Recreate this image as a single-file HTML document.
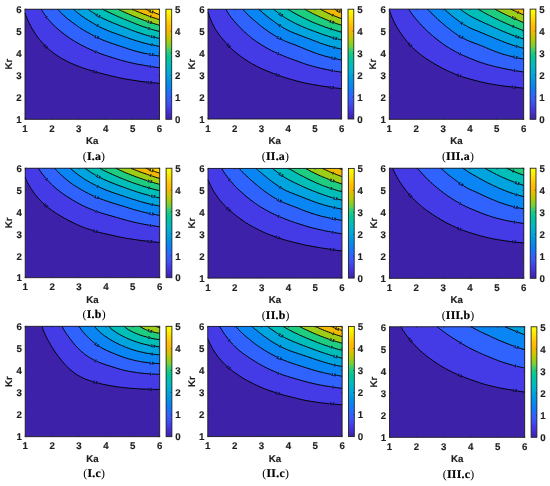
<!DOCTYPE html>
<html lang="en"><head><meta charset="utf-8"><title>Contour plots</title>
<style>html,body{margin:0;padding:0;background:#fff}body{width:550px;height:486px;overflow:hidden}svg{display:block}text{text-rendering:geometricPrecision}</style></head>
<body>
<svg width="550" height="486" viewBox="0 0 550 486">
<defs><linearGradient id="pg" x1="0" y1="1" x2="0" y2="0">
<stop offset="0.0000" stop-color="#3d21a8"/>
<stop offset="0.0159" stop-color="#3e24b4"/>
<stop offset="0.0317" stop-color="#4028c0"/>
<stop offset="0.0476" stop-color="#412ccb"/>
<stop offset="0.0635" stop-color="#4331d5"/>
<stop offset="0.0794" stop-color="#4435de"/>
<stop offset="0.0952" stop-color="#4439e5"/>
<stop offset="0.1111" stop-color="#3f3feb"/>
<stop offset="0.1270" stop-color="#3e4af0"/>
<stop offset="0.1429" stop-color="#3d4ef4"/>
<stop offset="0.1587" stop-color="#3a54f8"/>
<stop offset="0.1746" stop-color="#3759fb"/>
<stop offset="0.1905" stop-color="#345efd"/>
<stop offset="0.2063" stop-color="#2e64fe"/>
<stop offset="0.2222" stop-color="#2769ff"/>
<stop offset="0.2381" stop-color="#1e6ffe"/>
<stop offset="0.2540" stop-color="#1576fc"/>
<stop offset="0.2698" stop-color="#107afa"/>
<stop offset="0.2857" stop-color="#0c80f7"/>
<stop offset="0.3016" stop-color="#0985f3"/>
<stop offset="0.3175" stop-color="#058bef"/>
<stop offset="0.3333" stop-color="#0091eb"/>
<stop offset="0.3492" stop-color="#0095e8"/>
<stop offset="0.3651" stop-color="#009ae5"/>
<stop offset="0.3810" stop-color="#00a0e3"/>
<stop offset="0.3968" stop-color="#00a4df"/>
<stop offset="0.4127" stop-color="#00a9db"/>
<stop offset="0.4286" stop-color="#00add6"/>
<stop offset="0.4444" stop-color="#00b2d0"/>
<stop offset="0.4603" stop-color="#00b6ca"/>
<stop offset="0.4762" stop-color="#00b9c3"/>
<stop offset="0.4921" stop-color="#00bdbd"/>
<stop offset="0.5079" stop-color="#00bfb5"/>
<stop offset="0.5238" stop-color="#00c1ac"/>
<stop offset="0.5397" stop-color="#00c4a4"/>
<stop offset="0.5556" stop-color="#01c79b"/>
<stop offset="0.5714" stop-color="#09c992"/>
<stop offset="0.5873" stop-color="#13cb88"/>
<stop offset="0.6032" stop-color="#21cd7d"/>
<stop offset="0.6190" stop-color="#32ce72"/>
<stop offset="0.6349" stop-color="#43d066"/>
<stop offset="0.6508" stop-color="#69d043"/>
<stop offset="0.6667" stop-color="#7bd035"/>
<stop offset="0.6825" stop-color="#8bcf27"/>
<stop offset="0.6984" stop-color="#9bcd19"/>
<stop offset="0.7143" stop-color="#accc0c"/>
<stop offset="0.7302" stop-color="#bdc902"/>
<stop offset="0.7460" stop-color="#cac700"/>
<stop offset="0.7619" stop-color="#d7c200"/>
<stop offset="0.7778" stop-color="#e2bf00"/>
<stop offset="0.7937" stop-color="#edbc00"/>
<stop offset="0.8095" stop-color="#f7b900"/>
<stop offset="0.8254" stop-color="#ffb801"/>
<stop offset="0.8413" stop-color="#ffbc00"/>
<stop offset="0.8571" stop-color="#ffc200"/>
<stop offset="0.8730" stop-color="#ffc900"/>
<stop offset="0.8889" stop-color="#ffd000"/>
<stop offset="0.9048" stop-color="#ffd800"/>
<stop offset="0.9206" stop-color="#fedf00"/>
<stop offset="0.9365" stop-color="#fce800"/>
<stop offset="0.9524" stop-color="#fcef00"/>
<stop offset="0.9683" stop-color="#fdf500"/>
<stop offset="0.9841" stop-color="#fefc00"/>
<stop offset="1.0000" stop-color="#ffff00"/>
</linearGradient></defs>
<rect width="550" height="486" fill="#fff"/>
<g>
<rect x="25" y="9.2" width="134.5" height="110.1" fill="#3d21a8"/>
<path d="M151.4 82.6L151.7 82.6L153.7 82.8L155.6 83L157.6 83.2L159.5 83.4L159.5 82.6L159.5 81L159.5 79.4L159.5 77.8L159.5 76.2L159.5 74.6L159.5 73L159.5 71.4L159.5 69.8L159.5 68.2L159.5 66.6L159.5 65L159.5 63.5L159.5 61.9L159.5 60.3L159.5 58.7L159.5 57.1L159.5 55.5L159.5 53.9L159.5 52.3L159.5 50.7L159.5 49.1L159.5 47.5L159.5 45.9L159.5 44.3L159.5 42.7L159.5 41.1L159.5 39.5L159.5 37.9L159.5 36.3L159.5 34.7L159.5 33.1L159.5 31.5L159.5 29.9L159.5 28.3L159.5 26.8L159.5 25.2L159.5 23.6L159.5 22L159.5 20.4L159.5 18.8L159.5 17.2L159.5 15.6L159.5 14L159.5 12.4L159.5 10.8L159.5 9.2L157.6 9.2L155.6 9.2L153.7 9.2L151.7 9.2L149.8 9.2L147.8 9.2L145.9 9.2L143.9 9.2L142 9.2L140 9.2L138.1 9.2L136.1 9.2L134.2 9.2L132.2 9.2L130.3 9.2L128.3 9.2L126.4 9.2L124.4 9.2L122.5 9.2L120.5 9.2L118.6 9.2L116.6 9.2L114.7 9.2L112.7 9.2L110.8 9.2L108.8 9.2L106.9 9.2L104.9 9.2L103 9.2L101 9.2L99.1 9.2L97.1 9.2L95.2 9.2L93.2 9.2L91.3 9.2L89.3 9.2L87.4 9.2L85.4 9.2L83.5 9.2L81.5 9.2L79.6 9.2L77.6 9.2L75.7 9.2L73.7 9.2L71.8 9.2L69.8 9.2L67.9 9.2L65.9 9.2L64 9.2L62 9.2L60.1 9.2L58.1 9.2L56.2 9.2L54.2 9.2L52.3 9.2L50.3 9.2L48.4 9.2L46.4 9.2L44.5 9.2L42.5 9.2L40.6 9.2L38.6 9.2L36.7 9.2L34.7 9.2L32.8 9.2L30.8 9.2L28.9 9.2L26.9 9.2L25 9.2L25 10.8L25 12.4L25 13.1L25.3 14L25.9 15.6L26.6 17.2L26.9 18.1L27.2 18.8L27.9 20.4L28.7 22L28.9 22.4L29.5 23.6L30.3 25.2L30.8 26.3L31.1 26.8L32 28.3L32.8 29.7L32.9 29.9L33.9 31.5L34.7 32.9L34.9 33.1L36 34.7L36.7 35.7L37.1 36.3L38.3 37.9L38.6 38.4L39.6 39.5L40.6 40.8L40.9 41.1L42.3 42.7L42.5 43L43.7 44.3L44.5 45.1L45.3 45.9L46.4 47L47 47.5L48.4 48.8L48.7 49.1L50.3 50.5L50.6 50.7L52.3 52L52.6 52.3L54.2 53.5L54.7 53.9L56.2 54.9L57 55.5L58.1 56.2L59.5 57.1L60.1 57.4L62 58.6L62.2 58.7L64 59.7L65.1 60.3L65.9 60.7L67.9 61.7L68.2 61.9L69.8 62.6L71.6 63.5L71.8 63.5L73.7 64.4L75.3 65L75.7 65.2L77.6 66L79.3 66.6L79.6 66.7L81.5 67.5L83.5 68.1L83.8 68.2L85.4 68.8L87.4 69.4L88.7 69.8L89.3 70L91.3 70.6L93.2 71.2L93.9 71.4L95.2 71.8L97.1 72.3L99.1 72.9L99.7 73L101 73.4L103 73.9L104.9 74.4L106.1 74.6L106.9 74.8L108.8 75.3L110.8 75.8L112.7 76.2L112.7 76.2L114.7 76.7L116.6 77.1L118.6 77.6L119.7 77.8L120.5 78L122.5 78.4L124.4 78.8L126.4 79.1L128 79.4L128.3 79.5L130.3 79.8L132.2 80.1L134.2 80.4L136.1 80.7L138.1 81L138.1 81L140 81.3L142 81.5L143.9 81.8L145.9 82L147.8 82.2L149.8 82.4Z" fill="#443be7"/>
<path d="M152 66.6L153.7 66.9L155.6 67.2L157.6 67.5L159.5 67.7L159.5 66.6L159.5 65L159.5 63.5L159.5 61.9L159.5 60.3L159.5 58.7L159.5 57.1L159.5 55.5L159.5 53.9L159.5 52.3L159.5 50.7L159.5 49.1L159.5 47.5L159.5 45.9L159.5 44.3L159.5 42.7L159.5 41.1L159.5 39.5L159.5 37.9L159.5 36.3L159.5 34.7L159.5 33.1L159.5 31.5L159.5 29.9L159.5 28.3L159.5 26.8L159.5 25.2L159.5 23.6L159.5 22L159.5 20.4L159.5 18.8L159.5 17.2L159.5 15.6L159.5 14L159.5 12.4L159.5 10.8L159.5 9.2L157.6 9.2L155.6 9.2L153.7 9.2L151.7 9.2L149.8 9.2L147.8 9.2L145.9 9.2L143.9 9.2L142 9.2L140 9.2L138.1 9.2L136.1 9.2L134.2 9.2L132.2 9.2L130.3 9.2L128.3 9.2L126.4 9.2L124.4 9.2L122.5 9.2L120.5 9.2L118.6 9.2L116.6 9.2L114.7 9.2L112.7 9.2L110.8 9.2L108.8 9.2L106.9 9.2L104.9 9.2L103 9.2L101 9.2L99.1 9.2L97.1 9.2L95.2 9.2L93.2 9.2L91.3 9.2L89.3 9.2L87.4 9.2L85.4 9.2L83.5 9.2L81.5 9.2L79.6 9.2L77.6 9.2L75.7 9.2L73.7 9.2L71.8 9.2L69.8 9.2L67.9 9.2L65.9 9.2L64 9.2L62 9.2L60.1 9.2L58.1 9.2L56.2 9.2L54.2 9.2L52.3 9.2L50.3 9.2L48.4 9.2L46.4 9.2L44.5 9.2L42.5 9.2L41.2 9.2L42.2 10.8L42.5 11.4L43.2 12.4L44.3 14L44.5 14.3L45.4 15.6L46.4 16.9L46.6 17.2L47.9 18.8L48.4 19.4L49.2 20.4L50.3 21.7L50.6 22L52.1 23.6L52.3 23.8L53.6 25.2L54.2 25.8L55.3 26.8L56.2 27.6L57 28.3L58.1 29.3L58.9 29.9L60.1 30.9L60.8 31.5L62 32.5L62.8 33.1L64 34L64.9 34.7L65.9 35.5L67.1 36.3L67.9 36.9L69.4 37.9L69.8 38.2L71.8 39.5L71.8 39.5L73.7 40.7L74.3 41.1L75.7 41.9L77 42.7L77.6 43L79.6 44.1L79.9 44.3L81.5 45.2L83 45.9L83.5 46.2L85.4 47.1L86.2 47.5L87.4 48.1L89.3 49L89.6 49.1L91.3 49.9L93.2 50.7L93.2 50.7L95.2 51.5L97 52.3L97.1 52.3L99.1 53.1L101 53.8L101.2 53.9L103 54.5L104.9 55.2L105.8 55.5L106.9 55.8L108.8 56.5L110.7 57.1L110.8 57.1L112.7 57.7L114.7 58.3L115.9 58.7L116.6 58.9L118.6 59.5L120.5 60.1L121.2 60.3L122.5 60.6L124.4 61.1L126.4 61.6L127.3 61.9L128.3 62.1L130.3 62.6L132.2 63L134.2 63.5L134.2 63.5L136.1 63.9L138.1 64.3L140 64.6L142 65L142.3 65L143.9 65.3L145.9 65.7L147.8 66L149.8 66.3L151.7 66.6Z" fill="#3062fd"/>
<path d="M156 55.5L157.6 55.8L159.5 56.1L159.5 55.5L159.5 53.9L159.5 52.3L159.5 50.7L159.5 49.1L159.5 47.5L159.5 45.9L159.5 44.3L159.5 42.7L159.5 41.1L159.5 39.5L159.5 37.9L159.5 36.3L159.5 34.7L159.5 33.1L159.5 31.5L159.5 29.9L159.5 28.3L159.5 26.8L159.5 25.2L159.5 23.6L159.5 22L159.5 20.4L159.5 18.8L159.5 17.2L159.5 15.6L159.5 14L159.5 12.4L159.5 10.8L159.5 9.2L157.6 9.2L155.6 9.2L153.7 9.2L151.7 9.2L149.8 9.2L147.8 9.2L145.9 9.2L143.9 9.2L142 9.2L140 9.2L138.1 9.2L136.1 9.2L134.2 9.2L132.2 9.2L130.3 9.2L128.3 9.2L126.4 9.2L124.4 9.2L122.5 9.2L120.5 9.2L118.6 9.2L116.6 9.2L114.7 9.2L112.7 9.2L110.8 9.2L108.8 9.2L106.9 9.2L104.9 9.2L103 9.2L101 9.2L99.1 9.2L97.1 9.2L95.2 9.2L93.2 9.2L91.3 9.2L89.3 9.2L87.4 9.2L85.4 9.2L83.5 9.2L81.5 9.2L79.6 9.2L77.6 9.2L75.7 9.2L73.7 9.2L71.8 9.2L69.8 9.2L67.9 9.2L65.9 9.2L64 9.2L62 9.2L60.1 9.2L58.1 9.2L57.7 9.2L58.1 9.7L59.2 10.8L60.1 11.8L60.7 12.4L62 13.8L62.3 14L63.9 15.6L64 15.6L65.7 17.2L65.9 17.4L67.6 18.8L67.9 19L69.7 20.4L69.8 20.5L71.8 21.9L71.9 22L73.7 23.4L74 23.6L75.7 24.8L76.2 25.2L77.6 26.2L78.4 26.8L79.6 27.6L80.8 28.3L81.5 28.8L83.3 29.9L83.5 30.1L85.4 31.2L86 31.5L87.4 32.3L89 33.1L89.3 33.3L91.3 34.4L91.9 34.7L93.2 35.4L95 36.3L95.2 36.4L97.1 37.4L98.1 37.9L99.1 38.4L101 39.3L101.6 39.5L103 40.1L104.9 40.9L105.6 41.1L106.9 41.6L108.8 42.3L110 42.7L110.8 43L112.7 43.7L114.6 44.3L114.7 44.3L116.6 45L118.6 45.7L119.3 45.9L120.5 46.3L122.5 46.9L124.2 47.5L124.4 47.6L126.4 48.2L128.3 48.9L128.9 49.1L130.3 49.5L132.2 50.1L134 50.7L134.2 50.7L136.1 51.3L138.1 51.8L140 52.3L140 52.3L142 52.7L143.9 53.2L145.9 53.6L147.5 53.9L147.8 53.9L149.8 54.3L151.7 54.7L153.7 55L155.6 55.4Z" fill="#0986f3"/>
<path d="M156.9 45.9L157.6 46L159.5 46.4L159.5 45.9L159.5 44.3L159.5 42.7L159.5 41.1L159.5 39.5L159.5 37.9L159.5 36.3L159.5 34.7L159.5 33.1L159.5 31.5L159.5 29.9L159.5 28.3L159.5 26.8L159.5 25.2L159.5 23.6L159.5 22L159.5 20.4L159.5 18.8L159.5 17.2L159.5 15.6L159.5 14L159.5 12.4L159.5 10.8L159.5 9.2L157.6 9.2L155.6 9.2L153.7 9.2L151.7 9.2L149.8 9.2L147.8 9.2L145.9 9.2L143.9 9.2L142 9.2L140 9.2L138.1 9.2L136.1 9.2L134.2 9.2L132.2 9.2L130.3 9.2L128.3 9.2L126.4 9.2L124.4 9.2L122.5 9.2L120.5 9.2L118.6 9.2L116.6 9.2L114.7 9.2L112.7 9.2L110.8 9.2L108.8 9.2L106.9 9.2L104.9 9.2L103 9.2L101 9.2L99.1 9.2L97.1 9.2L95.2 9.2L93.2 9.2L91.3 9.2L89.3 9.2L87.4 9.2L85.4 9.2L83.5 9.2L81.5 9.2L79.6 9.2L77.6 9.2L75.7 9.2L73.7 9.2L73.4 9.2L73.7 9.5L75.2 10.8L75.7 11.2L77.2 12.4L77.6 12.8L79.2 14L79.6 14.3L81.3 15.6L81.5 15.8L83.5 17.2L83.5 17.2L85.4 18.5L85.8 18.8L87.4 19.7L88.4 20.4L89.3 20.9L91.1 22L91.3 22.1L93.2 23.2L93.8 23.6L95.2 24.4L96.6 25.2L97.1 25.5L99.1 26.5L99.5 26.8L101 27.5L102.7 28.3L103 28.5L104.9 29.3L106.3 29.9L106.9 30.2L108.8 31L110.2 31.5L110.8 31.8L112.7 32.5L114.4 33.1L114.7 33.2L116.6 33.9L118.6 34.6L118.8 34.7L120.5 35.3L122.5 36L123.3 36.3L124.4 36.7L126.4 37.4L127.9 37.9L128.3 38.1L130.3 38.8L132.2 39.4L132.5 39.5L134.2 40.1L136.1 40.7L137.4 41.1L138.1 41.3L140 41.9L142 42.5L142.9 42.7L143.9 43L145.9 43.5L147.8 44L149.3 44.3L149.8 44.4L151.7 44.8L153.7 45.2L155.6 45.6Z" fill="#00a5df"/>
<path d="M157.1 37.9L157.6 38L159.5 38.5L159.5 37.9L159.5 36.3L159.5 34.7L159.5 33.1L159.5 31.5L159.5 29.9L159.5 28.3L159.5 26.8L159.5 25.2L159.5 23.6L159.5 22L159.5 20.4L159.5 18.8L159.5 17.2L159.5 15.6L159.5 14L159.5 12.4L159.5 10.8L159.5 9.2L157.6 9.2L155.6 9.2L153.7 9.2L151.7 9.2L149.8 9.2L147.8 9.2L145.9 9.2L143.9 9.2L142 9.2L140 9.2L138.1 9.2L136.1 9.2L134.2 9.2L132.2 9.2L130.3 9.2L128.3 9.2L126.4 9.2L124.4 9.2L122.5 9.2L120.5 9.2L118.6 9.2L116.6 9.2L114.7 9.2L112.7 9.2L110.8 9.2L108.8 9.2L106.9 9.2L104.9 9.2L103 9.2L101 9.2L99.1 9.2L97.1 9.2L95.2 9.2L93.2 9.2L91.3 9.2L89.3 9.2L88 9.2L89.3 10.2L90.2 10.8L91.3 11.5L92.6 12.4L93.2 12.8L95.2 14L95.2 14L97.1 15.2L97.9 15.6L99.1 16.3L100.7 17.2L101 17.4L103 18.4L103.8 18.8L104.9 19.3L106.9 20.2L107.2 20.4L108.8 21.1L110.8 21.9L110.9 22L112.7 22.7L114.7 23.5L114.7 23.6L116.6 24.3L118.6 25.1L118.7 25.2L120.5 25.9L122.5 26.6L122.8 26.8L124.4 27.4L126.4 28.1L126.9 28.3L128.3 28.9L130.3 29.6L131.1 29.9L132.2 30.4L134.2 31.1L135.4 31.5L136.1 31.8L138.1 32.5L140 33.1L140 33.1L142 33.8L143.9 34.4L144.9 34.7L145.9 35L147.8 35.6L149.8 36.1L150.6 36.3L151.7 36.6L153.7 37.1L155.6 37.6Z" fill="#00beb8"/>
<path d="M153.7 29.9L155.6 30.5L157.6 31L159.5 31.5L159.5 29.9L159.5 28.3L159.5 26.8L159.5 25.2L159.5 23.6L159.5 22L159.5 20.4L159.5 18.8L159.5 17.2L159.5 15.6L159.5 14L159.5 12.4L159.5 10.8L159.5 9.2L157.6 9.2L155.6 9.2L153.7 9.2L151.7 9.2L149.8 9.2L147.8 9.2L145.9 9.2L143.9 9.2L142 9.2L140 9.2L138.1 9.2L136.1 9.2L134.2 9.2L132.2 9.2L130.3 9.2L128.3 9.2L126.4 9.2L124.4 9.2L122.5 9.2L120.5 9.2L118.6 9.2L116.6 9.2L114.7 9.2L112.7 9.2L110.8 9.2L108.8 9.2L106.9 9.2L104.9 9.2L103 9.2L102.6 9.2L103 9.4L104.9 10.4L105.6 10.8L106.9 11.4L108.8 12.3L109 12.4L110.8 13.2L112.4 14L112.7 14.1L114.7 15L115.9 15.6L116.6 15.9L118.6 16.8L119.5 17.2L120.5 17.6L122.5 18.4L123.4 18.8L124.4 19.2L126.4 20L127.3 20.4L128.3 20.8L130.3 21.6L131.2 22L132.2 22.4L134.2 23.2L135.1 23.6L136.1 24L138.1 24.7L139.2 25.2L140 25.5L142 26.2L143.6 26.8L143.9 26.8L145.9 27.5L147.8 28.1L148.5 28.3L149.8 28.8L151.7 29.4L153.7 29.9Z" fill="#1ecd7f"/>
<path d="M159 25.2L159.5 25.3L159.5 25.2L159.5 23.6L159.5 22L159.5 20.4L159.5 18.8L159.5 17.2L159.5 15.6L159.5 14L159.5 12.4L159.5 10.8L159.5 9.2L157.6 9.2L155.6 9.2L153.7 9.2L151.7 9.2L149.8 9.2L147.8 9.2L145.9 9.2L143.9 9.2L142 9.2L140 9.2L138.1 9.2L136.1 9.2L134.2 9.2L132.2 9.2L130.3 9.2L128.3 9.2L126.4 9.2L124.4 9.2L122.5 9.2L120.5 9.2L118.6 9.2L117.9 9.2L118.6 9.5L120.5 10.4L121.3 10.8L122.5 11.3L124.4 12.2L124.9 12.4L126.4 13L128.3 13.9L128.5 14L130.3 14.7L132.2 15.6L132.2 15.6L134.2 16.4L136 17.2L136.1 17.2L138.1 18L140 18.7L140.1 18.8L142 19.5L143.9 20.2L144.3 20.4L145.9 20.9L147.8 21.6L148.9 22L149.8 22.3L151.7 22.9L153.7 23.5L153.8 23.6L155.6 24.1L157.6 24.7Z" fill="#9ecd17"/>
<path d="M156.7 18.8L157.6 19L159.5 19.7L159.5 18.8L159.5 17.2L159.5 15.6L159.5 14L159.5 12.4L159.5 10.8L159.5 9.2L157.6 9.2L155.6 9.2L153.7 9.2L151.7 9.2L149.8 9.2L147.8 9.2L145.9 9.2L143.9 9.2L142 9.2L140 9.2L138.1 9.2L136.1 9.2L134.2 9.2L132.2 9.2L132.1 9.2L132.2 9.2L134.2 10.1L135.7 10.8L136.1 11L138.1 11.8L139.4 12.4L140 12.6L142 13.4L143.4 14L143.9 14.2L145.9 14.9L147.6 15.6L147.8 15.7L149.8 16.4L151.7 17.1L152 17.2L153.7 17.8L155.6 18.4Z" fill="#f1ba00"/>
<path d="M157.8 14L159.5 14.6L159.5 14L159.5 12.4L159.5 10.8L159.5 9.2L157.6 9.2L155.6 9.2L153.7 9.2L151.7 9.2L149.8 9.2L147.8 9.2L145.9 9.2L145.5 9.2L145.9 9.3L147.8 10.1L149.4 10.8L149.8 10.9L151.7 11.7L153.5 12.4L153.7 12.4L155.6 13.2L157.6 13.9Z" fill="#ffd600"/>
<path d="M25 13.1L25.3 14L25.9 15.6L26.6 17.2L26.9 18.1L27.2 18.8L27.9 20.4L28.7 22L28.9 22.4L29.5 23.6L30.3 25.2L30.8 26.3L31.1 26.8L32 28.3L32.8 29.7L32.9 29.9L33.9 31.5L34.7 32.9L34.9 33.1L36 34.7L36.7 35.7L37.1 36.3L38.3 37.9L38.6 38.4L39.6 39.5L40.6 40.8L40.9 41.1L42.3 42.7L42.5 43L43.7 44.3L43.9 44.4M47.6 48.1L48.4 48.8L48.7 49.1L50.3 50.5L50.6 50.7L52.3 52L52.6 52.3L54.2 53.5L54.7 53.9L56.2 54.9L57 55.5L58.1 56.2L59.5 57.1L60.1 57.4L62 58.6L62.2 58.7L64 59.7L65.1 60.3L65.9 60.7L67.9 61.7L68.2 61.9L69.8 62.6L71.6 63.5L71.8 63.5L73.7 64.4L75.3 65L75.7 65.2L77.6 66L79.3 66.6L79.6 66.7L81.5 67.5L83.5 68.1L83.8 68.2L85.4 68.8L87.4 69.4L88.7 69.8L89.3 70L91.3 70.6L92.4 71M97.4 72.4L99.1 72.9L99.7 73L101 73.4L103 73.9L104.9 74.4L106.1 74.6L106.9 74.8L108.8 75.3L110.8 75.8L112.7 76.2L112.7 76.2L114.7 76.7L116.6 77.1L118.6 77.6L119.7 77.8L120.5 78L122.5 78.4L124.4 78.8L126.4 79.1L128 79.4L128.3 79.5L130.3 79.8L132.2 80.1L134.2 80.4L136.1 80.7L138.1 81L138.1 81L140 81.3L142 81.5L143.9 81.8L145.9 82L147 82.1M152.1 82.7L153.7 82.8L155.6 83L157.6 83.2L159.5 83.4M41.2 9.2L42.2 10.8L42.5 11.4L43.2 12.4L44.3 14L44.5 14.3L45.4 15.6L45.9 16.1M47.2 17.9L47.9 18.8L48.4 19.4L49.2 20.4L50.3 21.7L50.6 22L52.1 23.6L52.3 23.8L53.6 25.2L54.2 25.8L55.3 26.8L56.2 27.6L57 28.3L58.1 29.3L58.9 29.9L60.1 30.9L60.8 31.5L62 32.5L62.8 33.1L64 34L64.9 34.7L65.9 35.5L67.1 36.3L67.9 36.9L69.4 37.9L69.8 38.2L71.8 39.5L71.8 39.5L73.7 40.7L74.3 41.1L75.7 41.9L77 42.7L77.6 43L79.6 44.1L79.9 44.3L81.5 45.2L83 45.9L83.5 46.2L85.4 47.1L86.2 47.5L87.4 48.1L89.3 49L89.6 49.1L91.3 49.9L93.2 50.7L93.2 50.7L94.7 51.4M96.8 52.2L97 52.3L97.1 52.3L99.1 53.1L101 53.8L101.2 53.9L103 54.5L104.9 55.2L105.8 55.5L106.9 55.8L108.8 56.5L110.7 57.1L110.8 57.1L112.7 57.7L114.7 58.3L115.9 58.7L116.6 58.9L118.6 59.5L120.5 60.1L121.2 60.3L122.5 60.6L124.4 61.1L126.4 61.6L127.3 61.9L128.3 62.1L130.3 62.6L132.2 63L134.2 63.5L134.2 63.5L136.1 63.9L138.1 64.3L140 64.6L142 65L142.3 65L143.9 65.3L145.9 65.7L147.8 66L149.3 66.2M151.4 66.6L151.7 66.6L152 66.6L153.7 66.9L155.6 67.2L157.6 67.5L159.5 67.7M57.7 9.2L58.1 9.7L59.2 10.8L60.1 11.8L60.7 12.4L62 13.8L62.3 14L63.9 15.6L64 15.6L65.7 17.2L65.9 17.4L67.6 18.8L67.9 19L69.7 20.4L69.8 20.5L71.8 21.9L71.9 22L73.7 23.4L74 23.6L75.7 24.8L76.2 25.2L77.6 26.2L78.4 26.8L79.6 27.6L80.8 28.3L81.5 28.8L83.3 29.9L83.5 30.1L85.4 31.2L86 31.5L87.4 32.3L89 33.1L89.3 33.3L91.3 34.4L91.9 34.7L93.2 35.4L94.2 35.9M98.9 38.3L99.1 38.4L101 39.3L101.6 39.5L103 40.1L104.9 40.9L105.6 41.1L106.9 41.6L108.8 42.3L110 42.7L110.8 43L112.7 43.7L114.6 44.3L114.7 44.3L116.6 45L118.6 45.7L119.3 45.9L120.5 46.3L122.5 46.9L124.2 47.5L124.4 47.6L126.4 48.2L128.3 48.9L128.9 49.1L130.3 49.5L132.2 50.1L134 50.7L134.2 50.7L136.1 51.3L138.1 51.8L140 52.3L140 52.3L142 52.7L143.9 53.2L145.9 53.6L147.5 53.9L147.8 53.9L148.6 54.1M153.7 55.1L155.6 55.4L156 55.5L157.6 55.8L159.5 56.1M73.4 9.2L73.7 9.5L75.2 10.8L75.7 11.2L77.2 12.4L77.6 12.8L79.2 14L79.6 14.3L81.3 15.6L81.5 15.8L83.5 17.2L83.5 17.2L85.4 18.5L85.8 18.8L87.4 19.7L88.4 20.4L89.3 20.9L91.1 22L91.3 22.1L93.2 23.2L93.8 23.6L95.2 24.4L96.4 25M98.3 26.1L99.1 26.5L99.5 26.8L101 27.5L102.7 28.3L103 28.5L104.9 29.3L106.3 29.9L106.9 30.2L108.8 31L110.2 31.5L110.8 31.8L112.7 32.5L114.4 33.1L114.7 33.2L116.6 33.9L118.6 34.6L118.8 34.7L120.5 35.3L122.5 36L123.3 36.3L124.4 36.7L126.4 37.4L127.9 37.9L128.3 38.1L130.3 38.8L132.2 39.4L132.5 39.5L134.2 40.1L136.1 40.7L137.4 41.1L138.1 41.3L140 41.9L142 42.5L142.9 42.7L143.9 43L145.9 43.5L147.8 44L149.3 44.3L149.8 44.4L150.9 44.6M153 45.1L153.7 45.2L155.6 45.6L156.9 45.9L157.6 46L159.5 46.4M88 9.2L89.3 10.2L90.2 10.8L91.3 11.5L92.6 12.4L93.2 12.8L95.2 14L95.2 14L95.9 14.4M100.4 17L100.7 17.2L101 17.4L103 18.4L103.8 18.8L104.9 19.3L106.9 20.2L107.2 20.4L108.8 21.1L110.8 21.9L110.9 22L112.7 22.7L114.7 23.5L114.7 23.6L116.6 24.3L118.6 25.1L118.7 25.2L120.5 25.9L122.5 26.6L122.8 26.8L124.4 27.4L126.4 28.1L126.9 28.3L128.3 28.9L130.3 29.6L131.1 29.9L132.2 30.4L134.2 31.1L135.4 31.5L136.1 31.8L138.1 32.5L140 33.1L140 33.1L142 33.8L143.9 34.4L144.9 34.7L145.9 35L147.8 35.6L149.8 36.1L150.2 36.2M155.3 37.5L155.6 37.6L157.1 37.9L157.6 38L159.5 38.5M102.6 9.2L103 9.4L104.9 10.4L105.6 10.8L106.9 11.4L108.8 12.3L109 12.4L110.8 13.2L112.4 14L112.7 14.1L114.7 15L115.9 15.6L116.6 15.9L118.6 16.8L119.5 17.2L120.5 17.6L122.5 18.4L123.4 18.8L124.4 19.2L126.4 20L127.3 20.4L128.3 20.8L130.3 21.6L131.2 22L132.2 22.4L134.2 23.2L135.1 23.6L136.1 24L138.1 24.7L139.2 25.2L140 25.5L142 26.2L143.6 26.8L143.9 26.8L145.9 27.5L147.7 28.1M149.8 28.8L151.7 29.4L153.7 29.9L153.7 29.9L155.6 30.5L157.6 31L159.5 31.5M117.9 9.2L118.6 9.5L120.5 10.4L121.3 10.8L122.5 11.3L124.4 12.2L124.9 12.4L126.4 13L128.3 13.9L128.5 14L130.3 14.7L132.2 15.6L132.2 15.6L134.2 16.4L136 17.2L136.1 17.2L138.1 18L140 18.7L140.1 18.8L142 19.5L143.9 20.2L144.3 20.4L145.9 20.9L147.1 21.4M152 23L153.7 23.5L153.8 23.6L155.6 24.1L157.6 24.7L159 25.2L159.5 25.3M132.1 9.2L132.2 9.2L134.2 10.1L135.7 10.8L136.1 11L138.1 11.8L139.4 12.4L140 12.6L142 13.4L143.4 14L143.9 14.2L145.9 14.9L147.6 15.6L147.8 15.7L149.3 16.2M151.4 17L151.7 17.1L152 17.2L153.7 17.8L155.6 18.4L156.7 18.8L157.6 19L159.5 19.7M145.5 9.2L145.9 9.3L147.8 10.1L148.7 10.5M153.6 12.4L153.7 12.4L155.6 13.2L157.6 13.9L157.8 14L159.5 14.6" fill="none" stroke="#000" stroke-width="1" stroke-linejoin="round"/>
<g font-family="'Liberation Sans', Arial, sans-serif" font-size="3.4" font-weight="bold" fill="#0a0a28" stroke="#0a0a28" stroke-width="0.25" text-anchor="middle">
<text transform="translate(45.7 46.3) rotate(44.3)" y="1.1">0.5</text>
<text transform="translate(94.9 71.7) rotate(16.1)" y="1.1">0.5</text>
<text transform="translate(149.6 82.4) rotate(6.1)" y="1.1">0.5</text>
<text transform="translate(46.5 17) rotate(52.8)" y="1.1">1</text>
<text transform="translate(95.7 51.8) rotate(22.2)" y="1.1">1</text>
<text transform="translate(150.4 66.4) rotate(8.8)" y="1.1">1</text>
<text transform="translate(96.5 37.1) rotate(26.6)" y="1.1">1.5</text>
<text transform="translate(151.2 54.6) rotate(10.6)" y="1.1">1.5</text>
<text transform="translate(97.3 25.6) rotate(28.8)" y="1.1">2</text>
<text transform="translate(152 44.9) rotate(12.1)" y="1.1">2</text>
<text transform="translate(98.1 15.8) rotate(29.9)" y="1.1">2.5</text>
<text transform="translate(152.8 36.9) rotate(14)" y="1.1">2.5</text>
<text transform="translate(148.8 28.4) rotate(17.6)" y="1.1">3</text>
<text transform="translate(149.6 22.2) rotate(18.4)" y="1.1">3.5</text>
<text transform="translate(150.4 16.6) rotate(19.7)" y="1.1">4</text>
<text transform="translate(151.2 11.5) rotate(21.4)" y="1.1">4.5</text>
</g>
<rect x="25" y="9.2" width="134.5" height="110.1" fill="none" stroke="#1c1c1c" stroke-width="0.9"/>
<path d="M25 119.3v-1.4M25 9.2v1.4M25 119.3h1.4M159.5 119.3h-1.4M51.9 119.3v-1.4M51.9 9.2v1.4M25 97.3h1.4M159.5 97.3h-1.4M78.8 119.3v-1.4M78.8 9.2v1.4M25 75.3h1.4M159.5 75.3h-1.4M105.7 119.3v-1.4M105.7 9.2v1.4M25 53.2h1.4M159.5 53.2h-1.4M132.6 119.3v-1.4M132.6 9.2v1.4M25 31.2h1.4M159.5 31.2h-1.4M159.5 119.3v-1.4M159.5 9.2v1.4M25 9.2h1.4M159.5 9.2h-1.4" stroke="#262626" stroke-width="0.6" fill="none"/>
<g font-family="'Liberation Sans', Arial, sans-serif" font-weight="bold" font-size="9.7" fill="#1f1f1f" stroke="#1f1f1f" stroke-width="0.15">
<text x="25" y="131.9" text-anchor="middle">1</text>
<text x="21.6" y="123" text-anchor="end">1</text>
<text x="51.9" y="131.9" text-anchor="middle">2</text>
<text x="21.6" y="101" text-anchor="end">2</text>
<text x="78.8" y="131.9" text-anchor="middle">3</text>
<text x="21.6" y="79" text-anchor="end">3</text>
<text x="105.7" y="131.9" text-anchor="middle">4</text>
<text x="21.6" y="56.9" text-anchor="end">4</text>
<text x="132.6" y="131.9" text-anchor="middle">5</text>
<text x="21.6" y="34.9" text-anchor="end">5</text>
<text x="159.5" y="131.9" text-anchor="middle">6</text>
<text x="21.6" y="12.9" text-anchor="end">6</text>
<text x="92.2" y="144.4" text-anchor="middle">Ka</text>
<text transform="translate(12.1 64.2) rotate(-90)" text-anchor="middle">Kr</text>
<rect x="165.9" y="9.2" width="5.8" height="110.1" fill="url(#pg)" stroke="#1c1c1c" stroke-width="0.85" />
<text x="175.1" y="123">0</text>
<text x="175.1" y="101">1</text>
<text x="175.1" y="79">2</text>
<text x="175.1" y="56.9">3</text>
<text x="175.1" y="34.9">4</text>
<text x="175.1" y="12.9">5</text>
</g>
<path d="M171.7 97.3h-1.2M171.7 75.3h-1.2M171.7 53.2h-1.2M171.7 31.2h-1.2" stroke="#262626" stroke-width="0.6" fill="none"/>
<text x="94" y="159.9" text-anchor="middle" font-family="'Liberation Serif', 'Times New Roman', serif" font-size="11.8" letter-spacing="0.25" fill="#000">(<tspan font-weight="bold" stroke="#000" stroke-width="0.2">I.a</tspan>)</text>
</g>
<g>
<rect x="208" y="9.2" width="133.6" height="109.8" fill="#3d21a8"/>
<path d="M329.9 87.2L330 87.2L331.9 87.5L333.9 87.7L335.8 88L337.7 88.2L339.7 88.4L341.6 88.7L341.6 87.2L341.6 85.6L341.6 84L341.6 82.4L341.6 80.8L341.6 79.2L341.6 77.6L341.6 76L341.6 74.4L341.6 72.9L341.6 71.3L341.6 69.7L341.6 68.1L341.6 66.5L341.6 64.9L341.6 63.3L341.6 61.7L341.6 60.1L341.6 58.5L341.6 56.9L341.6 55.3L341.6 53.8L341.6 52.2L341.6 50.6L341.6 49L341.6 47.4L341.6 45.8L341.6 44.2L341.6 42.6L341.6 41L341.6 39.4L341.6 37.8L341.6 36.3L341.6 34.7L341.6 33.1L341.6 31.5L341.6 29.9L341.6 28.3L341.6 26.7L341.6 25.1L341.6 23.5L341.6 21.9L341.6 20.3L341.6 18.7L341.6 17.2L341.6 15.6L341.6 14L341.6 12.4L341.6 10.8L341.6 9.2L339.7 9.2L337.7 9.2L335.8 9.2L333.9 9.2L331.9 9.2L330 9.2L328 9.2L326.1 9.2L324.2 9.2L322.2 9.2L320.3 9.2L318.4 9.2L316.4 9.2L314.5 9.2L312.6 9.2L310.6 9.2L308.7 9.2L306.7 9.2L304.8 9.2L302.9 9.2L300.9 9.2L299 9.2L297.1 9.2L295.1 9.2L293.2 9.2L291.3 9.2L289.3 9.2L287.4 9.2L285.4 9.2L283.5 9.2L281.6 9.2L279.6 9.2L277.7 9.2L275.8 9.2L273.8 9.2L271.9 9.2L270 9.2L268 9.2L266.1 9.2L264.2 9.2L262.2 9.2L260.3 9.2L258.3 9.2L256.4 9.2L254.5 9.2L252.5 9.2L250.6 9.2L248.7 9.2L246.7 9.2L244.8 9.2L242.9 9.2L240.9 9.2L239 9.2L237 9.2L235.1 9.2L233.2 9.2L231.2 9.2L229.3 9.2L227.4 9.2L225.4 9.2L223.5 9.2L221.6 9.2L219.6 9.2L217.7 9.2L215.7 9.2L213.8 9.2L211.9 9.2L209.9 9.2L208 9.2L208 10.8L208 11.9L208.1 12.4L208.7 14L209.2 15.6L209.8 17.2L209.9 17.5L210.4 18.7L211 20.3L211.7 21.9L211.9 22.3L212.4 23.5L213.2 25.1L213.8 26.4L214 26.7L214.9 28.3L215.7 29.7L215.9 29.9L216.9 31.5L217.7 32.6L218 33.1L219.2 34.7L219.6 35.3L220.4 36.3L221.6 37.7L221.7 37.8L223 39.4L223.5 40L224.4 41L225.4 42.2L225.8 42.6L227.2 44.2L227.4 44.4L228.7 45.8L229.3 46.4L230.3 47.4L231.2 48.3L231.9 49L233.2 50.2L233.6 50.6L235.1 51.9L235.5 52.2L237 53.5L237.4 53.8L239 55L239.4 55.3L240.9 56.5L241.5 56.9L242.9 57.9L243.8 58.5L244.8 59.2L246.2 60.1L246.7 60.5L248.7 61.7L248.7 61.7L250.6 62.9L251.4 63.3L252.5 64L254.2 64.9L254.5 65L256.4 66.1L257.2 66.5L258.3 67L260.3 68L260.5 68.1L262.2 68.9L264 69.7L264.2 69.7L266.1 70.6L267.8 71.3L268 71.4L270 72.1L271.8 72.9L271.9 72.9L273.8 73.6L275.8 74.4L276 74.4L277.7 75.1L279.6 75.8L280.4 76L281.6 76.5L283.5 77.1L285.1 77.6L285.4 77.7L287.4 78.3L289.3 78.9L290.5 79.2L291.3 79.4L293.2 80L295.1 80.5L296.1 80.8L297.1 81.1L299 81.6L300.9 82.1L302.4 82.4L302.9 82.5L304.8 83L306.7 83.4L308.7 83.7L310 84L310.6 84.1L312.6 84.5L314.5 84.8L316.4 85.1L318.4 85.4L319.2 85.6L320.3 85.8L322.2 86.1L324.2 86.4L326.1 86.6L328 86.9Z" fill="#443be7"/>
<path d="M335.7 71.3L335.8 71.3L337.7 71.6L339.7 71.9L341.6 72.3L341.6 71.3L341.6 69.7L341.6 68.1L341.6 66.5L341.6 64.9L341.6 63.3L341.6 61.7L341.6 60.1L341.6 58.5L341.6 56.9L341.6 55.3L341.6 53.8L341.6 52.2L341.6 50.6L341.6 49L341.6 47.4L341.6 45.8L341.6 44.2L341.6 42.6L341.6 41L341.6 39.4L341.6 37.8L341.6 36.3L341.6 34.7L341.6 33.1L341.6 31.5L341.6 29.9L341.6 28.3L341.6 26.7L341.6 25.1L341.6 23.5L341.6 21.9L341.6 20.3L341.6 18.7L341.6 17.2L341.6 15.6L341.6 14L341.6 12.4L341.6 10.8L341.6 9.2L339.7 9.2L337.7 9.2L335.8 9.2L333.9 9.2L331.9 9.2L330 9.2L328 9.2L326.1 9.2L324.2 9.2L322.2 9.2L320.3 9.2L318.4 9.2L316.4 9.2L314.5 9.2L312.6 9.2L310.6 9.2L308.7 9.2L306.7 9.2L304.8 9.2L302.9 9.2L300.9 9.2L299 9.2L297.1 9.2L295.1 9.2L293.2 9.2L291.3 9.2L289.3 9.2L287.4 9.2L285.4 9.2L283.5 9.2L281.6 9.2L279.6 9.2L277.7 9.2L275.8 9.2L273.8 9.2L271.9 9.2L270 9.2L268 9.2L266.1 9.2L264.2 9.2L262.2 9.2L260.3 9.2L258.3 9.2L256.4 9.2L254.5 9.2L252.5 9.2L250.6 9.2L248.7 9.2L246.7 9.2L244.8 9.2L242.9 9.2L240.9 9.2L239 9.2L237 9.2L235.1 9.2L233.2 9.2L231.2 9.2L229.3 9.2L227.4 9.2L225.7 9.2L226.7 10.8L227.4 11.9L227.7 12.4L228.7 14L229.3 14.8L229.8 15.6L231 17.2L231.2 17.4L232.2 18.7L233.2 19.9L233.5 20.3L234.9 21.9L235.1 22.2L236.3 23.5L237 24.3L237.8 25.1L239 26.4L239.3 26.7L240.8 28.3L240.9 28.4L242.4 29.9L242.9 30.3L244.1 31.5L244.8 32.1L245.8 33.1L246.7 33.9L247.6 34.7L248.7 35.6L249.4 36.3L250.6 37.3L251.3 37.8L252.5 38.8L253.4 39.4L254.5 40.2L255.7 41L256.4 41.5L258 42.6L258.3 42.8L260.3 44.1L260.5 44.2L262.2 45.3L263.1 45.8L264.2 46.5L265.7 47.4L266.1 47.6L268 48.7L268.5 49L270 49.7L271.6 50.6L271.9 50.7L273.8 51.7L274.9 52.2L275.8 52.5L277.7 53.4L278.5 53.8L279.6 54.3L281.6 55.1L282.2 55.3L283.5 55.9L285.4 56.7L286.1 56.9L287.4 57.5L289.3 58.2L290.2 58.5L291.3 58.9L293.2 59.6L294.5 60.1L295.1 60.3L297.1 61L298.9 61.7L299 61.7L300.9 62.5L302.9 63.2L303.3 63.3L304.8 63.8L306.7 64.5L308.2 64.9L308.7 65L310.6 65.6L312.6 66.2L313.8 66.5L314.5 66.7L316.4 67.2L318.4 67.7L320.2 68.1L320.3 68.1L322.2 68.6L324.2 69L326.1 69.4L327.4 69.7L328 69.8L330 70.2L331.9 70.6L333.9 70.9Z" fill="#3062fd"/>
<path d="M334.9 58.5L335.8 58.7L337.7 59.2L339.7 59.6L341.6 60L341.6 58.5L341.6 56.9L341.6 55.3L341.6 53.8L341.6 52.2L341.6 50.6L341.6 49L341.6 47.4L341.6 45.8L341.6 44.2L341.6 42.6L341.6 41L341.6 39.4L341.6 37.8L341.6 36.3L341.6 34.7L341.6 33.1L341.6 31.5L341.6 29.9L341.6 28.3L341.6 26.7L341.6 25.1L341.6 23.5L341.6 21.9L341.6 20.3L341.6 18.7L341.6 17.2L341.6 15.6L341.6 14L341.6 12.4L341.6 10.8L341.6 9.2L339.7 9.2L337.7 9.2L335.8 9.2L333.9 9.2L331.9 9.2L330 9.2L328 9.2L326.1 9.2L324.2 9.2L322.2 9.2L320.3 9.2L318.4 9.2L316.4 9.2L314.5 9.2L312.6 9.2L310.6 9.2L308.7 9.2L306.7 9.2L304.8 9.2L302.9 9.2L300.9 9.2L299 9.2L297.1 9.2L295.1 9.2L293.2 9.2L291.3 9.2L289.3 9.2L287.4 9.2L285.4 9.2L283.5 9.2L281.6 9.2L279.6 9.2L277.7 9.2L275.8 9.2L273.8 9.2L271.9 9.2L270 9.2L268 9.2L266.1 9.2L264.2 9.2L262.2 9.2L260.3 9.2L258.3 9.2L256.4 9.2L254.5 9.2L252.5 9.2L250.6 9.2L248.7 9.2L246.7 9.2L244.8 9.2L242.9 9.2L242.8 9.2L242.9 9.3L244.1 10.8L244.8 11.5L245.6 12.4L246.7 13.6L247.1 14L248.7 15.5L248.8 15.6L250.5 17.2L250.6 17.3L252.3 18.7L252.5 19L254.2 20.3L254.5 20.6L256.1 21.9L256.4 22.2L257.9 23.5L258.3 23.9L259.8 25.1L260.3 25.5L261.8 26.7L262.2 27L263.9 28.3L264.2 28.5L266 29.9L266.1 29.9L268 31.3L268.3 31.5L270 32.6L270.8 33.1L271.9 33.8L273.3 34.7L273.8 35L275.8 36.2L275.9 36.3L277.7 37.3L278.6 37.8L279.6 38.4L281.6 39.4L281.6 39.4L283.5 40.4L284.9 41L285.4 41.3L287.4 42L288.9 42.6L289.3 42.8L291.3 43.5L293.2 44.2L293.3 44.2L295.1 44.9L297.1 45.7L297.2 45.8L299 46.5L300.9 47.3L301.1 47.4L302.9 48.1L304.8 48.9L305 49L306.7 49.7L308.7 50.5L308.9 50.6L310.6 51.2L312.6 52L313 52.2L314.5 52.7L316.4 53.4L317.4 53.8L318.4 54.1L320.3 54.7L322.2 55.3L322.4 55.3L324.2 55.9L326.1 56.4L328 56.9L328.3 56.9L330 57.4L331.9 57.8L333.9 58.3Z" fill="#0986f3"/>
<path d="M340.7 49L341.6 49.2L341.6 49L341.6 47.4L341.6 45.8L341.6 44.2L341.6 42.6L341.6 41L341.6 39.4L341.6 37.8L341.6 36.3L341.6 34.7L341.6 33.1L341.6 31.5L341.6 29.9L341.6 28.3L341.6 26.7L341.6 25.1L341.6 23.5L341.6 21.9L341.6 20.3L341.6 18.7L341.6 17.2L341.6 15.6L341.6 14L341.6 12.4L341.6 10.8L341.6 9.2L339.7 9.2L337.7 9.2L335.8 9.2L333.9 9.2L331.9 9.2L330 9.2L328 9.2L326.1 9.2L324.2 9.2L322.2 9.2L320.3 9.2L318.4 9.2L316.4 9.2L314.5 9.2L312.6 9.2L310.6 9.2L308.7 9.2L306.7 9.2L304.8 9.2L302.9 9.2L300.9 9.2L299 9.2L297.1 9.2L295.1 9.2L293.2 9.2L291.3 9.2L289.3 9.2L287.4 9.2L285.4 9.2L283.5 9.2L281.6 9.2L279.6 9.2L277.7 9.2L275.8 9.2L273.8 9.2L271.9 9.2L270 9.2L268 9.2L266.1 9.2L264.2 9.2L262.2 9.2L260.3 9.2L258.7 9.2L260.3 10.6L260.5 10.8L262.2 12.3L262.3 12.4L264.1 14L264.2 14L266.1 15.6L266.1 15.6L268 17.1L268.1 17.2L270 18.6L270.2 18.7L271.9 20L272.3 20.3L273.8 21.4L274.5 21.9L275.8 22.8L276.8 23.5L277.7 24.2L279.1 25.1L279.6 25.5L281.5 26.7L281.6 26.7L283.5 27.9L284.2 28.3L285.4 29L287.1 29.9L287.4 30L289.3 31L290.4 31.5L291.3 31.8L293.2 32.7L294.2 33.1L295.1 33.4L297.1 34.2L298.2 34.7L299 35L300.9 35.7L302.4 36.3L302.9 36.4L304.8 37.2L306.6 37.8L306.7 37.9L308.7 38.6L310.6 39.3L310.8 39.4L312.6 40.1L314.5 40.9L314.9 41L316.4 41.6L318.4 42.3L319.1 42.6L320.3 43.1L322.2 43.7L323.6 44.2L324.2 44.4L326.1 45L328 45.6L328.6 45.8L330 46.2L331.9 46.8L333.9 47.3L334.3 47.4L335.8 47.8L337.7 48.3L339.7 48.7Z" fill="#00a5df"/>
<path d="M339.5 39.4L339.7 39.5L341.6 40L341.6 39.4L341.6 37.8L341.6 36.3L341.6 34.7L341.6 33.1L341.6 31.5L341.6 29.9L341.6 28.3L341.6 26.7L341.6 25.1L341.6 23.5L341.6 21.9L341.6 20.3L341.6 18.7L341.6 17.2L341.6 15.6L341.6 14L341.6 12.4L341.6 10.8L341.6 9.2L339.7 9.2L337.7 9.2L335.8 9.2L333.9 9.2L331.9 9.2L330 9.2L328 9.2L326.1 9.2L324.2 9.2L322.2 9.2L320.3 9.2L318.4 9.2L316.4 9.2L314.5 9.2L312.6 9.2L310.6 9.2L308.7 9.2L306.7 9.2L304.8 9.2L302.9 9.2L300.9 9.2L299 9.2L297.1 9.2L295.1 9.2L293.2 9.2L291.3 9.2L289.3 9.2L287.4 9.2L285.4 9.2L283.5 9.2L281.6 9.2L279.6 9.2L277.7 9.2L275.8 9.2L273.8 9.2L273.6 9.2L273.8 9.4L275.6 10.8L275.8 11L277.6 12.4L277.7 12.5L279.6 13.9L279.7 14L281.6 15.3L281.9 15.6L283.5 16.7L284.3 17.2L285.4 17.9L286.8 18.7L287.4 19.1L289.3 20.2L289.5 20.3L291.3 21.3L292.5 21.9L293.2 22.3L295.1 23.3L295.6 23.5L297.1 24.2L299 25.1L299 25.1L300.9 26L302.5 26.7L302.9 26.8L304.8 27.7L306.4 28.3L306.7 28.5L308.7 29.2L310.4 29.9L310.6 30L312.6 30.7L314.5 31.4L314.6 31.5L316.4 32.1L318.4 32.8L319 33.1L320.3 33.5L322.2 34.2L323.5 34.7L324.2 34.9L326.1 35.5L328 36.2L328.3 36.3L330 36.8L331.9 37.3L333.6 37.8L333.9 37.9L335.8 38.5L337.7 39Z" fill="#00beb8"/>
<path d="M339 31.5L339.7 31.7L341.6 32.2L341.6 31.5L341.6 29.9L341.6 28.3L341.6 26.7L341.6 25.1L341.6 23.5L341.6 21.9L341.6 20.3L341.6 18.7L341.6 17.2L341.6 15.6L341.6 14L341.6 12.4L341.6 10.8L341.6 9.2L339.7 9.2L337.7 9.2L335.8 9.2L333.9 9.2L331.9 9.2L330 9.2L328 9.2L326.1 9.2L324.2 9.2L322.2 9.2L320.3 9.2L318.4 9.2L316.4 9.2L314.5 9.2L312.6 9.2L310.6 9.2L308.7 9.2L306.7 9.2L304.8 9.2L302.9 9.2L300.9 9.2L299 9.2L297.1 9.2L295.1 9.2L293.2 9.2L291.3 9.2L289.3 9.2L288.1 9.2L289.3 10L290.5 10.8L291.3 11.3L293.1 12.4L293.2 12.4L295.1 13.5L296 14L297.1 14.6L299 15.6L299 15.6L300.9 16.6L302.1 17.2L302.9 17.6L304.8 18.5L305.2 18.7L306.7 19.5L308.5 20.3L308.7 20.4L310.6 21.3L312 21.9L312.6 22.2L314.5 23L315.9 23.5L316.4 23.7L318.4 24.5L320.1 25.1L320.3 25.2L322.2 25.9L324.2 26.6L324.3 26.7L326.1 27.4L328 28L328.8 28.3L330 28.7L331.9 29.3L333.7 29.9L333.9 29.9L335.8 30.5L337.7 31.1Z" fill="#1ecd7f"/>
<path d="M341.2 25.1L341.6 25.2L341.6 25.1L341.6 23.5L341.6 21.9L341.6 20.3L341.6 18.7L341.6 17.2L341.6 15.6L341.6 14L341.6 12.4L341.6 10.8L341.6 9.2L339.7 9.2L337.7 9.2L335.8 9.2L333.9 9.2L331.9 9.2L330 9.2L328 9.2L326.1 9.2L324.2 9.2L322.2 9.2L320.3 9.2L318.4 9.2L316.4 9.2L314.5 9.2L312.6 9.2L310.6 9.2L308.7 9.2L306.7 9.2L304.8 9.2L304.6 9.2L304.8 9.3L306.7 10.4L307.6 10.8L308.7 11.4L310.6 12.4L310.6 12.4L312.6 13.4L313.7 14L314.5 14.4L316.4 15.3L317 15.6L318.4 16.2L320.3 17.1L320.5 17.2L322.2 17.9L324.1 18.7L324.2 18.8L326.1 19.6L327.9 20.3L328 20.4L330 21.2L331.9 21.9L332 21.9L333.9 22.6L335.8 23.3L336.3 23.5L337.7 24L339.7 24.6Z" fill="#9ecd17"/>
<path d="M337.5 17.2L337.7 17.2L339.7 18L341.6 18.7L341.6 17.2L341.6 15.6L341.6 14L341.6 12.4L341.6 10.8L341.6 9.2L339.7 9.2L337.7 9.2L335.8 9.2L333.9 9.2L331.9 9.2L330 9.2L328 9.2L326.1 9.2L324.2 9.2L322.2 9.2L320.3 9.2L322.2 10.2L323.4 10.8L324.2 11.2L326.1 12.1L326.6 12.4L328 13.1L330 14L330 14L331.9 14.8L333.6 15.6L333.9 15.7L335.8 16.5Z" fill="#f1ba00"/>
<path d="M337.9 10.8L339.7 11.6L341.6 12.3L341.6 10.8L341.6 9.2L339.7 9.2L337.7 9.2L335.8 9.2L334.5 9.2L335.8 9.8L337.7 10.7Z" fill="#ffd600"/>
<path d="M208 11.9L208.1 12.4L208.7 14L209.2 15.6L209.8 17.2L209.9 17.5L210.4 18.7L211 20.3L211.7 21.9L211.9 22.3L212.4 23.5L213.2 25.1L213.8 26.4L214 26.7L214.9 28.3L215.7 29.7L215.9 29.9L216.9 31.5L217.7 32.6L218 33.1L219.2 34.7L219.6 35.3L220.4 36.3L221.6 37.7L221.7 37.8L223 39.4L223.5 40L224.4 41L225.4 42.2L225.8 42.6L226.8 43.7M230.4 47.5L231.2 48.3L231.9 49L233.2 50.2L233.6 50.6L235.1 51.9L235.5 52.2L237 53.5L237.4 53.8L239 55L239.4 55.3L240.9 56.5L241.5 56.9L242.9 57.9L243.8 58.5L244.8 59.2L246.2 60.1L246.7 60.5L248.7 61.7L248.7 61.7L250.6 62.9L251.4 63.3L252.5 64L254.2 64.9L254.5 65L256.4 66.1L257.2 66.5L258.3 67L260.3 68L260.5 68.1L262.2 68.9L264 69.7L264.2 69.7L266.1 70.6L267.8 71.3L268 71.4L270 72.1L271.8 72.9L271.9 72.9L273.8 73.6L275 74.1M279.9 75.9L280.4 76L281.6 76.5L283.5 77.1L285.1 77.6L285.4 77.7L287.4 78.3L289.3 78.9L290.5 79.2L291.3 79.4L293.2 80L295.1 80.5L296.1 80.8L297.1 81.1L299 81.6L300.9 82.1L302.4 82.4L302.9 82.5L304.8 83L306.7 83.4L308.7 83.7L310 84L310.6 84.1L312.6 84.5L314.5 84.8L316.4 85.1L318.4 85.4L319.2 85.6L320.3 85.8L322.2 86.1L324.2 86.4L326.1 86.6L328 86.9L329.1 87.1M334.3 87.8L335.8 88L337.7 88.2L339.7 88.4L341.6 88.7M225.7 9.2L226.7 10.8L227.4 11.9L227.7 12.4L228.7 14L229.3 14.8L229.8 15.6L231 17.2L231.2 17.4L232.2 18.7L233.2 19.9L233.5 20.3L234.9 21.9L235.1 22.2L236.3 23.5L237 24.3L237.8 25.1L239 26.4L239.3 26.7L240.8 28.3L240.9 28.4L242.4 29.9L242.9 30.3L244.1 31.5L244.8 32.1L245.8 33.1L246.7 33.9L247.6 34.7L248.7 35.6L249.4 36.3L250.6 37.3L251.3 37.8L252.5 38.8L253.4 39.4L254.5 40.2L255.7 41L256.4 41.5L258 42.6L258.3 42.8L260.3 44.1L260.5 44.2L262.2 45.3L263.1 45.8L264.2 46.5L265.7 47.4L266.1 47.6L268 48.7L268.5 49L270 49.7L271.6 50.6L271.9 50.7L273.8 51.7L274.9 52.2L275.8 52.5L277.3 53.2M279.3 54.1L279.6 54.3L281.6 55.1L282.2 55.3L283.5 55.9L285.4 56.7L286.1 56.9L287.4 57.5L289.3 58.2L290.2 58.5L291.3 58.9L293.2 59.6L294.5 60.1L295.1 60.3L297.1 61L298.9 61.7L299 61.7L300.9 62.5L302.9 63.2L303.3 63.3L304.8 63.8L306.7 64.5L308.2 64.9L308.7 65L310.6 65.6L312.6 66.2L313.8 66.5L314.5 66.7L316.4 67.2L318.4 67.7L320.2 68.1L320.3 68.1L322.2 68.6L324.2 69L326.1 69.4L327.4 69.7L328 69.8L330 70.2L331.4 70.5M333.6 70.9L333.9 70.9L335.7 71.3L335.8 71.3L337.7 71.6L339.7 71.9L341.6 72.3M242.8 9.2L242.9 9.3L244.1 10.8L244.8 11.5L245.6 12.4L246.7 13.6L247.1 14L248.7 15.5L248.8 15.6L250.5 17.2L250.6 17.3L252.3 18.7L252.5 19L254.2 20.3L254.5 20.6L256.1 21.9L256.4 22.2L257.9 23.5L258.3 23.9L259.8 25.1L260.3 25.5L261.8 26.7L262.2 27L263.9 28.3L264.2 28.5L266 29.9L266.1 29.9L268 31.3L268.3 31.5L270 32.6L270.8 33.1L271.9 33.8L273.3 34.7L273.8 35L275.8 36.2L275.9 36.3L276.8 36.8M281.3 39.3L281.6 39.4L281.6 39.4L283.5 40.4L284.9 41L285.4 41.3L287.4 42L288.9 42.6L289.3 42.8L291.3 43.5L293.2 44.2L293.3 44.2L295.1 44.9L297.1 45.7L297.2 45.8L299 46.5L300.9 47.3L301.1 47.4L302.9 48.1L304.8 48.9L305 49L306.7 49.7L308.7 50.5L308.9 50.6L310.6 51.2L312.6 52L313 52.2L314.5 52.7L316.4 53.4L317.4 53.8L318.4 54.1L320.3 54.7L322.2 55.3L322.4 55.3L324.2 55.9L326.1 56.4L328 56.9L328.3 56.9L330 57.4L330.8 57.6M335.8 58.7L337.7 59.2L339.7 59.6L341.6 60M258.7 9.2L260.3 10.6L260.5 10.8L262.2 12.3L262.3 12.4L264.1 14L264.2 14L266.1 15.6L266.1 15.6L268 17.1L268.1 17.2L270 18.6L270.2 18.7L271.9 20L272.3 20.3L273.8 21.4L274.5 21.9L275.8 22.8L276.8 23.5L277.7 24.2L279 25M280.8 26.2L281.5 26.7L281.6 26.7L283.5 27.9L284.2 28.3L285.4 29L287.1 29.9L287.4 30L289.3 31L290.4 31.5L291.3 31.8L293.2 32.7L294.2 33.1L295.1 33.4L297.1 34.2L298.2 34.7L299 35L300.9 35.7L302.4 36.3L302.9 36.4L304.8 37.2L306.6 37.8L306.7 37.9L308.7 38.6L310.6 39.3L310.8 39.4L312.6 40.1L314.5 40.9L314.9 41L316.4 41.6L318.4 42.3L319.1 42.6L320.3 43.1L322.2 43.7L323.6 44.2L324.2 44.4L326.1 45L328 45.6L328.6 45.8L330 46.2L331.9 46.8L333.1 47.1M335.2 47.6L335.8 47.8L337.7 48.3L339.7 48.7L340.7 49L341.6 49.2M273.6 9.2L273.8 9.4L275.6 10.8L275.8 11L277.6 12.4L277.7 12.5L278.6 13.1M282.8 16.1L283.5 16.7L284.3 17.2L285.4 17.9L286.8 18.7L287.4 19.1L289.3 20.2L289.5 20.3L291.3 21.3L292.5 21.9L293.2 22.3L295.1 23.3L295.6 23.5L297.1 24.2L299 25.1L299 25.1L300.9 26L302.5 26.7L302.9 26.8L304.8 27.7L306.4 28.3L306.7 28.5L308.7 29.2L310.4 29.9L310.6 30L312.6 30.7L314.5 31.4L314.6 31.5L316.4 32.1L318.4 32.8L319 33.1L320.3 33.5L322.2 34.2L323.5 34.7L324.2 34.9L326.1 35.5L328 36.2L328.3 36.3L330 36.8L331.9 37.3L332.4 37.5M337.4 38.9L337.7 39L339.5 39.4L339.7 39.5L341.6 40M288.1 9.2L289.3 10L290.5 10.8L291.3 11.3L293.1 12.4L293.2 12.4L295.1 13.5L296 14L297.1 14.6L299 15.6L299 15.6L300.9 16.6L302.1 17.2L302.9 17.6L304.8 18.5L305.2 18.7L306.7 19.5L308.5 20.3L308.7 20.4L310.6 21.3L312 21.9L312.6 22.2L314.5 23L315.9 23.5L316.4 23.7L318.4 24.5L320.1 25.1L320.3 25.2L322.2 25.9L324.2 26.6L324.3 26.7L326.1 27.4L328 28L328.8 28.3L329.9 28.7M332 29.4L333.7 29.9L333.9 29.9L335.8 30.5L337.7 31.1L339 31.5L339.7 31.7L341.6 32.2M304.6 9.2L304.8 9.3L306.7 10.4L307.6 10.8L308.7 11.4L310.6 12.4L310.6 12.4L312.6 13.4L313.7 14L314.5 14.4L316.4 15.3L317 15.6L318.4 16.2L320.3 17.1L320.5 17.2L322.2 17.9L324.1 18.7L324.2 18.8L326.1 19.6L327.9 20.3L328 20.4L329.3 20.9M334.1 22.7L335.8 23.3L336.3 23.5L337.7 24L339.7 24.6L341.2 25.1L341.6 25.2M320.3 9.2L322.2 10.2L323.4 10.8L324.2 11.2L326.1 12.1L326.6 12.4L328 13.1L330 14L330 14L331.5 14.7M333.5 15.5L333.6 15.6L333.9 15.7L335.8 16.5L337.5 17.2L337.7 17.2L339.7 18L341.6 18.7M334.5 9.2L335.8 9.8L336.2 10M340.9 12.1L341.6 12.3" fill="none" stroke="#000" stroke-width="1" stroke-linejoin="round"/>
<g font-family="'Liberation Sans', Arial, sans-serif" font-size="3.4" font-weight="bold" fill="#0a0a28" stroke="#0a0a28" stroke-width="0.25" text-anchor="middle">
<text transform="translate(228.6 45.7) rotate(46.2)" y="1.1">0.5</text>
<text transform="translate(277.5 75) rotate(20.2)" y="1.1">0.5</text>
<text transform="translate(331.7 87.4) rotate(7.8)" y="1.1">0.5</text>
<text transform="translate(278.3 53.7) rotate(23.6)" y="1.1">1</text>
<text transform="translate(332.5 70.7) rotate(10.6)" y="1.1">1</text>
<text transform="translate(279.1 38.1) rotate(28.9)" y="1.1">1.5</text>
<text transform="translate(333.3 58.2) rotate(13.1)" y="1.1">1.5</text>
<text transform="translate(279.9 25.6) rotate(33.3)" y="1.1">2</text>
<text transform="translate(334.1 47.3) rotate(14.7)" y="1.1">2</text>
<text transform="translate(280.7 14.7) rotate(35.8)" y="1.1">2.5</text>
<text transform="translate(334.9 38.2) rotate(15.7)" y="1.1">2.5</text>
<text transform="translate(330.9 29) rotate(18.1)" y="1.1">3</text>
<text transform="translate(331.7 21.8) rotate(20.9)" y="1.1">3.5</text>
<text transform="translate(332.5 15.1) rotate(23.5)" y="1.1">4</text>
<text transform="translate(338.6 11.1) rotate(23.7)" y="1.1">4.5</text>
</g>
<rect x="208" y="9.2" width="133.6" height="109.8" fill="none" stroke="#1c1c1c" stroke-width="0.9"/>
<path d="M208 119v-1.4M208 9.2v1.4M208 119h1.4M341.6 119h-1.4M234.7 119v-1.4M234.7 9.2v1.4M208 97h1.4M341.6 97h-1.4M261.4 119v-1.4M261.4 9.2v1.4M208 75.1h1.4M341.6 75.1h-1.4M288.2 119v-1.4M288.2 9.2v1.4M208 53.1h1.4M341.6 53.1h-1.4M314.9 119v-1.4M314.9 9.2v1.4M208 31.2h1.4M341.6 31.2h-1.4M341.6 119v-1.4M341.6 9.2v1.4M208 9.2h1.4M341.6 9.2h-1.4" stroke="#262626" stroke-width="0.6" fill="none"/>
<g font-family="'Liberation Sans', Arial, sans-serif" font-weight="bold" font-size="9.7" fill="#1f1f1f" stroke="#1f1f1f" stroke-width="0.15">
<text x="208" y="131.6" text-anchor="middle">1</text>
<text x="204.6" y="122.7" text-anchor="end">1</text>
<text x="234.7" y="131.6" text-anchor="middle">2</text>
<text x="204.6" y="100.7" text-anchor="end">2</text>
<text x="261.4" y="131.6" text-anchor="middle">3</text>
<text x="204.6" y="78.8" text-anchor="end">3</text>
<text x="288.2" y="131.6" text-anchor="middle">4</text>
<text x="204.6" y="56.8" text-anchor="end">4</text>
<text x="314.9" y="131.6" text-anchor="middle">5</text>
<text x="204.6" y="34.9" text-anchor="end">5</text>
<text x="341.6" y="131.6" text-anchor="middle">6</text>
<text x="204.6" y="12.9" text-anchor="end">6</text>
<text x="274.8" y="144.1" text-anchor="middle">Ka</text>
<text transform="translate(195.1 64.1) rotate(-90)" text-anchor="middle">Kr</text>
<rect x="348" y="9.2" width="5.8" height="109.8" fill="url(#pg)" stroke="#1c1c1c" stroke-width="0.85" />
<text x="357.2" y="122.7">0</text>
<text x="357.2" y="100.7">1</text>
<text x="357.2" y="78.8">2</text>
<text x="357.2" y="56.8">3</text>
<text x="357.2" y="34.9">4</text>
<text x="357.2" y="12.9">5</text>
</g>
<path d="M353.8 97h-1.2M353.8 75.1h-1.2M353.8 53.1h-1.2M353.8 31.2h-1.2" stroke="#262626" stroke-width="0.6" fill="none"/>
<text x="275.5" y="159.6" text-anchor="middle" font-family="'Liberation Serif', 'Times New Roman', serif" font-size="11.8" letter-spacing="0.25" fill="#000">(<tspan font-weight="bold" stroke="#000" stroke-width="0.2">II.a</tspan>)</text>
</g>
<g>
<rect x="389.3" y="9.1" width="134.4" height="110.2" fill="#3d21a8"/>
<path d="M515.5 87.4L515.9 87.4L517.9 87.6L519.8 87.8L521.8 88L523.7 88.2L523.7 87.4L523.7 85.8L523.7 84.2L523.7 82.6L523.7 81L523.7 79.4L523.7 77.8L523.7 76.2L523.7 74.6L523.7 73L523.7 71.4L523.7 69.8L523.7 68.2L523.7 66.6L523.7 65L523.7 63.4L523.7 61.8L523.7 60.2L523.7 58.6L523.7 57L523.7 55.4L523.7 53.8L523.7 52.2L523.7 50.6L523.7 49L523.7 47.4L523.7 45.8L523.7 44.2L523.7 42.6L523.7 41L523.7 39.4L523.7 37.8L523.7 36.3L523.7 34.7L523.7 33.1L523.7 31.5L523.7 29.9L523.7 28.3L523.7 26.7L523.7 25.1L523.7 23.5L523.7 21.9L523.7 20.3L523.7 18.7L523.7 17.1L523.7 15.5L523.7 13.9L523.7 12.3L523.7 10.7L523.7 9.1L521.8 9.1L519.8 9.1L517.9 9.1L515.9 9.1L514 9.1L512 9.1L510.1 9.1L508.1 9.1L506.2 9.1L504.2 9.1L502.3 9.1L500.3 9.1L498.4 9.1L496.4 9.1L494.5 9.1L492.5 9.1L490.6 9.1L488.6 9.1L486.7 9.1L484.7 9.1L482.8 9.1L480.8 9.1L478.9 9.1L477 9.1L475 9.1L473.1 9.1L471.1 9.1L469.2 9.1L467.2 9.1L465.3 9.1L463.3 9.1L461.4 9.1L459.4 9.1L457.5 9.1L455.5 9.1L453.6 9.1L451.6 9.1L449.7 9.1L447.7 9.1L445.8 9.1L443.8 9.1L441.9 9.1L439.9 9.1L438 9.1L436 9.1L434.1 9.1L432.2 9.1L430.2 9.1L428.3 9.1L426.3 9.1L424.4 9.1L422.4 9.1L420.5 9.1L418.5 9.1L416.6 9.1L414.6 9.1L412.7 9.1L410.7 9.1L408.8 9.1L406.8 9.1L404.9 9.1L402.9 9.1L401 9.1L399 9.1L397.1 9.1L395.1 9.1L393.2 9.1L391.2 9.1L389.3 9.1L389.3 10.1L389.5 10.7L390.1 12.3L390.7 13.9L391.2 15.4L391.3 15.5L391.9 17.1L392.6 18.7L393.2 20L393.3 20.3L394.1 21.9L394.9 23.5L395.1 24L395.7 25.1L396.6 26.7L397.1 27.5L397.6 28.3L398.6 29.9L399 30.6L399.6 31.5L400.7 33.1L401 33.5L401.8 34.7L402.9 36.3L402.9 36.3L404.1 37.8L404.9 38.9L405.3 39.4L406.6 41L406.8 41.3L408 42.6L408.8 43.6L409.4 44.2L410.7 45.7L410.9 45.8L412.4 47.4L412.7 47.7L414.1 49L414.6 49.5L415.9 50.6L416.6 51.2L417.7 52.2L418.5 52.9L419.7 53.8L420.5 54.4L421.7 55.4L422.4 55.9L423.9 57L424.4 57.3L426.2 58.6L426.3 58.7L428.3 60L428.6 60.2L430.2 61.2L431.2 61.8L432.2 62.4L433.8 63.4L434.1 63.6L436 64.7L436.6 65L438 65.8L439.4 66.6L439.9 66.9L441.9 67.9L442.4 68.2L443.8 68.9L445.6 69.8L445.8 69.9L447.7 70.8L448.9 71.4L449.7 71.7L451.6 72.6L452.6 73L453.6 73.4L455.5 74.2L456.5 74.6L457.5 75L459.4 75.7L460.8 76.2L461.4 76.4L463.3 77.1L465.3 77.7L465.6 77.8L467.2 78.3L469.2 78.8L471.1 79.3L471.2 79.4L473.1 79.9L475 80.4L477 80.9L477.2 81L478.9 81.4L480.8 81.9L482.8 82.3L483.8 82.6L484.7 82.8L486.7 83.2L488.6 83.6L490.6 83.9L491.9 84.2L492.5 84.3L494.5 84.6L496.4 84.9L498.4 85.2L500.3 85.5L502 85.8L502.3 85.8L504.2 86.1L506.2 86.3L508.1 86.5L510.1 86.8L512 87L514 87.2Z" fill="#443be7"/>
<path d="M519.8 71.4L521.8 71.7L523.7 72L523.7 71.4L523.7 69.8L523.7 68.2L523.7 66.6L523.7 65L523.7 63.4L523.7 61.8L523.7 60.2L523.7 58.6L523.7 57L523.7 55.4L523.7 53.8L523.7 52.2L523.7 50.6L523.7 49L523.7 47.4L523.7 45.8L523.7 44.2L523.7 42.6L523.7 41L523.7 39.4L523.7 37.8L523.7 36.3L523.7 34.7L523.7 33.1L523.7 31.5L523.7 29.9L523.7 28.3L523.7 26.7L523.7 25.1L523.7 23.5L523.7 21.9L523.7 20.3L523.7 18.7L523.7 17.1L523.7 15.5L523.7 13.9L523.7 12.3L523.7 10.7L523.7 9.1L521.8 9.1L519.8 9.1L517.9 9.1L515.9 9.1L514 9.1L512 9.1L510.1 9.1L508.1 9.1L506.2 9.1L504.2 9.1L502.3 9.1L500.3 9.1L498.4 9.1L496.4 9.1L494.5 9.1L492.5 9.1L490.6 9.1L488.6 9.1L486.7 9.1L484.7 9.1L482.8 9.1L480.8 9.1L478.9 9.1L477 9.1L475 9.1L473.1 9.1L471.1 9.1L469.2 9.1L467.2 9.1L465.3 9.1L463.3 9.1L461.4 9.1L459.4 9.1L457.5 9.1L455.5 9.1L453.6 9.1L451.6 9.1L449.7 9.1L447.7 9.1L445.8 9.1L443.8 9.1L441.9 9.1L439.9 9.1L438 9.1L436 9.1L434.1 9.1L432.2 9.1L430.2 9.1L428.3 9.1L426.3 9.1L424.4 9.1L422.4 9.1L420.5 9.1L418.5 9.1L416.6 9.1L414.6 9.1L412.7 9.1L410.7 9.1L408.8 9.1L408.6 9.1L408.8 9.4L409.7 10.7L410.7 12.2L410.8 12.3L411.9 13.9L412.7 14.9L413.1 15.5L414.4 17.1L414.6 17.4L415.7 18.7L416.6 19.8L417 20.3L418.4 21.9L418.5 22L419.9 23.5L420.5 24.1L421.3 25.1L422.4 26.2L422.9 26.7L424.4 28.2L424.4 28.3L426.1 29.9L426.3 30.1L427.7 31.5L428.3 31.9L429.5 33.1L430.2 33.7L431.3 34.7L432.2 35.3L433.2 36.3L434.1 37L435.1 37.8L436 38.6L437.1 39.4L438 40.2L439.1 41L439.9 41.7L441.2 42.6L441.9 43.2L443.4 44.2L443.8 44.6L445.7 45.8L445.8 45.9L447.7 47.1L448.3 47.4L449.7 48.3L450.9 49L451.6 49.4L453.6 50.5L453.7 50.6L455.5 51.6L456.7 52.2L457.5 52.6L459.4 53.6L459.8 53.8L461.4 54.6L463.2 55.4L463.3 55.5L465.3 56.3L466.9 57L467.2 57.1L469.2 58L470.8 58.6L471.1 58.8L473.1 59.5L474.7 60.2L475 60.3L477 61.1L478.9 61.8L478.9 61.8L480.8 62.5L482.8 63.1L483.7 63.4L484.7 63.7L486.7 64.3L488.6 64.9L489.2 65L490.6 65.4L492.5 65.9L494.5 66.4L495.2 66.6L496.4 66.9L498.4 67.3L500.3 67.8L502.3 68.2L502.3 68.2L504.2 68.6L506.2 69L508.1 69.4L510.1 69.7L510.5 69.8L512 70.1L514 70.4L515.9 70.7L517.9 71.1L519.8 71.4Z" fill="#3062fd"/>
<path d="M521.4 58.6L521.8 58.7L523.7 59.1L523.7 58.6L523.7 57L523.7 55.4L523.7 53.8L523.7 52.2L523.7 50.6L523.7 49L523.7 47.4L523.7 45.8L523.7 44.2L523.7 42.6L523.7 41L523.7 39.4L523.7 37.8L523.7 36.3L523.7 34.7L523.7 33.1L523.7 31.5L523.7 29.9L523.7 28.3L523.7 26.7L523.7 25.1L523.7 23.5L523.7 21.9L523.7 20.3L523.7 18.7L523.7 17.1L523.7 15.5L523.7 13.9L523.7 12.3L523.7 10.7L523.7 9.1L521.8 9.1L519.8 9.1L517.9 9.1L515.9 9.1L514 9.1L512 9.1L510.1 9.1L508.1 9.1L506.2 9.1L504.2 9.1L502.3 9.1L500.3 9.1L498.4 9.1L496.4 9.1L494.5 9.1L492.5 9.1L490.6 9.1L488.6 9.1L486.7 9.1L484.7 9.1L482.8 9.1L480.8 9.1L478.9 9.1L477 9.1L475 9.1L473.1 9.1L471.1 9.1L469.2 9.1L467.2 9.1L465.3 9.1L463.3 9.1L461.4 9.1L459.4 9.1L457.5 9.1L455.5 9.1L453.6 9.1L451.6 9.1L449.7 9.1L447.7 9.1L445.8 9.1L443.8 9.1L441.9 9.1L439.9 9.1L438 9.1L436 9.1L434.1 9.1L432.2 9.1L430.2 9.1L428.3 9.1L427.4 9.1L428.3 10L429 10.7L430.2 11.9L430.6 12.3L432.2 13.8L432.2 13.9L433.9 15.5L434.1 15.7L435.6 17.1L436 17.5L437.3 18.7L438 19.4L439 20.3L439.9 21.1L440.8 21.9L441.9 22.8L442.6 23.5L443.8 24.5L444.5 25.1L445.8 26.1L446.5 26.7L447.7 27.7L448.5 28.3L449.7 29.2L450.5 29.9L451.6 30.8L452.6 31.5L453.6 32.2L454.8 33.1L455.5 33.6L457.1 34.7L457.5 34.9L459.4 36.1L459.6 36.3L461.4 37.3L462.4 37.8L463.3 38.3L465.3 39.3L465.5 39.4L467.2 40.3L469 41L469.2 41.1L471.1 41.9L473.1 42.6L473.1 42.6L475 43.3L477 44.1L477.4 44.2L478.9 44.8L480.8 45.6L481.5 45.8L482.8 46.3L484.7 47.1L485.5 47.4L486.7 47.9L488.6 48.8L489.3 49L490.6 49.6L492.5 50.4L493.1 50.6L494.5 51.2L496.4 51.9L497.2 52.2L498.4 52.6L500.3 53.3L501.8 53.8L502.3 54L504.2 54.5L506.2 55.1L507.4 55.4L508.1 55.6L510.1 56.1L512 56.5L514 57L514.1 57L515.9 57.4L517.9 57.9L519.8 58.3Z" fill="#0986f3"/>
<path d="M520.5 47.4L521.8 47.8L523.7 48.3L523.7 47.4L523.7 45.8L523.7 44.2L523.7 42.6L523.7 41L523.7 39.4L523.7 37.8L523.7 36.3L523.7 34.7L523.7 33.1L523.7 31.5L523.7 29.9L523.7 28.3L523.7 26.7L523.7 25.1L523.7 23.5L523.7 21.9L523.7 20.3L523.7 18.7L523.7 17.1L523.7 15.5L523.7 13.9L523.7 12.3L523.7 10.7L523.7 9.1L521.8 9.1L519.8 9.1L517.9 9.1L515.9 9.1L514 9.1L512 9.1L510.1 9.1L508.1 9.1L506.2 9.1L504.2 9.1L502.3 9.1L500.3 9.1L498.4 9.1L496.4 9.1L494.5 9.1L492.5 9.1L490.6 9.1L488.6 9.1L486.7 9.1L484.7 9.1L482.8 9.1L480.8 9.1L478.9 9.1L477 9.1L475 9.1L473.1 9.1L471.1 9.1L469.2 9.1L467.2 9.1L465.3 9.1L463.3 9.1L461.4 9.1L459.4 9.1L457.5 9.1L455.5 9.1L453.6 9.1L451.6 9.1L449.7 9.1L447.7 9.1L445.8 9.1L444.2 9.1L445.8 10.5L446 10.7L447.7 12.2L447.8 12.3L449.7 13.9L449.7 13.9L451.6 15.5L451.6 15.5L453.5 17.1L453.6 17.1L455.5 18.7L455.6 18.7L457.5 20.1L457.7 20.3L459.4 21.5L459.9 21.9L461.4 22.9L462.3 23.5L463.3 24.2L464.8 25.1L465.3 25.3L467.2 26.4L467.6 26.7L469.2 27.5L470.8 28.3L471.1 28.4L473.1 29.3L474.5 29.9L475 30L477 30.8L478.4 31.5L478.9 31.6L480.8 32.4L482.3 33.1L482.8 33.2L484.7 34L486.2 34.7L486.7 34.9L488.6 35.7L490 36.3L490.6 36.5L492.5 37.3L493.8 37.8L494.5 38.1L496.4 39L497.6 39.4L498.4 39.7L500.3 40.5L501.6 41L502.3 41.3L504.2 42.1L505.7 42.6L506.2 42.8L508.1 43.6L510 44.2L510.1 44.2L512 44.9L514 45.5L515 45.8L515.9 46.1L517.9 46.7L519.8 47.2Z" fill="#00a5df"/>
<path d="M520 37.8L521.8 38.4L523.7 39L523.7 37.8L523.7 36.3L523.7 34.7L523.7 33.1L523.7 31.5L523.7 29.9L523.7 28.3L523.7 26.7L523.7 25.1L523.7 23.5L523.7 21.9L523.7 20.3L523.7 18.7L523.7 17.1L523.7 15.5L523.7 13.9L523.7 12.3L523.7 10.7L523.7 9.1L521.8 9.1L519.8 9.1L517.9 9.1L515.9 9.1L514 9.1L512 9.1L510.1 9.1L508.1 9.1L506.2 9.1L504.2 9.1L502.3 9.1L500.3 9.1L498.4 9.1L496.4 9.1L494.5 9.1L492.5 9.1L490.6 9.1L488.6 9.1L486.7 9.1L484.7 9.1L482.8 9.1L480.8 9.1L478.9 9.1L477 9.1L475 9.1L473.1 9.1L471.1 9.1L469.2 9.1L467.2 9.1L465.3 9.1L463.3 9.1L461.4 9.1L460.1 9.1L461.4 10.1L462.2 10.7L463.3 11.5L464.5 12.3L465.3 12.8L466.9 13.9L467.2 14.1L469.2 15.3L469.5 15.5L471.1 16.5L472.3 17.1L473.1 17.5L475 18.5L475.4 18.7L477 19.4L478.7 20.3L478.9 20.4L480.8 21.3L482.2 21.9L482.8 22.2L484.7 23.1L485.6 23.5L486.7 23.9L488.6 24.8L489.1 25.1L490.6 25.7L492.5 26.6L492.6 26.7L494.5 27.5L496.1 28.3L496.4 28.4L498.4 29.3L499.7 29.9L500.3 30.2L502.3 31L503.3 31.5L504.2 31.8L506.2 32.6L507.2 33.1L508.1 33.4L510.1 34.2L511.2 34.7L512 35L514 35.7L515.4 36.3L515.9 36.4L517.9 37.1L519.8 37.8Z" fill="#00beb8"/>
<path d="M521.6 29.9L521.8 29.9L523.7 30.6L523.7 29.9L523.7 28.3L523.7 26.7L523.7 25.1L523.7 23.5L523.7 21.9L523.7 20.3L523.7 18.7L523.7 17.1L523.7 15.5L523.7 13.9L523.7 12.3L523.7 10.7L523.7 9.1L521.8 9.1L519.8 9.1L517.9 9.1L515.9 9.1L514 9.1L512 9.1L510.1 9.1L508.1 9.1L506.2 9.1L504.2 9.1L502.3 9.1L500.3 9.1L498.4 9.1L496.4 9.1L494.5 9.1L492.5 9.1L490.6 9.1L488.6 9.1L486.7 9.1L484.7 9.1L482.8 9.1L480.8 9.1L478.9 9.1L478 9.1L478.9 9.6L480.8 10.7L480.8 10.7L482.8 11.8L483.6 12.3L484.7 12.9L486.6 13.9L486.7 14L488.6 15L489.6 15.5L490.6 16L492.5 17L492.7 17.1L494.5 18L495.9 18.7L496.4 18.9L498.4 19.9L499.3 20.3L500.3 20.8L502.3 21.7L502.7 21.9L504.2 22.6L506.2 23.5L506.2 23.5L508.1 24.3L509.9 25.1L510.1 25.2L512 26L513.7 26.7L514 26.8L515.9 27.6L517.6 28.3L517.9 28.4L519.8 29.2Z" fill="#1ecd7f"/>
<path d="M522 21.9L523.7 22.6L523.7 21.9L523.7 20.3L523.7 18.7L523.7 17.1L523.7 15.5L523.7 13.9L523.7 12.3L523.7 10.7L523.7 9.1L521.8 9.1L519.8 9.1L517.9 9.1L515.9 9.1L514 9.1L512 9.1L510.1 9.1L508.1 9.1L506.2 9.1L504.2 9.1L502.3 9.1L500.3 9.1L498.4 9.1L496.4 9.1L494.8 9.1L496.4 10L497.8 10.7L498.4 11L500.3 12L500.9 12.3L502.3 13L504.1 13.9L504.2 13.9L506.2 14.9L507.5 15.5L508.1 15.8L510.1 16.7L511 17.1L512 17.6L514 18.4L514.6 18.7L515.9 19.3L517.9 20.1L518.2 20.3L519.8 21L521.8 21.8Z" fill="#9ecd17"/>
<path d="M521.4 13.9L521.8 14.1L523.7 14.9L523.7 13.9L523.7 12.3L523.7 10.7L523.7 9.1L521.8 9.1L519.8 9.1L517.9 9.1L515.9 9.1L514 9.1L512 9.1L510.8 9.1L512 9.7L514 10.5L514.3 10.7L515.9 11.4L517.9 12.3L517.9 12.3L519.8 13.2Z" fill="#f1ba00"/>
<path d="M389.3 10.1L389.5 10.7L390.1 12.3L390.7 13.9L391.2 15.4L391.3 15.5L391.9 17.1L392.6 18.7L393.2 20L393.3 20.3L394.1 21.9L394.9 23.5L395.1 24L395.7 25.1L396.6 26.7L397.1 27.5L397.6 28.3L398.6 29.9L399 30.6L399.6 31.5L400.7 33.1L401 33.5L401.8 34.7L402.9 36.3L402.9 36.3L404.1 37.8L404.9 38.9L405.3 39.4L406.6 41L406.8 41.3L408 42.6L408.2 42.9M411.8 46.8L412.4 47.4L412.7 47.7L414.1 49L414.6 49.5L415.9 50.6L416.6 51.2L417.7 52.2L418.5 52.9L419.7 53.8L420.5 54.4L421.7 55.4L422.4 55.9L423.9 57L424.4 57.3L426.2 58.6L426.3 58.7L428.3 60L428.6 60.2L430.2 61.2L431.2 61.8L432.2 62.4L433.8 63.4L434.1 63.6L436 64.7L436.6 65L438 65.8L439.4 66.6L439.9 66.9L441.9 67.9L442.4 68.2L443.8 68.9L445.6 69.8L445.8 69.9L447.7 70.8L448.9 71.4L449.7 71.7L451.6 72.6L452.6 73L453.6 73.4L455.5 74.2L456.5 74.6L456.8 74.7M461.6 76.5L463.3 77.1L465.3 77.7L465.6 77.8L467.2 78.3L469.2 78.8L471.1 79.3L471.2 79.4L473.1 79.9L475 80.4L477 80.9L477.2 81L478.9 81.4L480.8 81.9L482.8 82.3L483.8 82.6L484.7 82.8L486.7 83.2L488.6 83.6L490.6 83.9L491.9 84.2L492.5 84.3L494.5 84.6L496.4 84.9L498.4 85.2L500.3 85.5L502 85.8L502.3 85.8L504.2 86.1L506.2 86.3L508.1 86.5L510.1 86.8L511.2 86.9M516.3 87.5L517.9 87.6L519.8 87.8L521.8 88L523.7 88.2M408.6 9.1L408.8 9.4L409.7 10.7L410.7 12.2L410.8 12.3L411.9 13.9L412.7 14.9L413.1 15.5L414.4 17.1L414.6 17.4L415.7 18.7L416.6 19.8L417 20.3L418.4 21.9L418.5 22L419.9 23.5L420.5 24.1L421.3 25.1L422.4 26.2L422.9 26.7L424.4 28.2L424.4 28.3L426.1 29.9L426.3 30.1L427.7 31.5L428.3 31.9L429.5 33.1L430.2 33.7L431.3 34.7L432.2 35.3L433.2 36.3L434.1 37L435.1 37.8L436 38.6L437.1 39.4L438 40.2L439.1 41L439.9 41.7L441.2 42.6L441.9 43.2L443.4 44.2L443.8 44.6L445.7 45.8L445.8 45.9L447.7 47.1L448.3 47.4L449.7 48.3L450.9 49L451.6 49.4L453.6 50.5L453.7 50.6L455.5 51.6L456.7 52.2L457.5 52.6L459 53.4M461 54.4L461.4 54.6L463.2 55.4L463.3 55.5L465.3 56.3L466.9 57L467.2 57.1L469.2 58L470.8 58.6L471.1 58.8L473.1 59.5L474.7 60.2L475 60.3L477 61.1L478.9 61.8L478.9 61.8L480.8 62.5L482.8 63.1L483.7 63.4L484.7 63.7L486.7 64.3L488.6 64.9L489.2 65L490.6 65.4L492.5 65.9L494.5 66.4L495.2 66.6L496.4 66.9L498.4 67.3L500.3 67.8L502.3 68.2L502.3 68.2L504.2 68.6L506.2 69L508.1 69.4L510.1 69.7L510.5 69.8L512 70.1L513.5 70.3M515.6 70.7L515.9 70.7L517.9 71.1L519.8 71.4L519.8 71.4L521.8 71.7L523.7 72M427.4 9.1L428.3 10L429 10.7L430.2 11.9L430.6 12.3L432.2 13.8L432.2 13.9L433.9 15.5L434.1 15.7L435.6 17.1L436 17.5L437.3 18.7L438 19.4L439 20.3L439.9 21.1L440.8 21.9L441.9 22.8L442.6 23.5L443.8 24.5L444.5 25.1L445.8 26.1L446.5 26.7L447.7 27.7L448.5 28.3L449.7 29.2L450.5 29.9L451.6 30.8L452.6 31.5L453.6 32.2L454.8 33.1L455.5 33.6L457.1 34.7L457.5 34.9L458.5 35.6M463 38.2L463.3 38.3L465.3 39.3L465.5 39.4L467.2 40.3L469 41L469.2 41.1L471.1 41.9L473.1 42.6L473.1 42.6L475 43.3L477 44.1L477.4 44.2L478.9 44.8L480.8 45.6L481.5 45.8L482.8 46.3L484.7 47.1L485.5 47.4L486.7 47.9L488.6 48.8L489.3 49L490.6 49.6L492.5 50.4L493.1 50.6L494.5 51.2L496.4 51.9L497.2 52.2L498.4 52.6L500.3 53.3L501.8 53.8L502.3 54L504.2 54.5L506.2 55.1L507.4 55.4L508.1 55.6L510.1 56.1L512 56.5L512.8 56.7M517.9 57.9L519.8 58.3L521.4 58.6L521.8 58.7L523.7 59.1M444.2 9.1L445.8 10.5L446 10.7L447.7 12.2L447.8 12.3L449.7 13.9L449.7 13.9L451.6 15.5L451.6 15.5L453.5 17.1L453.6 17.1L455.5 18.7L455.6 18.7L457.5 20.1L457.7 20.3L459.4 21.5L459.9 21.9L460.7 22.4M462.5 23.6L463.3 24.2L464.8 25.1L465.3 25.3L467.2 26.4L467.6 26.7L469.2 27.5L470.8 28.3L471.1 28.4L473.1 29.3L474.5 29.9L475 30L477 30.8L478.4 31.5L478.9 31.6L480.8 32.4L482.3 33.1L482.8 33.2L484.7 34L486.2 34.7L486.7 34.9L488.6 35.7L490 36.3L490.6 36.5L492.5 37.3L493.8 37.8L494.5 38.1L496.4 39L497.6 39.4L498.4 39.7L500.3 40.5L501.6 41L502.3 41.3L504.2 42.1L505.7 42.6L506.2 42.8L508.1 43.6L510 44.2L510.1 44.2L512 44.9L514 45.5L515 45.8L515.1 45.9M517.2 46.5L517.9 46.7L519.8 47.2L520.5 47.4L521.8 47.8L523.7 48.3M460.1 9.1L461.4 10.1L462.2 10.7L463.3 11.5L464.5 12.3L465.3 12.8L466.9 13.9L467.2 14.1L469.2 15.3L469.5 15.5L471.1 16.5L472.3 17.1L473.1 17.5L475 18.5L475.4 18.7L477 19.4L478.7 20.3L478.9 20.4L480.8 21.3L482.2 21.9L482.8 22.2L484.7 23.1L485.6 23.5L486.7 23.9L488.6 24.8L489.1 25.1L490.6 25.7L492.5 26.6L492.6 26.7L494.5 27.5L496.1 28.3L496.4 28.4L498.4 29.3L499.7 29.9L500.3 30.2L502.3 31L503.3 31.5L504.2 31.8L506.2 32.6L507.2 33.1L508.1 33.4L510.1 34.2L511.2 34.7L512 35L514 35.7L514.5 35.9M519.4 37.7L519.8 37.8L520 37.8L521.8 38.4L523.7 39M478 9.1L478.9 9.6L480.8 10.7L480.8 10.7L482.8 11.8L483.6 12.3L484.7 12.9L486.6 13.9L486.7 14L488.6 15L489.6 15.5L490.6 16L492.5 17L492.7 17.1L494.5 18L495.9 18.7L496.4 18.9L498.4 19.9L499.3 20.3L500.3 20.8L502.3 21.7L502.7 21.9L504.2 22.6L506.2 23.5L506.2 23.5L508.1 24.3L509.9 25.1L510.1 25.2L511.9 26M514 26.8L515.9 27.6L517.6 28.3L517.9 28.4L519.8 29.2L521.6 29.9L521.8 29.9L523.7 30.6M494.8 9.1L496.4 10L497.8 10.7L498.4 11L500.3 12L500.9 12.3L502.3 13L504.1 13.9L504.2 13.9L506.2 14.9L507.5 15.5L508.1 15.8L510.1 16.7L511 17.1L511.4 17.3M516.1 19.4L517.9 20.1L518.2 20.3L519.8 21L521.8 21.8L522 21.9L523.7 22.6M510.8 9.1L512 9.7L514 10.5L514.3 10.7L515.9 11.4L516.8 11.8M518.8 12.7L519.8 13.2L521.4 13.9L521.8 14.1L523.7 14.9" fill="none" stroke="#000" stroke-width="1" stroke-linejoin="round"/>
<g font-family="'Liberation Sans', Arial, sans-serif" font-size="3.4" font-weight="bold" fill="#0a0a28" stroke="#0a0a28" stroke-width="0.25" text-anchor="middle">
<text transform="translate(410 44.9) rotate(47)" y="1.1">0.5</text>
<text transform="translate(459.2 75.6) rotate(20.1)" y="1.1">0.5</text>
<text transform="translate(513.8 87.2) rotate(6.1)" y="1.1">0.5</text>
<text transform="translate(460 53.9) rotate(26.1)" y="1.1">1</text>
<text transform="translate(514.6 70.5) rotate(9.8)" y="1.1">1</text>
<text transform="translate(460.8 36.9) rotate(30.1)" y="1.1">1.5</text>
<text transform="translate(515.4 57.3) rotate(12.6)" y="1.1">1.5</text>
<text transform="translate(461.6 23) rotate(33.8)" y="1.1">2</text>
<text transform="translate(516.2 46.2) rotate(16.6)" y="1.1">2</text>
<text transform="translate(517 36.8) rotate(19.3)" y="1.1">2.5</text>
<text transform="translate(513 26.4) rotate(22.6)" y="1.1">3</text>
<text transform="translate(513.8 18.3) rotate(23.9)" y="1.1">3.5</text>
<text transform="translate(517.8 12.3) rotate(24.3)" y="1.1">4</text>
</g>
<rect x="389.3" y="9.1" width="134.4" height="110.2" fill="none" stroke="#1c1c1c" stroke-width="0.9"/>
<path d="M389.3 119.3v-1.4M389.3 9.1v1.4M389.3 119.3h1.4M523.7 119.3h-1.4M416.2 119.3v-1.4M416.2 9.1v1.4M389.3 97.3h1.4M523.7 97.3h-1.4M443.1 119.3v-1.4M443.1 9.1v1.4M389.3 75.2h1.4M523.7 75.2h-1.4M469.9 119.3v-1.4M469.9 9.1v1.4M389.3 53.2h1.4M523.7 53.2h-1.4M496.8 119.3v-1.4M496.8 9.1v1.4M389.3 31.1h1.4M523.7 31.1h-1.4M523.7 119.3v-1.4M523.7 9.1v1.4M389.3 9.1h1.4M523.7 9.1h-1.4" stroke="#262626" stroke-width="0.6" fill="none"/>
<g font-family="'Liberation Sans', Arial, sans-serif" font-weight="bold" font-size="9.7" fill="#1f1f1f" stroke="#1f1f1f" stroke-width="0.15">
<text x="389.3" y="131.9" text-anchor="middle">1</text>
<text x="385.9" y="123" text-anchor="end">1</text>
<text x="416.2" y="131.9" text-anchor="middle">2</text>
<text x="385.9" y="101" text-anchor="end">2</text>
<text x="443.1" y="131.9" text-anchor="middle">3</text>
<text x="385.9" y="78.9" text-anchor="end">3</text>
<text x="469.9" y="131.9" text-anchor="middle">4</text>
<text x="385.9" y="56.9" text-anchor="end">4</text>
<text x="496.8" y="131.9" text-anchor="middle">5</text>
<text x="385.9" y="34.8" text-anchor="end">5</text>
<text x="523.7" y="131.9" text-anchor="middle">6</text>
<text x="385.9" y="12.8" text-anchor="end">6</text>
<text x="456.5" y="144.4" text-anchor="middle">Ka</text>
<text transform="translate(376.4 64.2) rotate(-90)" text-anchor="middle">Kr</text>
<rect x="530.1" y="9.1" width="5.8" height="110.2" fill="url(#pg)" stroke="#1c1c1c" stroke-width="0.85" />
<text x="539.3" y="123">0</text>
<text x="539.3" y="101">1</text>
<text x="539.3" y="78.9">2</text>
<text x="539.3" y="56.9">3</text>
<text x="539.3" y="34.8">4</text>
<text x="539.3" y="12.8">5</text>
</g>
<path d="M535.9 97.3h-1.2M535.9 75.2h-1.2M535.9 53.2h-1.2M535.9 31.1h-1.2" stroke="#262626" stroke-width="0.6" fill="none"/>
<text x="458" y="159.9" text-anchor="middle" font-family="'Liberation Serif', 'Times New Roman', serif" font-size="11.8" letter-spacing="0.25" fill="#000">(<tspan font-weight="bold" stroke="#000" stroke-width="0.2">III.a</tspan>)</text>
</g>
<g>
<rect x="25.2" y="168.2" width="134.5" height="109.5" fill="#3d21a8"/>
<path d="M147.7 241.2L148 241.2L150 241.5L151.9 241.7L153.9 241.9L155.8 242.1L157.8 242.3L159.7 242.4L159.7 241.2L159.7 239.6L159.7 238L159.7 236.4L159.7 234.9L159.7 233.3L159.7 231.7L159.7 230.1L159.7 228.5L159.7 226.9L159.7 225.3L159.7 223.7L159.7 222.2L159.7 220.6L159.7 219L159.7 217.4L159.7 215.8L159.7 214.2L159.7 212.6L159.7 211L159.7 209.5L159.7 207.9L159.7 206.3L159.7 204.7L159.7 203.1L159.7 201.5L159.7 199.9L159.7 198.4L159.7 196.8L159.7 195.2L159.7 193.6L159.7 192L159.7 190.4L159.7 188.8L159.7 187.2L159.7 185.7L159.7 184.1L159.7 182.5L159.7 180.9L159.7 179.3L159.7 177.7L159.7 176.1L159.7 174.5L159.7 173L159.7 171.4L159.7 169.8L159.7 168.2L157.8 168.2L155.8 168.2L153.9 168.2L151.9 168.2L150 168.2L148 168.2L146.1 168.2L144.1 168.2L142.2 168.2L140.2 168.2L138.3 168.2L136.3 168.2L134.4 168.2L132.4 168.2L130.5 168.2L128.5 168.2L126.6 168.2L124.6 168.2L122.7 168.2L120.7 168.2L118.8 168.2L116.8 168.2L114.9 168.2L112.9 168.2L111 168.2L109 168.2L107.1 168.2L105.1 168.2L103.2 168.2L101.2 168.2L99.3 168.2L97.3 168.2L95.4 168.2L93.4 168.2L91.5 168.2L89.5 168.2L87.6 168.2L85.6 168.2L83.7 168.2L81.7 168.2L79.8 168.2L77.8 168.2L75.9 168.2L73.9 168.2L72 168.2L70 168.2L68.1 168.2L66.1 168.2L64.2 168.2L62.2 168.2L60.3 168.2L58.3 168.2L56.4 168.2L54.4 168.2L52.5 168.2L50.5 168.2L48.6 168.2L46.6 168.2L44.7 168.2L42.7 168.2L40.8 168.2L38.8 168.2L36.9 168.2L34.9 168.2L33 168.2L31 168.2L29.1 168.2L27.1 168.2L25.2 168.2L25.2 169.8L25.2 171.4L25.2 173L25.2 174.5L25.2 176.1L25.2 177.5L25.3 177.7L26 179.3L26.7 180.9L27.1 181.7L27.5 182.5L28.4 184.1L29.1 185.4L29.3 185.7L30.2 187.2L31 188.6L31.2 188.8L32.3 190.4L33 191.5L33.4 192L34.5 193.6L34.9 194.2L35.7 195.2L36.9 196.6L37 196.8L38.4 198.4L38.8 198.8L39.9 199.9L40.8 200.9L41.4 201.5L42.7 202.8L43 203.1L44.7 204.6L44.8 204.7L46.6 206.3L46.6 206.3L48.6 207.9L48.6 207.9L50.5 209.4L50.7 209.5L52.5 210.8L52.9 211L54.4 212.1L55.2 212.6L56.4 213.4L57.7 214.2L58.3 214.6L60.3 215.8L60.3 215.8L62.2 217L63 217.4L64.2 218.1L65.8 219L66.1 219.2L68.1 220.2L68.8 220.6L70 221.2L72 222.1L72 222.2L73.9 223.1L75.3 223.7L75.9 224L77.8 225L78.7 225.3L79.8 225.8L81.7 226.7L82.4 226.9L83.7 227.4L85.6 228.2L86.6 228.5L87.6 228.8L89.5 229.4L91.5 230L91.6 230.1L93.4 230.7L95.4 231.2L96.9 231.7L97.3 231.8L99.3 232.3L101.2 232.9L102.9 233.3L103.2 233.3L105.1 233.8L107.1 234.2L109 234.6L110.2 234.9L111 235L112.9 235.5L114.9 235.9L116.8 236.4L117.1 236.4L118.8 236.8L120.7 237.2L122.7 237.6L124.6 237.9L125.1 238L126.6 238.3L128.5 238.6L130.5 238.9L132.4 239.2L134.4 239.5L135.1 239.6L136.3 239.8L138.3 240.1L140.2 240.3L142.2 240.6L144.1 240.8L146.1 241Z" fill="#443be7"/>
<path d="M150.1 225.3L151.9 225.6L153.9 225.9L155.8 226.2L157.8 226.5L159.7 226.8L159.7 225.3L159.7 223.7L159.7 222.2L159.7 220.6L159.7 219L159.7 217.4L159.7 215.8L159.7 214.2L159.7 212.6L159.7 211L159.7 209.5L159.7 207.9L159.7 206.3L159.7 204.7L159.7 203.1L159.7 201.5L159.7 199.9L159.7 198.4L159.7 196.8L159.7 195.2L159.7 193.6L159.7 192L159.7 190.4L159.7 188.8L159.7 187.2L159.7 185.7L159.7 184.1L159.7 182.5L159.7 180.9L159.7 179.3L159.7 177.7L159.7 176.1L159.7 174.5L159.7 173L159.7 171.4L159.7 169.8L159.7 168.2L157.8 168.2L155.8 168.2L153.9 168.2L151.9 168.2L150 168.2L148 168.2L146.1 168.2L144.1 168.2L142.2 168.2L140.2 168.2L138.3 168.2L136.3 168.2L134.4 168.2L132.4 168.2L130.5 168.2L128.5 168.2L126.6 168.2L124.6 168.2L122.7 168.2L120.7 168.2L118.8 168.2L116.8 168.2L114.9 168.2L112.9 168.2L111 168.2L109 168.2L107.1 168.2L105.1 168.2L103.2 168.2L101.2 168.2L99.3 168.2L97.3 168.2L95.4 168.2L93.4 168.2L91.5 168.2L89.5 168.2L87.6 168.2L85.6 168.2L83.7 168.2L81.7 168.2L79.8 168.2L77.8 168.2L75.9 168.2L73.9 168.2L72 168.2L70 168.2L68.1 168.2L66.1 168.2L64.2 168.2L62.2 168.2L60.3 168.2L58.3 168.2L56.4 168.2L54.4 168.2L52.5 168.2L50.5 168.2L48.6 168.2L46.6 168.2L44.7 168.2L42.7 168.2L40.8 168.2L38.8 168.2L38.4 168.2L38.8 168.9L39.4 169.8L40.5 171.4L40.8 171.8L41.6 173L42.7 174.5L42.8 174.5L44.1 176.1L44.7 176.9L45.4 177.7L46.6 179.2L46.7 179.3L48.2 180.9L48.6 181.3L49.7 182.5L50.5 183.3L51.3 184.1L52.5 185.2L53 185.7L54.4 187L54.7 187.2L56.4 188.7L56.6 188.8L58.3 190.3L58.5 190.4L60.3 191.8L60.6 192L62.2 193.2L62.8 193.6L64.2 194.6L65.1 195.2L66.1 195.9L67.5 196.8L68.1 197.1L70 198.4L70 198.4L72 199.6L72.5 199.9L73.9 200.8L75.2 201.5L75.9 201.9L77.8 203L78 203.1L79.8 204.1L81 204.7L81.7 205.1L83.7 206L84.2 206.3L85.6 206.9L87.6 207.8L87.8 207.9L89.5 208.6L91.5 209.4L91.5 209.5L93.4 210.2L95.4 210.9L95.6 211L97.3 211.7L99.3 212.3L100.2 212.6L101.2 213L103.2 213.6L105.1 214.2L105.3 214.2L107.1 214.7L109 215.3L110.9 215.8L111 215.8L112.9 216.4L114.9 216.9L116.6 217.4L116.8 217.5L118.8 218L120.7 218.6L122 219L122.7 219.2L124.6 219.7L126.6 220.2L127.8 220.6L128.5 220.8L130.5 221.3L132.4 221.8L134 222.2L134.4 222.2L136.3 222.7L138.3 223.1L140.2 223.5L141.3 223.7L142.2 223.9L144.1 224.3L146.1 224.6L148 225L150 225.3Z" fill="#3062fd"/>
<path d="M153.2 214.2L153.9 214.3L155.8 214.7L157.8 215.1L159.7 215.4L159.7 214.2L159.7 212.6L159.7 211L159.7 209.5L159.7 207.9L159.7 206.3L159.7 204.7L159.7 203.1L159.7 201.5L159.7 199.9L159.7 198.4L159.7 196.8L159.7 195.2L159.7 193.6L159.7 192L159.7 190.4L159.7 188.8L159.7 187.2L159.7 185.7L159.7 184.1L159.7 182.5L159.7 180.9L159.7 179.3L159.7 177.7L159.7 176.1L159.7 174.5L159.7 173L159.7 171.4L159.7 169.8L159.7 168.2L157.8 168.2L155.8 168.2L153.9 168.2L151.9 168.2L150 168.2L148 168.2L146.1 168.2L144.1 168.2L142.2 168.2L140.2 168.2L138.3 168.2L136.3 168.2L134.4 168.2L132.4 168.2L130.5 168.2L128.5 168.2L126.6 168.2L124.6 168.2L122.7 168.2L120.7 168.2L118.8 168.2L116.8 168.2L114.9 168.2L112.9 168.2L111 168.2L109 168.2L107.1 168.2L105.1 168.2L103.2 168.2L101.2 168.2L99.3 168.2L97.3 168.2L95.4 168.2L93.4 168.2L91.5 168.2L89.5 168.2L87.6 168.2L85.6 168.2L83.7 168.2L81.7 168.2L79.8 168.2L77.8 168.2L75.9 168.2L73.9 168.2L72 168.2L70 168.2L68.1 168.2L66.1 168.2L64.2 168.2L62.2 168.2L60.3 168.2L58.3 168.2L56.4 168.2L54.5 168.2L55.9 169.8L56.4 170.3L57.5 171.4L58.3 172.2L59.1 173L60.3 174.1L60.7 174.5L62.2 175.9L62.5 176.1L64.2 177.7L64.3 177.7L66.1 179.3L66.1 179.3L68.1 180.9L68.1 180.9L70 182.4L70.2 182.5L72 183.8L72.3 184.1L73.9 185.2L74.7 185.7L75.9 186.4L77.2 187.2L77.8 187.6L79.8 188.8L79.8 188.8L81.7 189.9L82.6 190.4L83.7 191L85.5 192L85.6 192L87.6 193.1L88.6 193.6L89.5 194.1L91.5 195L91.8 195.2L93.4 195.9L95.4 196.8L95.4 196.8L97.3 197.6L99.3 198.4L99.3 198.4L101.2 199.1L103.2 199.8L103.5 199.9L105.1 200.5L107.1 201.2L108 201.5L109 201.9L111 202.5L112.9 203.1L113 203.1L114.9 203.7L116.8 204.3L118.2 204.7L118.8 204.9L120.7 205.5L122.7 206L123.5 206.3L124.6 206.6L126.6 207.3L128.5 207.9L128.5 207.9L130.5 208.5L132.4 209.1L133.7 209.5L134.4 209.7L136.3 210.2L138.3 210.8L139.3 211L140.2 211.3L142.2 211.8L144.1 212.3L145.6 212.6L146.1 212.7L148 213.2L150 213.6L151.9 214Z" fill="#0986f3"/>
<path d="M152.8 204.7L153.9 204.9L155.8 205.3L157.8 205.7L159.7 206.1L159.7 204.7L159.7 203.1L159.7 201.5L159.7 199.9L159.7 198.4L159.7 196.8L159.7 195.2L159.7 193.6L159.7 192L159.7 190.4L159.7 188.8L159.7 187.2L159.7 185.7L159.7 184.1L159.7 182.5L159.7 180.9L159.7 179.3L159.7 177.7L159.7 176.1L159.7 174.5L159.7 173L159.7 171.4L159.7 169.8L159.7 168.2L157.8 168.2L155.8 168.2L153.9 168.2L151.9 168.2L150 168.2L148 168.2L146.1 168.2L144.1 168.2L142.2 168.2L140.2 168.2L138.3 168.2L136.3 168.2L134.4 168.2L132.4 168.2L130.5 168.2L128.5 168.2L126.6 168.2L124.6 168.2L122.7 168.2L120.7 168.2L118.8 168.2L116.8 168.2L114.9 168.2L112.9 168.2L111 168.2L109 168.2L107.1 168.2L105.1 168.2L103.2 168.2L101.2 168.2L99.3 168.2L97.3 168.2L95.4 168.2L93.4 168.2L91.5 168.2L89.5 168.2L87.6 168.2L85.6 168.2L83.7 168.2L81.7 168.2L79.8 168.2L77.8 168.2L75.9 168.2L73.9 168.2L72 168.2L70.1 168.2L71.9 169.8L72 169.8L73.8 171.4L73.9 171.4L75.8 173L75.9 173L77.8 174.5L77.9 174.5L79.8 175.9L80.1 176.1L81.7 177.3L82.3 177.7L83.7 178.6L84.7 179.3L85.6 179.9L87.4 180.9L87.6 181L89.5 182.1L90.2 182.5L91.5 183.2L93.1 184.1L93.4 184.2L95.4 185.2L96.2 185.7L97.3 186.2L99.3 187.1L99.5 187.2L101.2 188L103.1 188.8L103.2 188.9L105.1 189.7L107 190.4L107.1 190.5L109 191.2L111 191.9L111.2 192L112.9 192.6L114.9 193.3L115.9 193.6L116.8 193.9L118.8 194.6L120.6 195.2L120.7 195.2L122.7 195.8L124.6 196.5L125.5 196.8L126.6 197.1L128.5 197.8L130.3 198.4L130.5 198.4L132.4 199.1L134.4 199.7L135.2 199.9L136.3 200.3L138.3 200.9L140.2 201.5L140.4 201.5L142.2 202L144.1 202.6L146.1 203.1L146.2 203.1L148 203.6L150 204.1L151.9 204.5Z" fill="#00a5df"/>
<path d="M154.4 196.8L155.8 197.1L157.8 197.5L159.7 198L159.7 196.8L159.7 195.2L159.7 193.6L159.7 192L159.7 190.4L159.7 188.8L159.7 187.2L159.7 185.7L159.7 184.1L159.7 182.5L159.7 180.9L159.7 179.3L159.7 177.7L159.7 176.1L159.7 174.5L159.7 173L159.7 171.4L159.7 169.8L159.7 168.2L157.8 168.2L155.8 168.2L153.9 168.2L151.9 168.2L150 168.2L148 168.2L146.1 168.2L144.1 168.2L142.2 168.2L140.2 168.2L138.3 168.2L136.3 168.2L134.4 168.2L132.4 168.2L130.5 168.2L128.5 168.2L126.6 168.2L124.6 168.2L122.7 168.2L120.7 168.2L118.8 168.2L116.8 168.2L114.9 168.2L112.9 168.2L111 168.2L109 168.2L107.1 168.2L105.1 168.2L103.2 168.2L101.2 168.2L99.3 168.2L97.3 168.2L95.4 168.2L93.4 168.2L91.5 168.2L89.5 168.2L87.6 168.2L85.6 168.2L84.9 168.2L85.6 168.7L87.1 169.8L87.6 170.1L89.4 171.4L89.5 171.4L91.5 172.7L91.9 173L93.4 173.9L94.6 174.5L95.4 175L97.3 176.1L97.4 176.1L99.3 177.1L100.4 177.7L101.2 178.1L103.2 179.1L103.6 179.3L105.1 180L107.1 180.8L107.2 180.9L109 181.7L111 182.5L111 182.5L112.9 183.2L114.9 184L115 184.1L116.8 184.8L118.8 185.5L119.2 185.7L120.7 186.2L122.7 186.9L123.5 187.2L124.6 187.6L126.6 188.3L127.9 188.8L128.5 189L130.5 189.7L132.4 190.4L132.5 190.4L134.4 191L136.3 191.7L137.3 192L138.3 192.3L140.2 192.9L142.2 193.5L142.5 193.6L144.1 194.1L146.1 194.6L148 195.1L148.1 195.2L150 195.7L151.9 196.2L153.9 196.6Z" fill="#00beb8"/>
<path d="M158.3 190.4L159.7 190.8L159.7 190.4L159.7 188.8L159.7 187.2L159.7 185.7L159.7 184.1L159.7 182.5L159.7 180.9L159.7 179.3L159.7 177.7L159.7 176.1L159.7 174.5L159.7 173L159.7 171.4L159.7 169.8L159.7 168.2L157.8 168.2L155.8 168.2L153.9 168.2L151.9 168.2L150 168.2L148 168.2L146.1 168.2L144.1 168.2L142.2 168.2L140.2 168.2L138.3 168.2L136.3 168.2L134.4 168.2L132.4 168.2L130.5 168.2L128.5 168.2L126.6 168.2L124.6 168.2L122.7 168.2L120.7 168.2L118.8 168.2L116.8 168.2L114.9 168.2L112.9 168.2L111 168.2L109 168.2L107.1 168.2L105.1 168.2L103.2 168.2L101.2 168.2L99.8 168.2L101.2 169L102.6 169.8L103.2 170.1L105.1 171.1L105.8 171.4L107.1 172L109 172.9L109.1 173L111 173.8L112.6 174.5L112.9 174.7L114.9 175.6L116.2 176.1L116.8 176.4L118.8 177.2L119.9 177.7L120.7 178L122.7 178.8L123.8 179.3L124.6 179.6L126.6 180.4L127.9 180.9L128.5 181.1L130.5 181.8L132.2 182.5L132.4 182.6L134.4 183.3L136.3 183.9L136.7 184.1L138.3 184.6L140.2 185.2L141.5 185.7L142.2 185.9L144.1 186.5L146.1 187.1L146.6 187.2L148 187.7L150 188.2L151.9 188.7L152.2 188.8L153.9 189.3L155.8 189.8L157.8 190.3Z" fill="#1ecd7f"/>
<path d="M158.7 184.1L159.7 184.3L159.7 184.1L159.7 182.5L159.7 180.9L159.7 179.3L159.7 177.7L159.7 176.1L159.7 174.5L159.7 173L159.7 171.4L159.7 169.8L159.7 168.2L157.8 168.2L155.8 168.2L153.9 168.2L151.9 168.2L150 168.2L148 168.2L146.1 168.2L144.1 168.2L142.2 168.2L140.2 168.2L138.3 168.2L136.3 168.2L134.4 168.2L132.4 168.2L130.5 168.2L128.5 168.2L126.6 168.2L124.6 168.2L122.7 168.2L120.7 168.2L118.8 168.2L116.8 168.2L115.7 168.2L116.8 168.7L118.8 169.6L119.1 169.8L120.7 170.5L122.6 171.4L122.7 171.4L124.6 172.3L126.3 173L126.6 173.1L128.5 173.9L130.2 174.5L130.5 174.7L132.4 175.4L134.3 176.1L134.4 176.2L136.3 176.9L138.3 177.6L138.6 177.7L140.2 178.3L142.2 178.9L143.2 179.3L144.1 179.6L146.1 180.3L148 180.9L148.1 180.9L150 181.5L151.9 182.1L153.2 182.5L153.9 182.7L155.8 183.3L157.8 183.8Z" fill="#9ecd17"/>
<path d="M157.1 177.7L157.8 177.9L159.7 178.5L159.7 177.7L159.7 176.1L159.7 174.5L159.7 173L159.7 171.4L159.7 169.8L159.7 168.2L157.8 168.2L155.8 168.2L153.9 168.2L151.9 168.2L150 168.2L148 168.2L146.1 168.2L144.1 168.2L142.2 168.2L140.2 168.2L138.3 168.2L136.3 168.2L134.4 168.2L132.4 168.2L130.9 168.2L132.4 168.8L134.4 169.6L134.7 169.8L136.3 170.4L138.3 171.2L138.8 171.4L140.2 171.9L142.2 172.6L143.1 173L144.1 173.3L146.1 174L147.6 174.5L148 174.7L150 175.4L151.9 176L152.3 176.1L153.9 176.7L155.8 177.3Z" fill="#f1ba00"/>
<path d="M159.1 173L159.7 173.2L159.7 173L159.7 171.4L159.7 169.8L159.7 168.2L157.8 168.2L155.8 168.2L153.9 168.2L151.9 168.2L150 168.2L148 168.2L146.1 168.2L145.8 168.2L146.1 168.3L148 169L150 169.7L150.1 169.8L151.9 170.5L153.9 171.2L154.5 171.4L155.8 171.9L157.8 172.5Z" fill="#ffd600"/>
<path d="M25.2 177.5L25.3 177.7L26 179.3L26.7 180.9L27.1 181.7L27.5 182.5L28.4 184.1L29.1 185.4L29.3 185.7L30.2 187.2L31 188.6L31.2 188.8L32.3 190.4L33 191.5L33.4 192L34.5 193.6L34.9 194.2L35.7 195.2L36.9 196.6L37 196.8L38.4 198.4L38.8 198.8L39.9 199.9L40.8 200.9L41.4 201.5L42.7 202.8L43 203.1L43.9 203.9M47.9 207.3L48.6 207.9L48.6 207.9L50.5 209.4L50.7 209.5L52.5 210.8L52.9 211L54.4 212.1L55.2 212.6L56.4 213.4L57.7 214.2L58.3 214.6L60.3 215.8L60.3 215.8L62.2 217L63 217.4L64.2 218.1L65.8 219L66.1 219.2L68.1 220.2L68.8 220.6L70 221.2L72 222.1L72 222.2L73.9 223.1L75.3 223.7L75.9 224L77.8 225L78.7 225.3L79.8 225.8L81.7 226.7L82.4 226.9L83.7 227.4L85.6 228.2L86.6 228.5L87.6 228.8L89.5 229.4L91.5 230L91.6 230.1L92.7 230.4M97.6 231.9L99.3 232.3L101.2 232.9L102.9 233.3L103.2 233.3L105.1 233.8L107.1 234.2L109 234.6L110.2 234.9L111 235L112.9 235.5L114.9 235.9L116.8 236.4L117.1 236.4L118.8 236.8L120.7 237.2L122.7 237.6L124.6 237.9L125.1 238L126.6 238.3L128.5 238.6L130.5 238.9L132.4 239.2L134.4 239.5L135.1 239.6L136.3 239.8L138.3 240.1L140.2 240.3L142.2 240.6L144.1 240.8L146.1 241L147.2 241.1M152.3 241.7L153.9 241.9L155.8 242.1L157.8 242.3L159.7 242.4M38.4 168.2L38.8 168.9L39.4 169.8L40.5 171.4L40.8 171.8L41.6 173L42.7 174.5L42.8 174.5L44.1 176.1L44.7 176.9L45.4 177.7L46 178.4M47.4 180.1L48.2 180.9L48.6 181.3L49.7 182.5L50.5 183.3L51.3 184.1L52.5 185.2L53 185.7L54.4 187L54.7 187.2L56.4 188.7L56.6 188.8L58.3 190.3L58.5 190.4L60.3 191.8L60.6 192L62.2 193.2L62.8 193.6L64.2 194.6L65.1 195.2L66.1 195.9L67.5 196.8L68.1 197.1L70 198.4L70 198.4L72 199.6L72.5 199.9L73.9 200.8L75.2 201.5L75.9 201.9L77.8 203L78 203.1L79.8 204.1L81 204.7L81.7 205.1L83.7 206L84.2 206.3L85.6 206.9L87.6 207.8L87.8 207.9L89.5 208.6L91.5 209.4L91.5 209.5L93.4 210.2L94.9 210.8M97 211.5L97.3 211.7L99.3 212.3L100.2 212.6L101.2 213L103.2 213.6L105.1 214.2L105.3 214.2L107.1 214.7L109 215.3L110.9 215.8L111 215.8L112.9 216.4L114.9 216.9L116.6 217.4L116.8 217.5L118.8 218L120.7 218.6L122 219L122.7 219.2L124.6 219.7L126.6 220.2L127.8 220.6L128.5 220.8L130.5 221.3L132.4 221.8L134 222.2L134.4 222.2L136.3 222.7L138.3 223.1L140.2 223.5L141.3 223.7L142.2 223.9L144.1 224.3L146.1 224.6L148 225L149.5 225.2M151.6 225.6L151.9 225.6L153.9 225.9L155.8 226.2L157.8 226.5L159.7 226.8M54.5 168.2L55.9 169.8L56.4 170.3L57.5 171.4L58.3 172.2L59.1 173L60.3 174.1L60.7 174.5L62.2 175.9L62.5 176.1L64.2 177.7L64.3 177.7L66.1 179.3L66.1 179.3L68.1 180.9L68.1 180.9L70 182.4L70.2 182.5L72 183.8L72.3 184.1L73.9 185.2L74.7 185.7L75.9 186.4L77.2 187.2L77.8 187.6L79.8 188.8L79.8 188.8L81.7 189.9L82.6 190.4L83.7 191L85.5 192L85.6 192L87.6 193.1L88.6 193.6L89.5 194.1L91.5 195L91.8 195.2L93.4 195.9L94.3 196.3M99.1 198.3L99.3 198.4L99.3 198.4L101.2 199.1L103.2 199.8L103.5 199.9L105.1 200.5L107.1 201.2L108 201.5L109 201.9L111 202.5L112.9 203.1L113 203.1L114.9 203.7L116.8 204.3L118.2 204.7L118.8 204.9L120.7 205.5L122.7 206L123.5 206.3L124.6 206.6L126.6 207.3L128.5 207.9L128.5 207.9L130.5 208.5L132.4 209.1L133.7 209.5L134.4 209.7L136.3 210.2L138.3 210.8L139.3 211L140.2 211.3L142.2 211.8L144.1 212.3L145.6 212.6L146.1 212.7L148 213.2L148.8 213.3M153.9 214.4L155.8 214.7L157.8 215.1L159.7 215.4M70.1 168.2L71.9 169.8L72 169.8L73.8 171.4L73.9 171.4L75.8 173L75.9 173L77.8 174.5L77.9 174.5L79.8 175.9L80.1 176.1L81.7 177.3L82.3 177.7L83.7 178.6L84.7 179.3L85.6 179.9L87.4 180.9L87.6 181L89.5 182.1L90.2 182.5L91.5 183.2L93.1 184.1L93.4 184.2L95.4 185.2L96.2 185.7L96.6 185.8M98.5 186.8L99.3 187.1L99.5 187.2L101.2 188L103.1 188.8L103.2 188.9L105.1 189.7L107 190.4L107.1 190.5L109 191.2L111 191.9L111.2 192L112.9 192.6L114.9 193.3L115.9 193.6L116.8 193.9L118.8 194.6L120.6 195.2L120.7 195.2L122.7 195.8L124.6 196.5L125.5 196.8L126.6 197.1L128.5 197.8L130.3 198.4L130.5 198.4L132.4 199.1L134.4 199.7L135.2 199.9L136.3 200.3L138.3 200.9L140.2 201.5L140.4 201.5L142.2 202L144.1 202.6L146.1 203.1L146.2 203.1L148 203.6L150 204.1L151.1 204.3M153.2 204.8L153.9 204.9L155.8 205.3L157.8 205.7L159.7 206.1M84.9 168.2L85.6 168.7L87.1 169.8L87.6 170.1L89.4 171.4L89.5 171.4L91.5 172.7L91.9 173L93.4 173.9L94.6 174.5L95.4 175L96.1 175.4M100.6 177.8L101.2 178.1L103.2 179.1L103.6 179.3L105.1 180L107.1 180.8L107.2 180.9L109 181.7L111 182.5L111 182.5L112.9 183.2L114.9 184L115 184.1L116.8 184.8L118.8 185.5L119.2 185.7L120.7 186.2L122.7 186.9L123.5 187.2L124.6 187.6L126.6 188.3L127.9 188.8L128.5 189L130.5 189.7L132.4 190.4L132.5 190.4L134.4 191L136.3 191.7L137.3 192L138.3 192.3L140.2 192.9L142.2 193.5L142.5 193.6L144.1 194.1L146.1 194.6L148 195.1L148.1 195.2L150 195.7L150.4 195.8M155.5 197L155.8 197.1L157.8 197.5L159.7 198M99.8 168.2L101.2 169L102.6 169.8L103.2 170.1L105.1 171.1L105.8 171.4L107.1 172L109 172.9L109.1 173L111 173.8L112.6 174.5L112.9 174.7L114.9 175.6L116.2 176.1L116.8 176.4L118.8 177.2L119.9 177.7L120.7 178L122.7 178.8L123.8 179.3L124.6 179.6L126.6 180.4L127.9 180.9L128.5 181.1L130.5 181.8L132.2 182.5L132.4 182.6L134.4 183.3L136.3 183.9L136.7 184.1L138.3 184.6L140.2 185.2L141.5 185.7L142.2 185.9L144.1 186.5L146.1 187.1L146.6 187.2L147.9 187.6M150 188.2L151.9 188.7L152.2 188.8L153.9 189.3L155.8 189.8L157.8 190.3L158.3 190.4L159.7 190.8M115.7 168.2L116.8 168.7L118.8 169.6L119.1 169.8L120.7 170.5L122.6 171.4L122.7 171.4L124.6 172.3L126.3 173L126.6 173.1L128.5 173.9L130.2 174.5L130.5 174.7L132.4 175.4L134.3 176.1L134.4 176.2L136.3 176.9L138.3 177.6L138.6 177.7L140.2 178.3L142.2 178.9L143.2 179.3L144.1 179.6L146.1 180.3L147.3 180.6M152.2 182.2L153.2 182.5L153.9 182.7L155.8 183.3L157.8 183.8L158.7 184.1L159.7 184.3M130.9 168.2L132.4 168.8L134.4 169.6L134.7 169.8L136.3 170.4L138.3 171.2L138.8 171.4L140.2 171.9L142.2 172.6L143.1 173L144.1 173.3L146.1 174L147.6 174.5L148 174.7L149.5 175.2M151.6 175.9L151.9 176L152.3 176.1L153.9 176.7L155.8 177.3L157.1 177.7L157.8 177.9L159.7 178.5M145.8 168.2L146.1 168.3L148 169L148.9 169.4M153.8 171.1L153.9 171.2L154.5 171.4L155.8 171.9L157.8 172.5L159.1 173L159.7 173.2" fill="none" stroke="#000" stroke-width="1" stroke-linejoin="round"/>
<g font-family="'Liberation Sans', Arial, sans-serif" font-size="3.4" font-weight="bold" fill="#0a0a28" stroke="#0a0a28" stroke-width="0.25" text-anchor="middle">
<text transform="translate(45.9 205.7) rotate(40.4)" y="1.1">0.5</text>
<text transform="translate(95.1 231.2) rotate(16.4)" y="1.1">0.5</text>
<text transform="translate(149.8 241.4) rotate(6.3)" y="1.1">0.5</text>
<text transform="translate(46.7 179.3) rotate(48.5)" y="1.1">1</text>
<text transform="translate(95.9 211.2) rotate(20.2)" y="1.1">1</text>
<text transform="translate(150.6 225.4) rotate(9.3)" y="1.1">1</text>
<text transform="translate(96.7 197.3) rotate(22.4)" y="1.1">1.5</text>
<text transform="translate(151.4 213.9) rotate(11.1)" y="1.1">1.5</text>
<text transform="translate(97.5 186.3) rotate(25.9)" y="1.1">2</text>
<text transform="translate(152.2 204.6) rotate(12.6)" y="1.1">2</text>
<text transform="translate(98.3 176.6) rotate(28.2)" y="1.1">2.5</text>
<text transform="translate(153 196.4) rotate(13.7)" y="1.1">2.5</text>
<text transform="translate(149 187.9) rotate(16)" y="1.1">3</text>
<text transform="translate(149.8 181.4) rotate(17.5)" y="1.1">3.5</text>
<text transform="translate(150.6 175.6) rotate(18.6)" y="1.1">4</text>
<text transform="translate(151.4 170.3) rotate(20)" y="1.1">4.5</text>
</g>
<rect x="25.2" y="168.2" width="134.5" height="109.5" fill="none" stroke="#1c1c1c" stroke-width="0.9"/>
<path d="M25.2 277.7v-1.4M25.2 168.2v1.4M25.2 277.7h1.4M159.7 277.7h-1.4M52.1 277.7v-1.4M52.1 168.2v1.4M25.2 255.8h1.4M159.7 255.8h-1.4M79 277.7v-1.4M79 168.2v1.4M25.2 233.9h1.4M159.7 233.9h-1.4M105.9 277.7v-1.4M105.9 168.2v1.4M25.2 212h1.4M159.7 212h-1.4M132.8 277.7v-1.4M132.8 168.2v1.4M25.2 190.1h1.4M159.7 190.1h-1.4M159.7 277.7v-1.4M159.7 168.2v1.4M25.2 168.2h1.4M159.7 168.2h-1.4" stroke="#262626" stroke-width="0.6" fill="none"/>
<g font-family="'Liberation Sans', Arial, sans-serif" font-weight="bold" font-size="9.7" fill="#1f1f1f" stroke="#1f1f1f" stroke-width="0.15">
<text x="25.2" y="290.3" text-anchor="middle">1</text>
<text x="21.8" y="281.4" text-anchor="end">1</text>
<text x="52.1" y="290.3" text-anchor="middle">2</text>
<text x="21.8" y="259.5" text-anchor="end">2</text>
<text x="79" y="290.3" text-anchor="middle">3</text>
<text x="21.8" y="237.6" text-anchor="end">3</text>
<text x="105.9" y="290.3" text-anchor="middle">4</text>
<text x="21.8" y="215.7" text-anchor="end">4</text>
<text x="132.8" y="290.3" text-anchor="middle">5</text>
<text x="21.8" y="193.8" text-anchor="end">5</text>
<text x="159.7" y="290.3" text-anchor="middle">6</text>
<text x="21.8" y="171.9" text-anchor="end">6</text>
<text x="92.4" y="302.8" text-anchor="middle">Ka</text>
<text transform="translate(12.3 222.9) rotate(-90)" text-anchor="middle">Kr</text>
<rect x="166.1" y="168.2" width="5.8" height="109.5" fill="url(#pg)" stroke="#1c1c1c" stroke-width="0.85" />
<text x="175.3" y="281.4">0</text>
<text x="175.3" y="259.5">1</text>
<text x="175.3" y="237.6">2</text>
<text x="175.3" y="215.7">3</text>
<text x="175.3" y="193.8">4</text>
<text x="175.3" y="171.9">5</text>
</g>
<path d="M171.9 255.8h-1.2M171.9 233.9h-1.2M171.9 212h-1.2M171.9 190.1h-1.2" stroke="#262626" stroke-width="0.6" fill="none"/>
<text x="94.2" y="318.3" text-anchor="middle" font-family="'Liberation Serif', 'Times New Roman', serif" font-size="11.8" letter-spacing="0.25" fill="#000">(<tspan font-weight="bold" stroke="#000" stroke-width="0.2">I.b</tspan>)</text>
</g>
<g>
<rect x="208" y="168.4" width="134" height="109.7" fill="#3d21a8"/>
<path d="M331.4 249.5L332.3 249.6L334.2 249.9L336.2 250.2L338.1 250.5L340.1 250.7L342 251L342 249.5L342 247.9L342 246.3L342 244.7L342 243.1L342 241.5L342 239.9L342 238.4L342 236.8L342 235.2L342 233.6L342 232L342 230.4L342 228.8L342 227.2L342 225.6L342 224L342 222.5L342 220.9L342 219.3L342 217.7L342 216.1L342 214.5L342 212.9L342 211.3L342 209.7L342 208.1L342 206.6L342 205L342 203.4L342 201.8L342 200.2L342 198.6L342 197L342 195.4L342 193.8L342 192.2L342 190.7L342 189.1L342 187.5L342 185.9L342 184.3L342 182.7L342 181.1L342 179.5L342 177.9L342 176.3L342 174.8L342 173.2L342 171.6L342 170L342 168.4L340.1 168.4L338.1 168.4L336.2 168.4L334.2 168.4L332.3 168.4L330.3 168.4L328.4 168.4L326.5 168.4L324.5 168.4L322.6 168.4L320.6 168.4L318.7 168.4L316.8 168.4L314.8 168.4L312.9 168.4L310.9 168.4L309 168.4L307 168.4L305.1 168.4L303.2 168.4L301.2 168.4L299.3 168.4L297.3 168.4L295.4 168.4L293.4 168.4L291.5 168.4L289.6 168.4L287.6 168.4L285.7 168.4L283.7 168.4L281.8 168.4L279.9 168.4L277.9 168.4L276 168.4L274 168.4L272.1 168.4L270.1 168.4L268.2 168.4L266.3 168.4L264.3 168.4L262.4 168.4L260.4 168.4L258.5 168.4L256.6 168.4L254.6 168.4L252.7 168.4L250.7 168.4L248.8 168.4L246.8 168.4L244.9 168.4L243 168.4L241 168.4L239.1 168.4L237.1 168.4L235.2 168.4L233.2 168.4L231.3 168.4L229.4 168.4L227.4 168.4L225.5 168.4L223.5 168.4L221.6 168.4L219.7 168.4L217.7 168.4L215.8 168.4L213.8 168.4L211.9 168.4L209.9 168.4L208 168.4L208 170L208 171.6L208 173.2L208 174.8L208 176.3L208 177.9L208 179.5L208 179.6L208.6 181.1L209.3 182.7L209.9 184.1L210 184.3L210.8 185.9L211.6 187.5L211.9 188L212.4 189.1L213.3 190.7L213.8 191.5L214.3 192.2L215.3 193.8L215.8 194.5L216.4 195.4L217.5 197L217.7 197.3L218.7 198.6L219.7 199.8L220 200.2L221.3 201.8L221.6 202.1L222.7 203.4L223.5 204.3L224.2 205L225.5 206.3L225.8 206.6L227.4 208.1L227.4 208.1L229.1 209.7L229.4 209.9L230.9 211.3L231.3 211.7L232.8 212.9L233.2 213.3L234.7 214.5L235.2 214.9L236.7 216.1L237.1 216.4L238.8 217.7L239.1 217.9L241 219.3L241 219.3L243 220.7L243.2 220.9L244.9 222L245.5 222.5L246.8 223.3L248 224L248.8 224.5L250.7 225.6L250.7 225.6L252.7 226.7L253.7 227.2L254.6 227.7L256.6 228.7L256.8 228.8L258.5 229.7L260 230.4L260.4 230.6L262.4 231.6L263.2 232L264.3 232.5L266.3 233.4L266.8 233.6L268.2 234.2L270.1 234.9L270.8 235.2L272.1 235.6L274 236.3L275.3 236.8L276 237L277.9 237.7L279.8 238.4L279.9 238.4L281.8 239L283.7 239.6L284.9 239.9L285.7 240.2L287.6 240.7L289.6 241.2L291 241.5L291.5 241.6L293.4 242.2L295.4 242.7L297.2 243.1L297.3 243.1L299.3 243.6L301.2 244.1L303.2 244.5L303.9 244.7L305.1 245L307 245.4L309 245.7L310.9 246.1L312 246.3L312.9 246.5L314.8 246.8L316.8 247.1L318.7 247.5L320.6 247.8L321.4 247.9L322.6 248.1L324.5 248.4L326.5 248.7L328.4 249L330.3 249.3Z" fill="#443be7"/>
<path d="M340.5 233.6L342 233.8L342 233.6L342 232L342 230.4L342 228.8L342 227.2L342 225.6L342 224L342 222.5L342 220.9L342 219.3L342 217.7L342 216.1L342 214.5L342 212.9L342 211.3L342 209.7L342 208.1L342 206.6L342 205L342 203.4L342 201.8L342 200.2L342 198.6L342 197L342 195.4L342 193.8L342 192.2L342 190.7L342 189.1L342 187.5L342 185.9L342 184.3L342 182.7L342 181.1L342 179.5L342 177.9L342 176.3L342 174.8L342 173.2L342 171.6L342 170L342 168.4L340.1 168.4L338.1 168.4L336.2 168.4L334.2 168.4L332.3 168.4L330.3 168.4L328.4 168.4L326.5 168.4L324.5 168.4L322.6 168.4L320.6 168.4L318.7 168.4L316.8 168.4L314.8 168.4L312.9 168.4L310.9 168.4L309 168.4L307 168.4L305.1 168.4L303.2 168.4L301.2 168.4L299.3 168.4L297.3 168.4L295.4 168.4L293.4 168.4L291.5 168.4L289.6 168.4L287.6 168.4L285.7 168.4L283.7 168.4L281.8 168.4L279.9 168.4L277.9 168.4L276 168.4L274 168.4L272.1 168.4L270.1 168.4L268.2 168.4L266.3 168.4L264.3 168.4L262.4 168.4L260.4 168.4L258.5 168.4L256.6 168.4L254.6 168.4L252.7 168.4L250.7 168.4L248.8 168.4L246.8 168.4L244.9 168.4L243 168.4L241 168.4L239.1 168.4L237.1 168.4L235.2 168.4L233.2 168.4L231.3 168.4L229.4 168.4L227.4 168.4L225.5 168.4L223.5 168.4L221.6 168.4L222.6 170L223.5 171.5L223.6 171.6L224.6 173.2L225.5 174.4L225.7 174.8L226.9 176.3L227.4 177.1L228.1 177.9L229.3 179.5L229.4 179.6L230.6 181.1L231.3 181.9L232 182.7L233.2 184.1L233.4 184.3L234.9 185.9L235.2 186.2L236.4 187.5L237.1 188.2L238 189.1L239.1 190.1L239.7 190.7L241 191.9L241.4 192.2L243 193.6L243.2 193.8L244.9 195.3L245 195.4L246.8 196.9L247 197L248.8 198.5L249 198.6L250.7 200L251 200.2L252.7 201.4L253.2 201.8L254.6 202.8L255.4 203.4L256.6 204.2L257.7 205L258.5 205.5L260.1 206.6L260.4 206.8L262.4 208L262.6 208.1L264.3 209.1L265.4 209.7L266.3 210.2L268.2 211.3L268.3 211.3L270.1 212.3L271.4 212.9L272.1 213.3L274 214.2L274.7 214.5L276 215.1L277.9 216L278.2 216.1L279.9 216.8L281.8 217.6L281.9 217.7L283.7 218.4L285.7 219.2L285.9 219.3L287.6 219.9L289.6 220.7L290.1 220.9L291.5 221.4L293.4 222L294.6 222.5L295.4 222.7L297.3 223.4L299.3 224L299.4 224L301.2 224.6L303.2 225.2L304.4 225.6L305.1 225.8L307 226.4L309 227L310 227.2L310.9 227.5L312.9 228L314.8 228.5L316.2 228.8L316.8 229L318.7 229.4L320.6 229.8L322.6 230.3L323.3 230.4L324.5 230.7L326.5 231.1L328.4 231.4L330.3 231.8L331.4 232L332.3 232.2L334.2 232.5L336.2 232.9L338.1 233.2L340.1 233.5Z" fill="#3062fd"/>
<path d="M335.8 219.3L336.2 219.3L338.1 219.7L340.1 220.1L342 220.5L342 219.3L342 217.7L342 216.1L342 214.5L342 212.9L342 211.3L342 209.7L342 208.1L342 206.6L342 205L342 203.4L342 201.8L342 200.2L342 198.6L342 197L342 195.4L342 193.8L342 192.2L342 190.7L342 189.1L342 187.5L342 185.9L342 184.3L342 182.7L342 181.1L342 179.5L342 177.9L342 176.3L342 174.8L342 173.2L342 171.6L342 170L342 168.4L340.1 168.4L338.1 168.4L336.2 168.4L334.2 168.4L332.3 168.4L330.3 168.4L328.4 168.4L326.5 168.4L324.5 168.4L322.6 168.4L320.6 168.4L318.7 168.4L316.8 168.4L314.8 168.4L312.9 168.4L310.9 168.4L309 168.4L307 168.4L305.1 168.4L303.2 168.4L301.2 168.4L299.3 168.4L297.3 168.4L295.4 168.4L293.4 168.4L291.5 168.4L289.6 168.4L287.6 168.4L285.7 168.4L283.7 168.4L281.8 168.4L279.9 168.4L277.9 168.4L276 168.4L274 168.4L272.1 168.4L270.1 168.4L268.2 168.4L266.3 168.4L264.3 168.4L262.4 168.4L260.4 168.4L258.5 168.4L256.6 168.4L254.6 168.4L252.7 168.4L250.7 168.4L248.8 168.4L246.8 168.4L244.9 168.4L243 168.4L241 168.4L239.2 168.4L240.6 170L241 170.4L242.1 171.6L243 172.4L243.7 173.2L244.9 174.4L245.3 174.8L246.8 176.2L247 176.3L248.7 177.9L248.8 178L250.4 179.5L250.7 179.8L252.2 181.1L252.7 181.5L254 182.7L254.6 183.2L255.9 184.3L256.6 184.8L257.8 185.9L258.5 186.5L259.8 187.5L260.4 188L261.8 189.1L262.4 189.5L263.9 190.7L264.3 191L266 192.2L266.3 192.4L268.2 193.8L268.3 193.8L270.1 195.1L270.6 195.4L272.1 196.4L273.1 197L274 197.6L275.7 198.6L276 198.8L277.9 199.8L278.6 200.2L279.9 200.8L281.8 201.8L281.8 201.8L283.7 202.7L285.4 203.4L285.7 203.5L287.6 204.2L289.6 205L289.6 205L291.5 205.7L293.4 206.4L293.9 206.6L295.4 207.1L297.3 207.9L298 208.1L299.3 208.7L301.2 209.5L301.9 209.7L303.2 210.3L305.1 211L305.9 211.3L307 211.7L309 212.4L310.5 212.9L310.9 213.1L312.9 213.7L314.8 214.3L315.5 214.5L316.8 214.9L318.7 215.4L320.6 216L321.1 216.1L322.6 216.5L324.5 216.9L326.5 217.3L328.1 217.7L328.4 217.8L330.3 218.2L332.3 218.6L334.2 219Z" fill="#0986f3"/>
<path d="M337 208.1L338.1 208.4L340.1 208.8L342 209.3L342 208.1L342 206.6L342 205L342 203.4L342 201.8L342 200.2L342 198.6L342 197L342 195.4L342 193.8L342 192.2L342 190.7L342 189.1L342 187.5L342 185.9L342 184.3L342 182.7L342 181.1L342 179.5L342 177.9L342 176.3L342 174.8L342 173.2L342 171.6L342 170L342 168.4L340.1 168.4L338.1 168.4L336.2 168.4L334.2 168.4L332.3 168.4L330.3 168.4L328.4 168.4L326.5 168.4L324.5 168.4L322.6 168.4L320.6 168.4L318.7 168.4L316.8 168.4L314.8 168.4L312.9 168.4L310.9 168.4L309 168.4L307 168.4L305.1 168.4L303.2 168.4L301.2 168.4L299.3 168.4L297.3 168.4L295.4 168.4L293.4 168.4L291.5 168.4L289.6 168.4L287.6 168.4L285.7 168.4L283.7 168.4L281.8 168.4L279.9 168.4L277.9 168.4L276 168.4L274 168.4L272.1 168.4L270.1 168.4L268.2 168.4L266.3 168.4L264.3 168.4L262.4 168.4L260.4 168.4L258.5 168.4L256.6 168.4L256 168.4L256.6 168.9L257.8 170L258.5 170.6L259.6 171.6L260.4 172.2L261.5 173.2L262.4 173.9L263.5 174.8L264.3 175.5L265.4 176.3L266.3 177.1L267.3 177.9L268.2 178.6L269.3 179.5L270.1 180.2L271.4 181.1L272.1 181.6L273.6 182.7L274 183L275.8 184.3L276 184.4L277.9 185.8L278.1 185.9L279.9 187.1L280.5 187.5L281.8 188.3L283.1 189.1L283.7 189.4L285.7 190.4L286.1 190.7L287.6 191.3L289.6 192.2L289.8 192.2L291.5 192.9L293.4 193.7L293.8 193.8L295.4 194.5L297.3 195.2L297.9 195.4L299.3 196L301.2 196.7L301.9 197L303.2 197.5L305.1 198.3L306 198.6L307 199L309 199.8L310.1 200.2L310.9 200.5L312.9 201.3L314.3 201.8L314.8 202L316.8 202.7L318.7 203.3L318.9 203.4L320.6 203.9L322.6 204.5L324 205L324.5 205.1L326.5 205.7L328.4 206.2L330 206.6L330.3 206.6L332.3 207.1L334.2 207.5L336.2 208Z" fill="#00a5df"/>
<path d="M335.8 198.6L336.2 198.7L338.1 199.2L340.1 199.7L342 200.1L342 198.6L342 197L342 195.4L342 193.8L342 192.2L342 190.7L342 189.1L342 187.5L342 185.9L342 184.3L342 182.7L342 181.1L342 179.5L342 177.9L342 176.3L342 174.8L342 173.2L342 171.6L342 170L342 168.4L340.1 168.4L338.1 168.4L336.2 168.4L334.2 168.4L332.3 168.4L330.3 168.4L328.4 168.4L326.5 168.4L324.5 168.4L322.6 168.4L320.6 168.4L318.7 168.4L316.8 168.4L314.8 168.4L312.9 168.4L310.9 168.4L309 168.4L307 168.4L305.1 168.4L303.2 168.4L301.2 168.4L299.3 168.4L297.3 168.4L295.4 168.4L293.4 168.4L291.5 168.4L289.6 168.4L287.6 168.4L285.7 168.4L283.7 168.4L281.8 168.4L279.9 168.4L277.9 168.4L276 168.4L274 168.4L272.4 168.4L274 169.7L274.4 170L276 171.2L276.5 171.6L277.9 172.7L278.6 173.2L279.9 174.1L280.8 174.8L281.8 175.4L283.1 176.3L283.7 176.8L285.5 177.9L285.7 178L287.6 179.2L288.2 179.5L289.6 180.2L291.4 181.1L291.5 181.2L293.4 182.1L294.6 182.7L295.4 183.1L297.3 184L298 184.3L299.3 184.9L301.2 185.8L301.4 185.9L303.2 186.7L305 187.5L305.1 187.5L307 188.4L308.6 189.1L309 189.2L310.9 190L312.4 190.7L312.9 190.8L314.8 191.6L316.4 192.2L316.8 192.4L318.7 193.1L320.6 193.8L320.6 193.8L322.6 194.5L324.5 195.2L325.2 195.4L326.5 195.8L328.4 196.5L330.2 197L330.3 197.1L332.3 197.6L334.2 198.2Z" fill="#00beb8"/>
<path d="M338 190.7L338.1 190.7L340.1 191.2L342 191.8L342 190.7L342 189.1L342 187.5L342 185.9L342 184.3L342 182.7L342 181.1L342 179.5L342 177.9L342 176.3L342 174.8L342 173.2L342 171.6L342 170L342 168.4L340.1 168.4L338.1 168.4L336.2 168.4L334.2 168.4L332.3 168.4L330.3 168.4L328.4 168.4L326.5 168.4L324.5 168.4L322.6 168.4L320.6 168.4L318.7 168.4L316.8 168.4L314.8 168.4L312.9 168.4L310.9 168.4L309 168.4L307 168.4L305.1 168.4L303.2 168.4L301.2 168.4L299.3 168.4L297.3 168.4L295.4 168.4L293.4 168.4L291.5 168.4L289.6 168.4L288.6 168.4L289.6 169L291.3 170L291.5 170.1L293.4 171.2L294.1 171.6L295.4 172.3L296.9 173.2L297.3 173.4L299.3 174.5L299.8 174.8L301.2 175.5L302.8 176.3L303.2 176.5L305.1 177.5L305.9 177.9L307 178.5L309 179.5L309.1 179.5L310.9 180.4L312.4 181.1L312.9 181.3L314.8 182.2L315.9 182.7L316.8 183.1L318.7 183.9L319.7 184.3L320.6 184.7L322.6 185.5L323.7 185.9L324.5 186.2L326.5 186.9L328.1 187.5L328.4 187.6L330.3 188.3L332.3 188.9L332.8 189.1L334.2 189.5L336.2 190.1Z" fill="#1ecd7f"/>
<path d="M338.1 182.7L338.1 182.7L340.1 183.4L342 184L342 182.7L342 181.1L342 179.5L342 177.9L342 176.3L342 174.8L342 173.2L342 171.6L342 170L342 168.4L340.1 168.4L338.1 168.4L336.2 168.4L334.2 168.4L332.3 168.4L330.3 168.4L328.4 168.4L326.5 168.4L324.5 168.4L322.6 168.4L320.6 168.4L318.7 168.4L316.8 168.4L314.8 168.4L312.9 168.4L310.9 168.4L309 168.4L307 168.4L305.6 168.4L307 169.2L308.5 170L309 170.2L310.9 171.3L311.5 171.6L312.9 172.3L314.7 173.2L314.8 173.2L316.8 174.2L318 174.8L318.7 175.1L320.6 176L321.5 176.3L322.6 176.8L324.5 177.6L325.3 177.9L326.5 178.4L328.4 179.2L329.3 179.5L330.3 179.9L332.3 180.7L333.6 181.1L334.2 181.4L336.2 182.1Z" fill="#9ecd17"/>
<path d="M341.2 176.3L342 176.6L342 176.3L342 174.8L342 173.2L342 171.6L342 170L342 168.4L340.1 168.4L338.1 168.4L336.2 168.4L334.2 168.4L332.3 168.4L330.3 168.4L328.4 168.4L326.5 168.4L324.5 168.4L322.6 168.4L322.2 168.4L322.6 168.6L324.5 169.5L325.7 170L326.5 170.3L328.4 171.2L329.3 171.6L330.3 172L332.3 172.8L333.1 173.2L334.2 173.6L336.2 174.4L337.1 174.8L338.1 175.2L340.1 175.9Z" fill="#f1ba00"/>
<path d="M339 168.4L340.1 168.8L342 169.6L342 168.4L340.1 168.4Z" fill="#ffd600"/>
<path d="M208 179.6L208.6 181.1L209.3 182.7L209.9 184.1L210 184.3L210.8 185.9L211.6 187.5L211.9 188L212.4 189.1L213.3 190.7L213.8 191.5L214.3 192.2L215.3 193.8L215.8 194.5L216.4 195.4L217.5 197L217.7 197.3L218.7 198.6L219.7 199.8L220 200.2L221.3 201.8L221.6 202.1L222.7 203.4L223.5 204.3L224.2 205L225.5 206.3L225.8 206.6L226.7 207.5M230.6 211L230.9 211.3L231.3 211.7L232.8 212.9L233.2 213.3L234.7 214.5L235.2 214.9L236.7 216.1L237.1 216.4L238.8 217.7L239.1 217.9L241 219.3L241 219.3L243 220.7L243.2 220.9L244.9 222L245.5 222.5L246.8 223.3L248 224L248.8 224.5L250.7 225.6L250.7 225.6L252.7 226.7L253.7 227.2L254.6 227.7L256.6 228.7L256.8 228.8L258.5 229.7L260 230.4L260.4 230.6L262.4 231.6L263.2 232L264.3 232.5L266.3 233.4L266.8 233.6L268.2 234.2L270.1 234.9L270.8 235.2L272.1 235.6L274 236.3L275.2 236.8M280.1 238.5L281.8 239L283.7 239.6L284.9 239.9L285.7 240.2L287.6 240.7L289.6 241.2L291 241.5L291.5 241.6L293.4 242.2L295.4 242.7L297.2 243.1L297.3 243.1L299.3 243.6L301.2 244.1L303.2 244.5L303.9 244.7L305.1 245L307 245.4L309 245.7L310.9 246.1L312 246.3L312.9 246.5L314.8 246.8L316.8 247.1L318.7 247.5L320.6 247.8L321.4 247.9L322.6 248.1L324.5 248.4L326.5 248.7L328.4 249L329.5 249.2M334.7 250L336.2 250.2L338.1 250.5L340.1 250.7L342 251M221.6 168.4L222.6 170L223.5 171.5L223.6 171.6L224.6 173.2L225.5 174.4L225.7 174.8L226.9 176.3L227.4 177.1L228.1 177.9L228.7 178.8M230.1 180.5L230.6 181.1L231.3 181.9L232 182.7L233.2 184.1L233.4 184.3L234.9 185.9L235.2 186.2L236.4 187.5L237.1 188.2L238 189.1L239.1 190.1L239.7 190.7L241 191.9L241.4 192.2L243 193.6L243.2 193.8L244.9 195.3L245 195.4L246.8 196.9L247 197L248.8 198.5L249 198.6L250.7 200L251 200.2L252.7 201.4L253.2 201.8L254.6 202.8L255.4 203.4L256.6 204.2L257.7 205L258.5 205.5L260.1 206.6L260.4 206.8L262.4 208L262.6 208.1L264.3 209.1L265.4 209.7L266.3 210.2L268.2 211.3L268.3 211.3L270.1 212.3L271.4 212.9L272.1 213.3L274 214.2L274.7 214.5L276 215.1L277.5 215.8M279.5 216.7L279.9 216.8L281.8 217.6L281.9 217.7L283.7 218.4L285.7 219.2L285.9 219.3L287.6 219.9L289.6 220.7L290.1 220.9L291.5 221.4L293.4 222L294.6 222.5L295.4 222.7L297.3 223.4L299.3 224L299.4 224L301.2 224.6L303.2 225.2L304.4 225.6L305.1 225.8L307 226.4L309 227L310 227.2L310.9 227.5L312.9 228L314.8 228.5L316.2 228.8L316.8 229L318.7 229.4L320.6 229.8L322.6 230.3L323.3 230.4L324.5 230.7L326.5 231.1L328.4 231.4L330.3 231.8L331.4 232L331.8 232.1M334 232.5L334.2 232.5L336.2 232.9L338.1 233.2L340.1 233.5L340.5 233.6L342 233.8M239.2 168.4L240.6 170L241 170.4L242.1 171.6L243 172.4L243.7 173.2L244.9 174.4L245.3 174.8L246.8 176.2L247 176.3L248.7 177.9L248.8 178L250.4 179.5L250.7 179.8L252.2 181.1L252.7 181.5L254 182.7L254.6 183.2L255.9 184.3L256.6 184.8L257.8 185.9L258.5 186.5L259.8 187.5L260.4 188L261.8 189.1L262.4 189.5L263.9 190.7L264.3 191L266 192.2L266.3 192.4L268.2 193.8L268.3 193.8L270.1 195.1L270.6 195.4L272.1 196.4L273.1 197L274 197.6L275.7 198.6L276 198.8L277 199.3M281.6 201.7L281.8 201.8L281.8 201.8L283.7 202.7L285.4 203.4L285.7 203.5L287.6 204.2L289.6 205L289.6 205L291.5 205.7L293.4 206.4L293.9 206.6L295.4 207.1L297.3 207.9L298 208.1L299.3 208.7L301.2 209.5L301.9 209.7L303.2 210.3L305.1 211L305.9 211.3L307 211.7L309 212.4L310.5 212.9L310.9 213.1L312.9 213.7L314.8 214.3L315.5 214.5L316.8 214.9L318.7 215.4L320.6 216L321.1 216.1L322.6 216.5L324.5 216.9L326.5 217.3L328.1 217.7L328.4 217.8L330.3 218.2L331.1 218.3M336.2 219.4L338.1 219.7L340.1 220.1L342 220.5M256 168.4L256.6 168.9L257.8 170L258.5 170.6L259.6 171.6L260.4 172.2L261.5 173.2L262.4 173.9L263.5 174.8L264.3 175.5L265.4 176.3L266.3 177.1L267.3 177.9L268.2 178.6L269.3 179.5L270.1 180.2L271.4 181.1L272.1 181.6L273.6 182.7L274 183L275.8 184.3L276 184.4L277.9 185.8L278.1 185.9L279.2 186.6M281 187.8L281.8 188.3L283.1 189.1L283.7 189.4L285.7 190.4L286.1 190.7L287.6 191.3L289.6 192.2L289.8 192.2L291.5 192.9L293.4 193.7L293.8 193.8L295.4 194.5L297.3 195.2L297.9 195.4L299.3 196L301.2 196.7L301.9 197L303.2 197.5L305.1 198.3L306 198.6L307 199L309 199.8L310.1 200.2L310.9 200.5L312.9 201.3L314.3 201.8L314.8 202L316.8 202.7L318.7 203.3L318.9 203.4L320.6 203.9L322.6 204.5L324 205L324.5 205.1L326.5 205.7L328.4 206.2L330 206.6L330.3 206.6L332.3 207.1L333.4 207.4M335.6 207.8L336.2 208L337 208.1L338.1 208.4L340.1 208.8L342 209.3M272.4 168.4L274 169.7L274.4 170L276 171.2L276.5 171.6L277.9 172.7L278.6 173.2L278.8 173.3M283 176.3L283.1 176.3L283.7 176.8L285.5 177.9L285.7 178L287.6 179.2L288.2 179.5L289.6 180.2L291.4 181.1L291.5 181.2L293.4 182.1L294.6 182.7L295.4 183.1L297.3 184L298 184.3L299.3 184.9L301.2 185.8L301.4 185.9L303.2 186.7L305 187.5L305.1 187.5L307 188.4L308.6 189.1L309 189.2L310.9 190L312.4 190.7L312.9 190.8L314.8 191.6L316.4 192.2L316.8 192.4L318.7 193.1L320.6 193.8L320.6 193.8L322.6 194.5L324.5 195.2L325.2 195.4L326.5 195.8L328.4 196.5L330.2 197L330.3 197.1L332.3 197.6L332.8 197.8M337.8 199.1L338.1 199.2L340.1 199.7L342 200.1M288.6 168.4L289.6 169L291.3 170L291.5 170.1L293.4 171.2L294.1 171.6L295.4 172.3L296.9 173.2L297.3 173.4L299.3 174.5L299.8 174.8L301.2 175.5L302.8 176.3L303.2 176.5L305.1 177.5L305.9 177.9L307 178.5L309 179.5L309.1 179.5L310.9 180.4L312.4 181.1L312.9 181.3L314.8 182.2L315.9 182.7L316.8 183.1L318.7 183.9L319.7 184.3L320.6 184.7L322.6 185.5L323.7 185.9L324.5 186.2L326.5 186.9L328.1 187.5L328.4 187.6L330.2 188.2M332.3 188.9L332.8 189.1L334.2 189.5L336.2 190.1L338 190.7L338.1 190.7L340.1 191.2L342 191.8M305.6 168.4L307 169.2L308.5 170L309 170.2L310.9 171.3L311.5 171.6L312.9 172.3L314.7 173.2L314.8 173.2L316.8 174.2L318 174.8L318.7 175.1L320.6 176L321.5 176.3L322.6 176.8L324.5 177.6L325.3 177.9L326.5 178.4L328.4 179.2L329.3 179.5L329.7 179.7M334.5 181.5L336.2 182.1L338.1 182.7L338.1 182.7L340.1 183.4L342 184M322.2 168.4L322.6 168.6L324.5 169.5L325.7 170L326.5 170.3L328.4 171.2L329.3 171.6L330.3 172L331.9 172.6M333.9 173.5L334.2 173.6L336.2 174.4L337.1 174.8L338.1 175.2L340.1 175.9L341.2 176.3L342 176.6M339 168.4L340.1 168.8L342 169.6" fill="none" stroke="#000" stroke-width="1" stroke-linejoin="round"/>
<g font-family="'Liberation Sans', Arial, sans-serif" font-size="3.4" font-weight="bold" fill="#0a0a28" stroke="#0a0a28" stroke-width="0.25" text-anchor="middle">
<text transform="translate(228.6 209.3) rotate(42.6)" y="1.1">0.5</text>
<text transform="translate(277.7 237.6) rotate(19.2)" y="1.1">0.5</text>
<text transform="translate(332.1 249.6) rotate(8.5)" y="1.1">0.5</text>
<text transform="translate(229.4 179.7) rotate(51)" y="1.1">1</text>
<text transform="translate(278.5 216.2) rotate(23.6)" y="1.1">1</text>
<text transform="translate(332.9 232.3) rotate(10.4)" y="1.1">1</text>
<text transform="translate(279.3 200.5) rotate(26.9)" y="1.1">1.5</text>
<text transform="translate(333.7 218.8) rotate(11.4)" y="1.1">1.5</text>
<text transform="translate(280.1 187.2) rotate(32.6)" y="1.1">2</text>
<text transform="translate(334.5 207.6) rotate(12.6)" y="1.1">2</text>
<text transform="translate(280.9 174.8) rotate(35.2)" y="1.1">2.5</text>
<text transform="translate(335.3 198.5) rotate(14.9)" y="1.1">2.5</text>
<text transform="translate(331.3 188.6) rotate(18.4)" y="1.1">3</text>
<text transform="translate(332.1 180.6) rotate(20.4)" y="1.1">3.5</text>
<text transform="translate(332.9 173.1) rotate(22.5)" y="1.1">4</text>
</g>
<rect x="208" y="168.4" width="134" height="109.7" fill="none" stroke="#1c1c1c" stroke-width="0.9"/>
<path d="M208 278.1v-1.4M208 168.4v1.4M208 278.1h1.4M342 278.1h-1.4M234.8 278.1v-1.4M234.8 168.4v1.4M208 256.2h1.4M342 256.2h-1.4M261.6 278.1v-1.4M261.6 168.4v1.4M208 234.2h1.4M342 234.2h-1.4M288.4 278.1v-1.4M288.4 168.4v1.4M208 212.3h1.4M342 212.3h-1.4M315.2 278.1v-1.4M315.2 168.4v1.4M208 190.3h1.4M342 190.3h-1.4M342 278.1v-1.4M342 168.4v1.4M208 168.4h1.4M342 168.4h-1.4" stroke="#262626" stroke-width="0.6" fill="none"/>
<g font-family="'Liberation Sans', Arial, sans-serif" font-weight="bold" font-size="9.7" fill="#1f1f1f" stroke="#1f1f1f" stroke-width="0.15">
<text x="208" y="290.7" text-anchor="middle">1</text>
<text x="204.6" y="281.8" text-anchor="end">1</text>
<text x="234.8" y="290.7" text-anchor="middle">2</text>
<text x="204.6" y="259.9" text-anchor="end">2</text>
<text x="261.6" y="290.7" text-anchor="middle">3</text>
<text x="204.6" y="237.9" text-anchor="end">3</text>
<text x="288.4" y="290.7" text-anchor="middle">4</text>
<text x="204.6" y="216" text-anchor="end">4</text>
<text x="315.2" y="290.7" text-anchor="middle">5</text>
<text x="204.6" y="194" text-anchor="end">5</text>
<text x="342" y="290.7" text-anchor="middle">6</text>
<text x="204.6" y="172.1" text-anchor="end">6</text>
<text x="275" y="303.2" text-anchor="middle">Ka</text>
<text transform="translate(195.1 223.2) rotate(-90)" text-anchor="middle">Kr</text>
<rect x="348.4" y="168.4" width="5.8" height="109.7" fill="url(#pg)" stroke="#1c1c1c" stroke-width="0.85" />
<text x="357.6" y="281.8">0</text>
<text x="357.6" y="259.9">1</text>
<text x="357.6" y="237.9">2</text>
<text x="357.6" y="216">3</text>
<text x="357.6" y="194">4</text>
<text x="357.6" y="172.1">5</text>
</g>
<path d="M354.2 256.2h-1.2M354.2 234.2h-1.2M354.2 212.3h-1.2M354.2 190.3h-1.2" stroke="#262626" stroke-width="0.6" fill="none"/>
<text x="275.7" y="318.7" text-anchor="middle" font-family="'Liberation Serif', 'Times New Roman', serif" font-size="11.8" letter-spacing="0.25" fill="#000">(<tspan font-weight="bold" stroke="#000" stroke-width="0.2">II.b</tspan>)</text>
</g>
<g>
<rect x="389.4" y="168.2" width="134.4" height="110.1" fill="#3d21a8"/>
<path d="M511.3 241.6L512.1 241.7L514.1 241.9L516 242.2L518 242.4L519.9 242.6L521.9 242.8L523.8 243L523.8 241.6L523.8 240L523.8 238.4L523.8 236.8L523.8 235.2L523.8 233.6L523.8 232L523.8 230.4L523.8 228.8L523.8 227.2L523.8 225.6L523.8 224L523.8 222.5L523.8 220.9L523.8 219.3L523.8 217.7L523.8 216.1L523.8 214.5L523.8 212.9L523.8 211.3L523.8 209.7L523.8 208.1L523.8 206.5L523.8 204.9L523.8 203.3L523.8 201.7L523.8 200.1L523.8 198.5L523.8 196.9L523.8 195.3L523.8 193.7L523.8 192.1L523.8 190.5L523.8 188.9L523.8 187.3L523.8 185.8L523.8 184.2L523.8 182.6L523.8 181L523.8 179.4L523.8 177.8L523.8 176.2L523.8 174.6L523.8 173L523.8 171.4L523.8 169.8L523.8 168.2L521.9 168.2L519.9 168.2L518 168.2L516 168.2L514.1 168.2L512.1 168.2L510.2 168.2L508.2 168.2L506.3 168.2L504.3 168.2L502.4 168.2L500.4 168.2L498.5 168.2L496.5 168.2L494.6 168.2L492.6 168.2L490.7 168.2L488.7 168.2L486.8 168.2L484.8 168.2L482.9 168.2L480.9 168.2L479 168.2L477.1 168.2L475.1 168.2L473.2 168.2L471.2 168.2L469.3 168.2L467.3 168.2L465.4 168.2L463.4 168.2L461.5 168.2L459.5 168.2L457.6 168.2L455.6 168.2L453.7 168.2L451.7 168.2L449.8 168.2L447.8 168.2L445.9 168.2L443.9 168.2L442 168.2L440 168.2L438.1 168.2L436.1 168.2L434.2 168.2L432.3 168.2L430.3 168.2L428.4 168.2L426.4 168.2L424.5 168.2L422.5 168.2L420.6 168.2L418.6 168.2L416.7 168.2L414.7 168.2L412.8 168.2L410.8 168.2L408.9 168.2L406.9 168.2L405 168.2L403 168.2L401.1 168.2L399.1 168.2L397.2 168.2L395.2 168.2L393.3 168.2L392.6 168.2L393.3 169.8L393.3 169.8L394 171.4L394.8 173L395.2 173.8L395.7 174.6L396.5 176.2L397.2 177.4L397.4 177.8L398.3 179.4L399.1 180.7L399.3 181L400.3 182.6L401.1 183.7L401.4 184.2L402.5 185.8L403 186.6L403.6 187.3L404.8 188.9L405 189.2L406 190.5L406.9 191.7L407.3 192.1L408.7 193.7L408.9 194L410.1 195.3L410.8 196.2L411.5 196.9L412.8 198.2L413 198.5L414.6 200.1L414.7 200.2L416.3 201.7L416.7 202.1L418 203.3L418.6 203.9L419.8 204.9L420.6 205.6L421.7 206.5L422.5 207.2L423.7 208.1L424.5 208.7L425.7 209.7L426.4 210.2L427.9 211.3L428.4 211.6L430.2 212.9L430.3 212.9L432.3 214.3L432.6 214.5L434.2 215.5L435.1 216.1L436.1 216.7L437.6 217.7L438.1 217.9L440 219.1L440.3 219.3L442 220.3L443 220.9L443.9 221.4L445.9 222.5L445.9 222.5L447.8 223.5L448.9 224L449.8 224.5L451.7 225.4L452.2 225.6L453.7 226.4L455.6 227.2L455.6 227.2L457.6 228.1L459.3 228.8L459.5 228.9L461.5 229.7L463.3 230.4L463.4 230.5L465.4 231.2L467.3 231.8L467.9 232L469.3 232.5L471.2 233.1L473 233.6L473.2 233.7L475.1 234.3L477.1 234.9L478.3 235.2L479 235.4L480.9 236L482.9 236.5L484.2 236.8L484.8 237L486.8 237.5L488.7 237.9L490.7 238.3L491.2 238.4L492.6 238.7L494.6 239.1L496.5 239.4L498.5 239.8L500 240L500.4 240.1L502.4 240.4L504.3 240.7L506.3 241L508.2 241.2L510.2 241.5Z" fill="#443be7"/>
<path d="M517.3 222.5L518 222.6L519.9 222.9L521.9 223.2L523.8 223.5L523.8 222.5L523.8 220.9L523.8 219.3L523.8 217.7L523.8 216.1L523.8 214.5L523.8 212.9L523.8 211.3L523.8 209.7L523.8 208.1L523.8 206.5L523.8 204.9L523.8 203.3L523.8 201.7L523.8 200.1L523.8 198.5L523.8 196.9L523.8 195.3L523.8 193.7L523.8 192.1L523.8 190.5L523.8 188.9L523.8 187.3L523.8 185.8L523.8 184.2L523.8 182.6L523.8 181L523.8 179.4L523.8 177.8L523.8 176.2L523.8 174.6L523.8 173L523.8 171.4L523.8 169.8L523.8 168.2L521.9 168.2L519.9 168.2L518 168.2L516 168.2L514.1 168.2L512.1 168.2L510.2 168.2L508.2 168.2L506.3 168.2L504.3 168.2L502.4 168.2L500.4 168.2L498.5 168.2L496.5 168.2L494.6 168.2L492.6 168.2L490.7 168.2L488.7 168.2L486.8 168.2L484.8 168.2L482.9 168.2L480.9 168.2L479 168.2L477.1 168.2L475.1 168.2L473.2 168.2L471.2 168.2L469.3 168.2L467.3 168.2L465.4 168.2L463.4 168.2L461.5 168.2L459.5 168.2L457.6 168.2L455.6 168.2L453.7 168.2L451.7 168.2L449.8 168.2L447.8 168.2L445.9 168.2L443.9 168.2L442 168.2L440 168.2L438.1 168.2L436.1 168.2L434.2 168.2L432.3 168.2L430.3 168.2L428.4 168.2L426.4 168.2L424.5 168.2L422.5 168.2L420.6 168.2L418.6 168.2L417.5 168.2L418.6 169.6L418.8 169.8L420.2 171.4L420.6 171.8L421.6 173L422.5 174L423 174.6L424.5 176.1L424.6 176.2L426.1 177.8L426.4 178.1L427.7 179.4L428.4 180L429.4 181L430.3 181.8L431.1 182.6L432.3 183.6L432.9 184.2L434.2 185.3L434.7 185.8L436.1 187L436.5 187.3L438.1 188.6L438.5 188.9L440 190.2L440.5 190.5L442 191.7L442.5 192.1L443.9 193.2L444.7 193.7L445.9 194.6L446.9 195.3L447.8 196L449.2 196.9L449.8 197.3L451.7 198.5L451.7 198.6L453.7 199.8L454.2 200.1L455.6 201L456.9 201.7L457.6 202.1L459.5 203.2L459.7 203.3L461.5 204.3L462.7 204.9L463.4 205.3L465.4 206.3L465.9 206.5L467.3 207.2L469.3 208L469.4 208.1L471.2 208.9L473.2 209.7L473.2 209.7L475.1 210.5L476.9 211.3L477.1 211.3L479 212.1L480.9 212.9L480.9 212.9L482.9 213.7L484.8 214.4L485.1 214.5L486.8 215.1L488.7 215.7L489.8 216.1L490.7 216.4L492.6 217L494.6 217.6L495 217.7L496.5 218.1L498.5 218.6L500.4 219.1L500.9 219.3L502.4 219.6L504.3 220.1L506.3 220.5L508.2 220.9L508.2 220.9L510.2 221.2L512.1 221.6L514.1 221.9L516 222.2Z" fill="#3062fd"/>
<path d="M519.7 208.1L519.9 208.1L521.9 208.5L523.8 208.9L523.8 208.1L523.8 206.5L523.8 204.9L523.8 203.3L523.8 201.7L523.8 200.1L523.8 198.5L523.8 196.9L523.8 195.3L523.8 193.7L523.8 192.1L523.8 190.5L523.8 188.9L523.8 187.3L523.8 185.8L523.8 184.2L523.8 182.6L523.8 181L523.8 179.4L523.8 177.8L523.8 176.2L523.8 174.6L523.8 173L523.8 171.4L523.8 169.8L523.8 168.2L521.9 168.2L519.9 168.2L518 168.2L516 168.2L514.1 168.2L512.1 168.2L510.2 168.2L508.2 168.2L506.3 168.2L504.3 168.2L502.4 168.2L500.4 168.2L498.5 168.2L496.5 168.2L494.6 168.2L492.6 168.2L490.7 168.2L488.7 168.2L486.8 168.2L484.8 168.2L482.9 168.2L480.9 168.2L479 168.2L477.1 168.2L475.1 168.2L473.2 168.2L471.2 168.2L469.3 168.2L467.3 168.2L465.4 168.2L463.4 168.2L461.5 168.2L459.5 168.2L457.6 168.2L455.6 168.2L453.7 168.2L451.7 168.2L449.8 168.2L447.8 168.2L445.9 168.2L443.9 168.2L442 168.2L440.9 168.2L442 169.2L442.6 169.8L443.9 171L444.4 171.4L445.9 172.7L446.2 173L447.8 174.3L448.2 174.6L449.8 175.9L450.2 176.2L451.7 177.4L452.3 177.8L453.7 178.8L454.4 179.4L455.6 180.3L456.6 181L457.6 181.7L458.7 182.6L459.5 183.1L461 184.2L461.5 184.5L463.3 185.8L463.4 185.8L465.4 187L465.9 187.3L467.3 188.1L468.9 188.9L469.3 189.1L471.2 190L472.5 190.5L473.2 190.8L475.1 191.7L476.1 192.1L477.1 192.6L479 193.5L479.5 193.7L480.9 194.4L482.9 195.3L482.9 195.3L484.8 196.2L486.4 196.9L486.8 197.1L488.7 198L490 198.5L490.7 198.8L492.6 199.6L493.8 200.1L494.6 200.4L496.5 201.2L497.8 201.7L498.5 202L500.4 202.7L502.2 203.3L502.4 203.3L504.3 204L506.3 204.6L507.2 204.9L508.2 205.2L510.2 205.8L512.1 206.3L512.8 206.5L514.1 206.8L516 207.3L518 207.7Z" fill="#0986f3"/>
<path d="M518.9 195.3L519.9 195.6L521.9 196.1L523.8 196.6L523.8 195.3L523.8 193.7L523.8 192.1L523.8 190.5L523.8 188.9L523.8 187.3L523.8 185.8L523.8 184.2L523.8 182.6L523.8 181L523.8 179.4L523.8 177.8L523.8 176.2L523.8 174.6L523.8 173L523.8 171.4L523.8 169.8L523.8 168.2L521.9 168.2L519.9 168.2L518 168.2L516 168.2L514.1 168.2L512.1 168.2L510.2 168.2L508.2 168.2L506.3 168.2L504.3 168.2L502.4 168.2L500.4 168.2L498.5 168.2L496.5 168.2L494.6 168.2L492.6 168.2L490.7 168.2L488.7 168.2L486.8 168.2L484.8 168.2L482.9 168.2L480.9 168.2L479 168.2L477.1 168.2L475.1 168.2L473.2 168.2L471.2 168.2L469.3 168.2L467.3 168.2L465.4 168.2L463.4 168.2L462.9 168.2L463.4 168.6L465.1 169.8L465.4 169.9L467.3 171.2L467.6 171.4L469.3 172.5L470.1 173L471.2 173.6L472.8 174.6L473.2 174.8L475.1 175.9L475.6 176.2L477.1 177L478.4 177.8L479 178.1L480.9 179.2L481.3 179.4L482.9 180.2L484.3 181L484.8 181.3L486.8 182.3L487.3 182.6L488.7 183.3L490.5 184.2L490.7 184.2L492.6 185.2L493.8 185.8L494.6 186.1L496.5 187L497.3 187.3L498.5 187.9L500.4 188.8L500.9 188.9L502.4 189.6L504.3 190.4L504.8 190.5L506.3 191.1L508.2 191.9L509 192.1L510.2 192.6L512.1 193.2L513.6 193.7L514.1 193.9L516 194.5L518 195.1Z" fill="#00a5df"/>
<path d="M520 184.2L521.9 184.8L523.8 185.4L523.8 184.2L523.8 182.6L523.8 181L523.8 179.4L523.8 177.8L523.8 176.2L523.8 174.6L523.8 173L523.8 171.4L523.8 169.8L523.8 168.2L521.9 168.2L519.9 168.2L518 168.2L516 168.2L514.1 168.2L512.1 168.2L510.2 168.2L508.2 168.2L506.3 168.2L504.3 168.2L502.4 168.2L500.4 168.2L498.5 168.2L496.5 168.2L494.6 168.2L492.6 168.2L490.7 168.2L488.7 168.2L486.8 168.2L485 168.2L486.8 169.3L487.7 169.8L488.7 170.4L490.6 171.4L490.7 171.4L492.6 172.5L493.6 173L494.6 173.5L496.5 174.5L496.7 174.6L498.5 175.4L500 176.2L500.4 176.4L502.4 177.3L503.5 177.8L504.3 178.1L506.3 179L507.2 179.4L508.2 179.8L510.2 180.6L511.2 181L512.1 181.3L514.1 182.1L515.4 182.6L516 182.8L518 183.5L519.9 184.1Z" fill="#00beb8"/>
<path d="M521.9 174.6L523.8 175.3L523.8 174.6L523.8 173L523.8 171.4L523.8 169.8L523.8 168.2L521.9 168.2L519.9 168.2L518 168.2L516 168.2L514.1 168.2L512.1 168.2L510.2 168.2L508.2 168.2L506.7 168.2L508.2 168.9L510.1 169.8L510.2 169.8L512.1 170.7L513.8 171.4L514.1 171.5L516 172.3L517.7 173L518 173.1L519.9 173.8L521.9 174.6Z" fill="#1ecd7f"/>
<path d="M392.6 168.2L393.3 169.8L393.3 169.8L394 171.4L394.8 173L395.2 173.8L395.7 174.6L396.5 176.2L397.2 177.4L397.4 177.8L398.3 179.4L399.1 180.7L399.3 181L400.3 182.6L401.1 183.7L401.4 184.2L402.5 185.8L403 186.6L403.6 187.3L404.8 188.9L405 189.2L406 190.5L406.9 191.7L407.3 192.1L408.4 193.4M411.8 197.3L412.8 198.2L413 198.5L414.6 200.1L414.7 200.2L416.3 201.7L416.7 202.1L418 203.3L418.6 203.9L419.8 204.9L420.6 205.6L421.7 206.5L422.5 207.2L423.7 208.1L424.5 208.7L425.7 209.7L426.4 210.2L427.9 211.3L428.4 211.6L430.2 212.9L430.3 212.9L432.3 214.3L432.6 214.5L434.2 215.5L435.1 216.1L436.1 216.7L437.6 217.7L438.1 217.9L440 219.1L440.3 219.3L442 220.3L443 220.9L443.9 221.4L445.9 222.5L445.9 222.5L447.8 223.5L448.9 224L449.8 224.5L451.7 225.4L452.2 225.6L453.7 226.4L455.6 227.2L455.6 227.2L456.9 227.8M461.7 229.8L463.3 230.4L463.4 230.5L465.4 231.2L467.3 231.8L467.9 232L469.3 232.5L471.2 233.1L473 233.6L473.2 233.7L475.1 234.3L477.1 234.9L478.3 235.2L479 235.4L480.9 236L482.9 236.5L484.2 236.8L484.8 237L486.8 237.5L488.7 237.9L490.7 238.3L491.2 238.4L492.6 238.7L494.6 239.1L496.5 239.4L498.5 239.8L500 240L500.4 240.1L502.4 240.4L504.3 240.7L506.3 241L508.2 241.2L510.2 241.5L511.3 241.6M516.4 242.2L518 242.4L519.9 242.6L521.9 242.8L523.8 243M417.5 168.2L418.6 169.6L418.8 169.8L420.2 171.4L420.6 171.8L421.6 173L422.5 174L423 174.6L424.5 176.1L424.6 176.2L426.1 177.8L426.4 178.1L427.7 179.4L428.4 180L429.4 181L430.3 181.8L431.1 182.6L432.3 183.6L432.9 184.2L434.2 185.3L434.7 185.8L436.1 187L436.5 187.3L438.1 188.6L438.5 188.9L440 190.2L440.5 190.5L442 191.7L442.5 192.1L443.9 193.2L444.7 193.7L445.9 194.6L446.9 195.3L447.8 196L449.2 196.9L449.8 197.3L451.7 198.5L451.7 198.6L453.7 199.8L454.2 200.1L455.6 201L456.9 201.7L457.6 202.1L459.1 203M461.1 204L461.5 204.3L462.7 204.9L463.4 205.3L465.4 206.3L465.9 206.5L467.3 207.2L469.3 208L469.4 208.1L471.2 208.9L473.2 209.7L473.2 209.7L475.1 210.5L476.9 211.3L477.1 211.3L479 212.1L480.9 212.9L480.9 212.9L482.9 213.7L484.8 214.4L485.1 214.5L486.8 215.1L488.7 215.7L489.8 216.1L490.7 216.4L492.6 217L494.6 217.6L495 217.7L496.5 218.1L498.5 218.6L500.4 219.1L500.9 219.3L502.4 219.6L504.3 220.1L506.3 220.5L508.2 220.9L508.2 220.9L510.2 221.2L512.1 221.6L513.6 221.8M515.7 222.2L516 222.2L517.3 222.5L518 222.6L519.9 222.9L521.9 223.2L523.8 223.5M440.9 168.2L442 169.2L442.6 169.8L443.9 171L444.4 171.4L445.9 172.7L446.2 173L447.8 174.3L448.2 174.6L449.8 175.9L450.2 176.2L451.7 177.4L452.3 177.8L453.7 178.8L454.4 179.4L455.6 180.3L456.6 181L457.6 181.7L458.7 182.6L458.8 182.6M463 185.5L463.3 185.8L463.4 185.8L465.4 187L465.9 187.3L467.3 188.1L468.9 188.9L469.3 189.1L471.2 190L472.5 190.5L473.2 190.8L475.1 191.7L476.1 192.1L477.1 192.6L479 193.5L479.5 193.7L480.9 194.4L482.9 195.3L482.9 195.3L484.8 196.2L486.4 196.9L486.8 197.1L488.7 198L490 198.5L490.7 198.8L492.6 199.6L493.8 200.1L494.6 200.4L496.5 201.2L497.8 201.7L498.5 202L500.4 202.7L502.2 203.3L502.4 203.3L504.3 204L506.3 204.6L507.2 204.9L508.2 205.2L510.2 205.8L512.1 206.3L512.8 206.5L512.9 206.5M518 207.7L519.7 208.1L519.9 208.1L521.9 208.5L523.8 208.9M462.9 168.2L463.4 168.6L465.1 169.8L465.4 169.9L467.3 171.2L467.6 171.4L469.3 172.5L470.1 173L471.2 173.6L472.8 174.6L473.2 174.8L475.1 175.9L475.6 176.2L477.1 177L478.4 177.8L479 178.1L480.9 179.2L481.3 179.4L482.9 180.2L484.3 181L484.8 181.3L486.8 182.3L487.3 182.6L488.7 183.3L490.5 184.2L490.7 184.2L492.6 185.2L493.8 185.8L494.6 186.1L496.5 187L497.3 187.3L498.5 187.9L500.4 188.8L500.9 188.9L502.4 189.6L504.3 190.4L504.8 190.5L506.3 191.1L508.2 191.9L509 192.1L510.2 192.6L512.1 193.2L513.6 193.7L514.1 193.9L515.2 194.3M517.3 194.9L518 195.1L518.9 195.3L519.9 195.6L521.9 196.1L523.8 196.6M485 168.2L486.8 169.3L487.7 169.8L488.7 170.4L490.6 171.4L490.7 171.4L492.6 172.5L493.6 173L494.6 173.5L496.5 174.5L496.7 174.6L498.5 175.4L500 176.2L500.4 176.4L502.4 177.3L503.5 177.8L504.3 178.1L506.3 179L507.2 179.4L508.2 179.8L510.2 180.6L511.2 181L512.1 181.3L514.1 182.1L514.6 182.3M519.5 184L519.9 184.1L520 184.2L521.9 184.8L523.8 185.4M506.7 168.2L508.2 168.9L510.1 169.8L510.2 169.8L512 170.6M514.1 171.5L516 172.3L517.7 173L518 173.1L519.9 173.8L521.9 174.6L521.9 174.6L523.8 175.3" fill="none" stroke="#000" stroke-width="1" stroke-linejoin="round"/>
<g font-family="'Liberation Sans', Arial, sans-serif" font-size="3.4" font-weight="bold" fill="#0a0a28" stroke="#0a0a28" stroke-width="0.25" text-anchor="middle">
<text transform="translate(410.1 195.4) rotate(48.2)" y="1.1">0.5</text>
<text transform="translate(459.3 228.8) rotate(22.6)" y="1.1">0.5</text>
<text transform="translate(513.9 241.9) rotate(6.8)" y="1.1">0.5</text>
<text transform="translate(460.1 203.5) rotate(28.8)" y="1.1">1</text>
<text transform="translate(514.7 222) rotate(9.5)" y="1.1">1</text>
<text transform="translate(460.9 184.1) rotate(34.8)" y="1.1">1.5</text>
<text transform="translate(515.5 207.2) rotate(13.3)" y="1.1">1.5</text>
<text transform="translate(516.3 194.6) rotate(16.8)" y="1.1">2</text>
<text transform="translate(517.1 183.2) rotate(19.4)" y="1.1">2.5</text>
<text transform="translate(513.1 171.1) rotate(22.9)" y="1.1">3</text>
</g>
<rect x="389.4" y="168.2" width="134.4" height="110.1" fill="none" stroke="#1c1c1c" stroke-width="0.9"/>
<path d="M389.4 278.3v-1.4M389.4 168.2v1.4M389.4 278.3h1.4M523.8 278.3h-1.4M416.3 278.3v-1.4M416.3 168.2v1.4M389.4 256.3h1.4M523.8 256.3h-1.4M443.2 278.3v-1.4M443.2 168.2v1.4M389.4 234.3h1.4M523.8 234.3h-1.4M470 278.3v-1.4M470 168.2v1.4M389.4 212.2h1.4M523.8 212.2h-1.4M496.9 278.3v-1.4M496.9 168.2v1.4M389.4 190.2h1.4M523.8 190.2h-1.4M523.8 278.3v-1.4M523.8 168.2v1.4M389.4 168.2h1.4M523.8 168.2h-1.4" stroke="#262626" stroke-width="0.6" fill="none"/>
<g font-family="'Liberation Sans', Arial, sans-serif" font-weight="bold" font-size="9.7" fill="#1f1f1f" stroke="#1f1f1f" stroke-width="0.15">
<text x="389.4" y="290.9" text-anchor="middle">1</text>
<text x="386" y="282" text-anchor="end">1</text>
<text x="416.3" y="290.9" text-anchor="middle">2</text>
<text x="386" y="260" text-anchor="end">2</text>
<text x="443.2" y="290.9" text-anchor="middle">3</text>
<text x="386" y="238" text-anchor="end">3</text>
<text x="470" y="290.9" text-anchor="middle">4</text>
<text x="386" y="215.9" text-anchor="end">4</text>
<text x="496.9" y="290.9" text-anchor="middle">5</text>
<text x="386" y="193.9" text-anchor="end">5</text>
<text x="523.8" y="290.9" text-anchor="middle">6</text>
<text x="386" y="171.9" text-anchor="end">6</text>
<text x="456.6" y="303.4" text-anchor="middle">Ka</text>
<text transform="translate(376.5 223.2) rotate(-90)" text-anchor="middle">Kr</text>
<rect x="530.2" y="168.2" width="5.8" height="110.1" fill="url(#pg)" stroke="#1c1c1c" stroke-width="0.85" />
<text x="539.4" y="282">0</text>
<text x="539.4" y="260">1</text>
<text x="539.4" y="238">2</text>
<text x="539.4" y="215.9">3</text>
<text x="539.4" y="193.9">4</text>
<text x="539.4" y="171.9">5</text>
</g>
<path d="M536 256.3h-1.2M536 234.3h-1.2M536 212.2h-1.2M536 190.2h-1.2" stroke="#262626" stroke-width="0.6" fill="none"/>
<text x="458.1" y="318.9" text-anchor="middle" font-family="'Liberation Serif', 'Times New Roman', serif" font-size="11.8" letter-spacing="0.25" fill="#000">(<tspan font-weight="bold" stroke="#000" stroke-width="0.2">III.b</tspan>)</text>
</g>
<g>
<rect x="25.2" y="326.3" width="134.5" height="110.4" fill="#3d21a8"/>
<path d="M137.3 388.7L138.3 388.8L140.2 388.9L142.2 389L144.1 389.1L146.1 389.1L148 389.2L150 389.3L151.9 389.3L153.9 389.4L155.8 389.4L157.8 389.4L159.7 389.4L159.7 388.7L159.7 387.1L159.7 385.5L159.7 383.9L159.7 382.3L159.7 380.7L159.7 379.1L159.7 377.5L159.7 375.9L159.7 374.3L159.7 372.7L159.7 371.1L159.7 369.5L159.7 367.9L159.7 366.3L159.7 364.7L159.7 363.1L159.7 361.5L159.7 359.9L159.7 358.3L159.7 356.7L159.7 355.1L159.7 353.5L159.7 351.9L159.7 350.3L159.7 348.7L159.7 347.1L159.7 345.5L159.7 343.9L159.7 342.3L159.7 340.7L159.7 339.1L159.7 337.5L159.7 335.9L159.7 334.3L159.7 332.7L159.7 331.1L159.7 329.5L159.7 327.9L159.7 326.3L157.8 326.3L155.8 326.3L153.9 326.3L151.9 326.3L150 326.3L148 326.3L146.1 326.3L144.1 326.3L142.2 326.3L140.2 326.3L138.3 326.3L136.3 326.3L134.4 326.3L132.4 326.3L130.5 326.3L128.5 326.3L126.6 326.3L124.6 326.3L122.7 326.3L120.7 326.3L118.8 326.3L116.8 326.3L114.9 326.3L112.9 326.3L111 326.3L109 326.3L107.1 326.3L105.1 326.3L103.2 326.3L101.2 326.3L99.3 326.3L97.3 326.3L95.4 326.3L93.4 326.3L91.5 326.3L89.5 326.3L87.6 326.3L85.6 326.3L83.7 326.3L81.7 326.3L79.8 326.3L77.8 326.3L75.9 326.3L73.9 326.3L72 326.3L70 326.3L68.1 326.3L66.1 326.3L64.2 326.3L62.2 326.3L60.3 326.3L58.3 326.3L56.4 326.3L54.4 326.3L52.5 326.3L50.5 326.3L48.6 326.3L46.6 326.3L44.7 326.3L42.7 326.3L42.1 326.3L42.6 327.9L42.7 328.4L43.1 329.5L43.7 331.1L44.4 332.7L44.7 333.4L45.1 334.3L45.8 335.9L46.6 337.5L46.6 337.5L47.4 339.1L48.3 340.7L48.6 341.3L49.2 342.3L50.1 343.9L50.5 344.7L51 345.5L52 347.1L52.5 347.9L53 348.7L54 350.3L54.4 350.9L55.1 351.9L56.3 353.5L56.4 353.7L57.4 355.1L58.3 356.3L58.6 356.7L59.9 358.3L60.3 358.9L61.1 359.9L62.2 361.3L62.4 361.5L63.8 363.1L64.2 363.5L65.2 364.7L66.1 365.7L66.7 366.3L68.1 367.7L68.3 367.9L70 369.4L70.1 369.5L72 371.1L72 371.1L73.9 372.6L74 372.7L75.9 374.1L76.2 374.3L77.8 375.3L78.9 375.9L79.8 376.4L81.7 377.4L82 377.5L83.7 378.3L85.5 379.1L85.6 379.2L87.6 379.9L89.5 380.5L90.1 380.7L91.5 381.1L93.4 381.7L95.4 382.3L95.5 382.3L97.3 382.8L99.3 383.3L101.2 383.8L101.6 383.9L103.2 384.3L105.1 384.7L107.1 385.1L109 385.4L109.4 385.5L111 385.8L112.9 386.1L114.9 386.5L116.8 386.8L118.8 387L119.2 387.1L120.7 387.3L122.7 387.5L124.6 387.7L126.6 387.9L128.5 388.1L130.5 388.3L132.4 388.4L134.4 388.5L136.3 388.6Z" fill="#443be7"/>
<path d="M137.8 372.7L138.3 372.8L140.2 373L142.2 373.2L144.1 373.4L146.1 373.6L148 373.7L150 373.9L151.9 374L153.9 374.1L155.8 374.2L157.8 374.2L159.7 374.2L159.7 372.7L159.7 371.1L159.7 369.5L159.7 367.9L159.7 366.3L159.7 364.7L159.7 363.1L159.7 361.5L159.7 359.9L159.7 358.3L159.7 356.7L159.7 355.1L159.7 353.5L159.7 351.9L159.7 350.3L159.7 348.7L159.7 347.1L159.7 345.5L159.7 343.9L159.7 342.3L159.7 340.7L159.7 339.1L159.7 337.5L159.7 335.9L159.7 334.3L159.7 332.7L159.7 331.1L159.7 329.5L159.7 327.9L159.7 326.3L157.8 326.3L155.8 326.3L153.9 326.3L151.9 326.3L150 326.3L148 326.3L146.1 326.3L144.1 326.3L142.2 326.3L140.2 326.3L138.3 326.3L136.3 326.3L134.4 326.3L132.4 326.3L130.5 326.3L128.5 326.3L126.6 326.3L124.6 326.3L122.7 326.3L120.7 326.3L118.8 326.3L116.8 326.3L114.9 326.3L112.9 326.3L111 326.3L109 326.3L107.1 326.3L105.1 326.3L103.2 326.3L101.2 326.3L99.3 326.3L97.3 326.3L95.4 326.3L93.4 326.3L91.5 326.3L89.5 326.3L87.6 326.3L85.6 326.3L83.7 326.3L81.7 326.3L79.8 326.3L77.8 326.3L75.9 326.3L73.9 326.3L72 326.3L70 326.3L68.1 326.3L66.1 326.3L64.2 326.3L62.2 326.3L62.2 326.3L62.2 326.4L62.9 327.9L63.7 329.5L64.2 330.2L64.7 331.1L65.8 332.7L66.1 333.3L66.8 334.3L68 335.9L68.1 336L69.1 337.5L70 338.7L70.3 339.1L71.6 340.7L72 341.2L72.8 342.3L73.9 343.6L74.1 343.9L75.5 345.5L75.9 345.9L77 347.1L77.8 348L78.6 348.7L79.8 349.9L80.2 350.3L81.7 351.7L82 351.9L83.7 353.4L83.8 353.5L85.6 354.9L85.9 355.1L87.6 356.3L88.3 356.7L89.5 357.5L90.9 358.3L91.5 358.6L93.4 359.7L93.8 359.9L95.4 360.7L97.2 361.5L97.3 361.5L99.3 362.4L101.1 363.1L101.2 363.1L103.2 363.9L105.1 364.5L105.6 364.7L107.1 365.2L109 365.8L110.7 366.3L111 366.4L112.9 367L114.9 367.6L115.7 367.9L116.8 368.2L118.8 368.8L120.7 369.4L121.1 369.5L122.7 369.9L124.6 370.4L126.6 370.8L128 371.1L128.5 371.2L130.5 371.6L132.4 371.9L134.4 372.2L136.3 372.5Z" fill="#3062fd"/>
<path d="M151.9 363.1L151.9 363.1L153.9 363.3L155.8 363.4L157.8 363.5L159.7 363.6L159.7 363.1L159.7 361.5L159.7 359.9L159.7 358.3L159.7 356.7L159.7 355.1L159.7 353.5L159.7 351.9L159.7 350.3L159.7 348.7L159.7 347.1L159.7 345.5L159.7 343.9L159.7 342.3L159.7 340.7L159.7 339.1L159.7 337.5L159.7 335.9L159.7 334.3L159.7 332.7L159.7 331.1L159.7 329.5L159.7 327.9L159.7 326.3L157.8 326.3L155.8 326.3L153.9 326.3L151.9 326.3L150 326.3L148 326.3L146.1 326.3L144.1 326.3L142.2 326.3L140.2 326.3L138.3 326.3L136.3 326.3L134.4 326.3L132.4 326.3L130.5 326.3L128.5 326.3L126.6 326.3L124.6 326.3L122.7 326.3L120.7 326.3L118.8 326.3L116.8 326.3L114.9 326.3L112.9 326.3L111 326.3L109 326.3L107.1 326.3L105.1 326.3L103.2 326.3L101.2 326.3L99.3 326.3L97.3 326.3L95.4 326.3L93.4 326.3L91.5 326.3L89.5 326.3L87.6 326.3L85.6 326.3L83.7 326.3L81.7 326.3L79.8 326.3L79.1 326.3L79.8 327.6L80 327.9L81.1 329.5L81.7 330.3L82.3 331.1L83.7 332.7L83.7 332.7L85.1 334.3L85.6 334.8L86.6 335.9L87.6 336.8L88.3 337.5L89.5 338.7L90 339.1L91.5 340.5L91.7 340.7L93.4 342.3L93.5 342.3L95.4 343.8L95.5 343.9L97.3 345.1L97.9 345.5L99.3 346.4L100.4 347.1L101.2 347.6L103.2 348.7L103.2 348.7L105.1 349.7L106.4 350.3L107.1 350.6L109 351.5L110 351.9L111 352.3L112.9 353.1L113.8 353.5L114.9 353.9L116.8 354.7L117.8 355.1L118.8 355.5L120.7 356.2L122.1 356.7L122.7 356.9L124.6 357.6L126.6 358.2L126.9 358.3L128.5 358.8L130.5 359.3L132.4 359.8L132.7 359.9L134.4 360.3L136.3 360.8L138.3 361.2L140 361.5L140.2 361.5L142.2 361.9L144.1 362.2L146.1 362.4L148 362.7L150 362.9Z" fill="#0986f3"/>
<path d="M148.6 353.5L150 353.7L151.9 354L153.9 354.3L155.8 354.5L157.8 354.7L159.7 354.7L159.7 353.5L159.7 351.9L159.7 350.3L159.7 348.7L159.7 347.1L159.7 345.5L159.7 343.9L159.7 342.3L159.7 340.7L159.7 339.1L159.7 337.5L159.7 335.9L159.7 334.3L159.7 332.7L159.7 331.1L159.7 329.5L159.7 327.9L159.7 326.3L157.8 326.3L155.8 326.3L153.9 326.3L151.9 326.3L150 326.3L148 326.3L146.1 326.3L144.1 326.3L142.2 326.3L140.2 326.3L138.3 326.3L136.3 326.3L134.4 326.3L132.4 326.3L130.5 326.3L128.5 326.3L126.6 326.3L124.6 326.3L122.7 326.3L120.7 326.3L118.8 326.3L116.8 326.3L114.9 326.3L112.9 326.3L111 326.3L109 326.3L107.1 326.3L105.1 326.3L103.2 326.3L101.2 326.3L99.3 326.3L97.3 326.3L95.4 326.3L94.6 326.3L95.4 327.4L95.7 327.9L97.2 329.5L97.3 329.6L98.9 331.1L99.3 331.5L100.6 332.7L101.2 333.2L102.5 334.3L103.2 334.8L104.7 335.9L105.1 336.2L107 337.5L107.1 337.5L109 338.8L109.5 339.1L111 340L112.2 340.7L112.9 341.1L114.9 342.2L115.1 342.3L116.8 343.2L118.2 343.9L118.8 344.2L120.7 345.1L121.7 345.5L122.7 345.9L124.6 346.7L125.5 347.1L126.6 347.5L128.5 348.3L129.8 348.7L130.5 348.9L132.4 349.6L134.4 350.2L134.7 350.3L136.3 350.8L138.3 351.3L140.2 351.8L140.7 351.9L142.2 352.2L144.1 352.7L146.1 353.1L148 353.4Z" fill="#00a5df"/>
<path d="M150.2 345.5L151.9 345.8L153.9 346.1L155.8 346.4L157.8 346.6L159.7 346.7L159.7 345.5L159.7 343.9L159.7 342.3L159.7 340.7L159.7 339.1L159.7 337.5L159.7 335.9L159.7 334.3L159.7 332.7L159.7 331.1L159.7 329.5L159.7 327.9L159.7 326.3L157.8 326.3L155.8 326.3L153.9 326.3L151.9 326.3L150 326.3L148 326.3L146.1 326.3L144.1 326.3L142.2 326.3L140.2 326.3L138.3 326.3L136.3 326.3L134.4 326.3L132.4 326.3L130.5 326.3L128.5 326.3L126.6 326.3L124.6 326.3L122.7 326.3L120.7 326.3L118.8 326.3L116.8 326.3L114.9 326.3L112.9 326.3L111 326.3L109 326.3L108.9 326.3L109 326.4L110.2 327.9L111 328.6L112.1 329.5L112.9 330.1L114.2 331.1L114.9 331.5L116.7 332.7L116.8 332.8L118.8 334L119.4 334.3L120.7 335.1L122.3 335.9L122.7 336.1L124.6 337.1L125.5 337.5L126.6 338L128.5 338.9L129 339.1L130.5 339.7L132.4 340.5L133 340.7L134.4 341.2L136.3 341.9L137.6 342.3L138.3 342.5L140.2 343.1L142.2 343.7L143.1 343.9L144.1 344.2L146.1 344.6L148 345.1L150 345.5Z" fill="#00beb8"/>
<path d="M155.8 339.1L157.8 339.4L159.7 339.6L159.7 339.1L159.7 337.5L159.7 335.9L159.7 334.3L159.7 332.7L159.7 331.1L159.7 329.5L159.7 327.9L159.7 326.3L157.8 326.3L155.8 326.3L153.9 326.3L151.9 326.3L150 326.3L148 326.3L146.1 326.3L144.1 326.3L142.2 326.3L140.2 326.3L138.3 326.3L136.3 326.3L134.4 326.3L132.4 326.3L130.5 326.3L128.5 326.3L126.6 326.3L124.6 326.3L124.1 326.3L124.6 326.8L125.8 327.9L126.6 328.4L128.2 329.5L128.5 329.7L130.5 330.8L131 331.1L132.4 331.8L134.3 332.7L134.4 332.7L136.3 333.5L138.2 334.3L138.3 334.3L140.2 335.1L142.2 335.7L142.7 335.9L144.1 336.3L146.1 336.9L148 337.4L148.3 337.5L150 337.9L151.9 338.4L153.9 338.8L155.8 339.1Z" fill="#1ecd7f"/>
<path d="M156.2 332.7L157.8 333L159.7 333.2L159.7 332.7L159.7 331.1L159.7 329.5L159.7 327.9L159.7 326.3L157.8 326.3L155.8 326.3L153.9 326.3L151.9 326.3L150 326.3L148 326.3L146.1 326.3L144.1 326.3L142.2 326.3L140.2 326.3L139.7 326.3L140.2 326.6L142.1 327.9L142.2 327.9L144.1 328.9L145.5 329.5L146.1 329.7L148 330.4L150 331.1L150 331.1L151.9 331.7L153.9 332.2L155.8 332.6Z" fill="#9ecd17"/>
<path d="M155.7 326.3L155.8 326.3L157.8 327.1L159.7 327.6L159.7 326.3L157.8 326.3L155.8 326.3Z" fill="#f1ba00"/>
<path d="M42.1 326.3L42.6 327.9L42.7 328.4L43.1 329.5L43.7 331.1L44.4 332.7L44.7 333.4L45.1 334.3L45.8 335.9L46.6 337.5L46.6 337.5L47.4 339.1L48.3 340.7L48.6 341.3L49.2 342.3L50.1 343.9L50.5 344.7L51 345.5L52 347.1L52.5 347.9L53 348.7L54 350.3L54.4 350.9L55.1 351.9L56.3 353.5L56.4 353.7L57.4 355.1L58.3 356.3L58.6 356.7L59.9 358.3L60.3 358.9L61.1 359.9L62.2 361.3L62.4 361.5L63.8 363.1L64.2 363.5L65.2 364.7L66.1 365.7L66.7 366.3L68.1 367.7L68.3 367.9L70 369.4L70.1 369.5L72 371.1L72 371.1L73.9 372.6L74 372.7L75.9 374.1L76.2 374.3L77.8 375.3L78.9 375.9L79.8 376.4L81.7 377.4L82 377.5L83.7 378.3L85.5 379.1L85.6 379.2L87.6 379.9L89.5 380.5L90.1 380.7L91.5 381.1L92.6 381.5M97.7 382.9L99.3 383.3L101.2 383.8L101.6 383.9L103.2 384.3L105.1 384.7L107.1 385.1L109 385.4L109.4 385.5L111 385.8L112.9 386.1L114.9 386.5L116.8 386.8L118.8 387L119.2 387.1L120.7 387.3L122.7 387.5L124.6 387.7L126.6 387.9L128.5 388.1L130.5 388.3L132.4 388.4L134.4 388.5L136.3 388.6L137.3 388.7L138.3 388.8L140.2 388.9L142.2 389L144.1 389.1L146.1 389.1L147.2 389.2M152.4 389.3L153.9 389.4L155.8 389.4L157.8 389.4L159.7 389.4M62.2 326.3L62.2 326.4L62.9 327.9L63.7 329.5L64.2 330.2L64.7 331.1L65.8 332.7L66.1 333.3L66.8 334.3L68 335.9L68.1 336L69.1 337.5L70 338.7L70.3 339.1L71.6 340.7L72 341.2L72.8 342.3L73.9 343.6L74.1 343.9L75.5 345.5L75.9 345.9L77 347.1L77.8 348L78.6 348.7L79.8 349.9L80.2 350.3L81.7 351.7L82 351.9L83.7 353.4L83.8 353.5L85.6 354.9L85.9 355.1L87.6 356.3L88.3 356.7L89.5 357.5L90.9 358.3L91.5 358.6L93.4 359.7L93.8 359.9L94.9 360.5M96.9 361.4L97.2 361.5L97.3 361.5L99.3 362.4L101.1 363.1L101.2 363.1L103.2 363.9L105.1 364.5L105.6 364.7L107.1 365.2L109 365.8L110.7 366.3L111 366.4L112.9 367L114.9 367.6L115.7 367.9L116.8 368.2L118.8 368.8L120.7 369.4L121.1 369.5L122.7 369.9L124.6 370.4L126.6 370.8L128 371.1L128.5 371.2L130.5 371.6L132.4 371.9L134.4 372.2L136.3 372.5L137.8 372.7L138.3 372.8L140.2 373L142.2 373.2L144.1 373.4L146.1 373.6L148 373.7L149.5 373.8M151.7 374L151.9 374L153.9 374.1L155.8 374.2L157.8 374.2L159.7 374.2M79.1 326.3L79.8 327.6L80 327.9L81.1 329.5L81.7 330.3L82.3 331.1L83.7 332.7L83.7 332.7L85.1 334.3L85.6 334.8L86.6 335.9L87.6 336.8L88.3 337.5L89.5 338.7L90 339.1L91.5 340.5L91.7 340.7L93.4 342.3L93.5 342.3L94.6 343.2M98.9 346.1L99.3 346.4L100.4 347.1L101.2 347.6L103.2 348.7L103.2 348.7L105.1 349.7L106.4 350.3L107.1 350.6L109 351.5L110 351.9L111 352.3L112.9 353.1L113.8 353.5L114.9 353.9L116.8 354.7L117.8 355.1L118.8 355.5L120.7 356.2L122.1 356.7L122.7 356.9L124.6 357.6L126.6 358.2L126.9 358.3L128.5 358.8L130.5 359.3L132.4 359.8L132.7 359.9L134.4 360.3L136.3 360.8L138.3 361.2L140 361.5L140.2 361.5L142.2 361.9L144.1 362.2L146.1 362.4L148 362.7L148.8 362.8M153.9 363.3L155.8 363.4L157.8 363.5L159.7 363.6M94.6 326.3L95.4 327.4L95.7 327.9L97.2 329.5L97.3 329.6L98.9 331.1L99.3 331.5L100.6 332.7L101.2 333.2L102.5 334.3L103.2 334.8L104.7 335.9L105.1 336.2L107 337.5L107.1 337.5L109 338.8L109.5 339.1L111 340L112.2 340.7L112.9 341.1L114.9 342.2L115.1 342.3L116.8 343.2L118.2 343.9L118.8 344.2L120.7 345.1L121.7 345.5L122.7 345.9L124.6 346.7L125.5 347.1L126.6 347.5L128.5 348.3L129.8 348.7L130.5 348.9L132.4 349.6L134.4 350.2L134.7 350.3L136.3 350.8L138.3 351.3L140.2 351.8L140.7 351.9L142.2 352.2L144.1 352.7L146.1 353.1L148 353.4L148.6 353.5L150 353.7L151.1 353.9M153.2 354.2L153.9 354.3L155.8 354.5L157.8 354.7L159.7 354.7M108.9 326.3L109 326.4L110.2 327.9L111 328.6L112.1 329.5L112.9 330.1L114.2 331.1L114.9 331.5L116.7 332.7L116.8 332.8L118.8 334L119.4 334.3L120.7 335.1L122.3 335.9L122.7 336.1L124.6 337.1L125.5 337.5L126.6 338L128.5 338.9L129 339.1L130.5 339.7L132.4 340.5L133 340.7L134.4 341.2L136.3 341.9L137.6 342.3L138.3 342.5L140.2 343.1L142.2 343.7L143.1 343.9L144.1 344.2L146.1 344.6L148 345.1L150 345.5L150.2 345.5L150.4 345.5M155.5 346.4L155.8 346.4L157.8 346.6L159.7 346.7M124.1 326.3L124.6 326.8L125.8 327.9L126.6 328.4L128.2 329.5L128.5 329.7L130.5 330.8L131 331.1L132.4 331.8L134.3 332.7L134.4 332.7L136.3 333.5L138.2 334.3L138.3 334.3L140.2 335.1L142.2 335.7L142.7 335.9L144.1 336.3L146.1 336.9L147.9 337.4M150 337.9L151.9 338.4L153.9 338.8L155.8 339.1L155.8 339.1L157.8 339.4L159.7 339.6M139.7 326.3L140.2 326.6L142.1 327.9L142.2 327.9L144.1 328.9L145.5 329.5L146.1 329.7L147.3 330.2M152.2 331.7L153.9 332.2L155.8 332.6L156.2 332.7L157.8 333L159.7 333.2M155.7 326.3L155.8 326.3L157.8 327.1L159.7 327.6" fill="none" stroke="#000" stroke-width="1" stroke-linejoin="round"/>
<g font-family="'Liberation Sans', Arial, sans-serif" font-size="3.4" font-weight="bold" fill="#0a0a28" stroke="#0a0a28" stroke-width="0.25" text-anchor="middle">
<text transform="translate(95.1 382.2) rotate(15.6)" y="1.1">0.5</text>
<text transform="translate(149.8 389.3) rotate(1.6)" y="1.1">0.5</text>
<text transform="translate(95.9 360.9) rotate(24.5)" y="1.1">1</text>
<text transform="translate(150.6 373.9) rotate(3.5)" y="1.1">1</text>
<text transform="translate(96.7 344.7) rotate(34.2)" y="1.1">1.5</text>
<text transform="translate(151.4 363) rotate(5.5)" y="1.1">1.5</text>
<text transform="translate(152.2 354) rotate(7.9)" y="1.1">2</text>
<text transform="translate(153 346) rotate(9.1)" y="1.1">2.5</text>
<text transform="translate(149 337.7) rotate(14)" y="1.1">3</text>
<text transform="translate(149.8 331) rotate(17.7)" y="1.1">3.5</text>
</g>
<rect x="25.2" y="326.3" width="134.5" height="110.4" fill="none" stroke="#1c1c1c" stroke-width="0.9"/>
<path d="M25.2 436.7v-1.4M25.2 326.3v1.4M25.2 436.7h1.4M159.7 436.7h-1.4M52.1 436.7v-1.4M52.1 326.3v1.4M25.2 414.6h1.4M159.7 414.6h-1.4M79 436.7v-1.4M79 326.3v1.4M25.2 392.5h1.4M159.7 392.5h-1.4M105.9 436.7v-1.4M105.9 326.3v1.4M25.2 370.5h1.4M159.7 370.5h-1.4M132.8 436.7v-1.4M132.8 326.3v1.4M25.2 348.4h1.4M159.7 348.4h-1.4M159.7 436.7v-1.4M159.7 326.3v1.4M25.2 326.3h1.4M159.7 326.3h-1.4" stroke="#262626" stroke-width="0.6" fill="none"/>
<g font-family="'Liberation Sans', Arial, sans-serif" font-weight="bold" font-size="9.7" fill="#1f1f1f" stroke="#1f1f1f" stroke-width="0.15">
<text x="25.2" y="449.3" text-anchor="middle">1</text>
<text x="21.8" y="440.4" text-anchor="end">1</text>
<text x="52.1" y="449.3" text-anchor="middle">2</text>
<text x="21.8" y="418.3" text-anchor="end">2</text>
<text x="79" y="449.3" text-anchor="middle">3</text>
<text x="21.8" y="396.2" text-anchor="end">3</text>
<text x="105.9" y="449.3" text-anchor="middle">4</text>
<text x="21.8" y="374.2" text-anchor="end">4</text>
<text x="132.8" y="449.3" text-anchor="middle">5</text>
<text x="21.8" y="352.1" text-anchor="end">5</text>
<text x="159.7" y="449.3" text-anchor="middle">6</text>
<text x="21.8" y="330" text-anchor="end">6</text>
<text x="92.4" y="461.8" text-anchor="middle">Ka</text>
<text transform="translate(12.3 381.5) rotate(-90)" text-anchor="middle">Kr</text>
<rect x="166.1" y="326.3" width="5.8" height="110.4" fill="url(#pg)" stroke="#1c1c1c" stroke-width="0.85" />
<text x="175.3" y="440.4">0</text>
<text x="175.3" y="418.3">1</text>
<text x="175.3" y="396.2">2</text>
<text x="175.3" y="374.2">3</text>
<text x="175.3" y="352.1">4</text>
<text x="175.3" y="330">5</text>
</g>
<path d="M171.9 414.6h-1.2M171.9 392.5h-1.2M171.9 370.5h-1.2M171.9 348.4h-1.2" stroke="#262626" stroke-width="0.6" fill="none"/>
<text x="94.2" y="477.3" text-anchor="middle" font-family="'Liberation Serif', 'Times New Roman', serif" font-size="11.8" letter-spacing="0.25" fill="#000">(<tspan font-weight="bold" stroke="#000" stroke-width="0.2">I.c</tspan>)</text>
</g>
<g>
<rect x="207.8" y="326.4" width="134.3" height="110.2" fill="#3d21a8"/>
<path d="M340.3 404.7L342.1 404.8L342.1 404.7L342.1 403.1L342.1 401.5L342.1 399.9L342.1 398.3L342.1 396.7L342.1 395.1L342.1 393.5L342.1 391.9L342.1 390.3L342.1 388.7L342.1 387.1L342.1 385.5L342.1 383.9L342.1 382.3L342.1 380.7L342.1 379.1L342.1 377.5L342.1 375.9L342.1 374.3L342.1 372.7L342.1 371.1L342.1 369.5L342.1 367.9L342.1 366.3L342.1 364.7L342.1 363.1L342.1 361.5L342.1 359.9L342.1 358.3L342.1 356.7L342.1 355.1L342.1 353.6L342.1 352L342.1 350.4L342.1 348.8L342.1 347.2L342.1 345.6L342.1 344L342.1 342.4L342.1 340.8L342.1 339.2L342.1 337.6L342.1 336L342.1 334.4L342.1 332.8L342.1 331.2L342.1 329.6L342.1 328L342.1 326.4L340.2 326.4L338.2 326.4L336.3 326.4L334.3 326.4L332.4 326.4L330.4 326.4L328.5 326.4L326.5 326.4L324.6 326.4L322.6 326.4L320.7 326.4L318.7 326.4L316.8 326.4L314.9 326.4L312.9 326.4L311 326.4L309 326.4L307.1 326.4L305.1 326.4L303.2 326.4L301.2 326.4L299.3 326.4L297.3 326.4L295.4 326.4L293.4 326.4L291.5 326.4L289.5 326.4L287.6 326.4L285.7 326.4L283.7 326.4L281.8 326.4L279.8 326.4L277.9 326.4L275.9 326.4L274 326.4L272 326.4L270.1 326.4L268.1 326.4L266.2 326.4L264.2 326.4L262.3 326.4L260.4 326.4L258.4 326.4L256.5 326.4L254.5 326.4L252.6 326.4L250.6 326.4L248.7 326.4L246.7 326.4L244.8 326.4L242.8 326.4L240.9 326.4L238.9 326.4L237 326.4L235 326.4L233.1 326.4L231.2 326.4L229.2 326.4L227.3 326.4L225.3 326.4L223.4 326.4L221.4 326.4L219.5 326.4L217.5 326.4L215.6 326.4L213.6 326.4L211.7 326.4L209.7 326.4L207.8 326.4L207.8 328L207.8 329.6L207.8 331.2L207.8 332.8L207.8 334.4L207.8 336L207.8 337.6L207.8 338.8L208 339.2L208.6 340.8L209.3 342.4L209.7 343.2L210.1 344L210.9 345.6L211.7 347L211.8 347.2L212.7 348.8L213.6 350.4L213.6 350.4L214.6 352L215.6 353.4L215.7 353.6L216.8 355.1L217.5 356.1L218 356.7L219.3 358.3L219.5 358.6L220.6 359.9L221.4 360.8L222.1 361.5L223.4 362.9L223.6 363.1L225.2 364.7L225.3 364.8L226.9 366.3L227.3 366.6L228.8 367.9L229.2 368.3L230.7 369.5L231.2 369.9L232.7 371.1L233.1 371.4L234.9 372.7L235 372.8L237 374.2L237.2 374.3L238.9 375.5L239.6 375.9L240.9 376.8L242.1 377.5L242.8 378L244.7 379.1L244.8 379.1L246.7 380.3L247.5 380.7L248.7 381.3L250.6 382.3L250.6 382.3L252.6 383.3L253.8 383.9L254.5 384.3L256.5 385.2L257.1 385.5L258.4 386.1L260.4 387L260.7 387.1L262.3 387.8L264.2 388.6L264.4 388.7L266.2 389.4L268.1 390.1L268.7 390.3L270.1 390.8L272 391.4L273.4 391.9L274 392.1L275.9 392.7L277.9 393.3L278.3 393.5L279.8 394L281.8 394.5L283.6 395.1L283.7 395.1L285.7 395.6L287.6 396.1L289.5 396.6L290 396.7L291.5 397L293.4 397.5L295.4 398L296.3 398.3L297.3 398.5L299.3 399L301.2 399.5L303 399.9L303.2 399.9L305.1 400.3L307.1 400.7L309 401L311 401.3L311.8 401.5L312.9 401.6L314.9 401.9L316.8 402.2L318.7 402.5L320.7 402.7L322.6 402.9L323.8 403.1L324.6 403.2L326.5 403.4L328.5 403.6L330.4 403.8L332.4 404L334.3 404.1L336.3 404.3L338.2 404.5L340.2 404.6Z" fill="#443be7"/>
<path d="M333 387.1L334.3 387.3L336.3 387.6L338.2 387.8L340.2 388.1L342.1 388.3L342.1 387.1L342.1 385.5L342.1 383.9L342.1 382.3L342.1 380.7L342.1 379.1L342.1 377.5L342.1 375.9L342.1 374.3L342.1 372.7L342.1 371.1L342.1 369.5L342.1 367.9L342.1 366.3L342.1 364.7L342.1 363.1L342.1 361.5L342.1 359.9L342.1 358.3L342.1 356.7L342.1 355.1L342.1 353.6L342.1 352L342.1 350.4L342.1 348.8L342.1 347.2L342.1 345.6L342.1 344L342.1 342.4L342.1 340.8L342.1 339.2L342.1 337.6L342.1 336L342.1 334.4L342.1 332.8L342.1 331.2L342.1 329.6L342.1 328L342.1 326.4L340.2 326.4L338.2 326.4L336.3 326.4L334.3 326.4L332.4 326.4L330.4 326.4L328.5 326.4L326.5 326.4L324.6 326.4L322.6 326.4L320.7 326.4L318.7 326.4L316.8 326.4L314.9 326.4L312.9 326.4L311 326.4L309 326.4L307.1 326.4L305.1 326.4L303.2 326.4L301.2 326.4L299.3 326.4L297.3 326.4L295.4 326.4L293.4 326.4L291.5 326.4L289.5 326.4L287.6 326.4L285.7 326.4L283.7 326.4L281.8 326.4L279.8 326.4L277.9 326.4L275.9 326.4L274 326.4L272 326.4L270.1 326.4L268.1 326.4L266.2 326.4L264.2 326.4L262.3 326.4L260.4 326.4L258.4 326.4L256.5 326.4L254.5 326.4L252.6 326.4L250.6 326.4L248.7 326.4L246.7 326.4L244.8 326.4L242.8 326.4L240.9 326.4L238.9 326.4L237 326.4L235 326.4L233.1 326.4L231.2 326.4L229.2 326.4L227.3 326.4L225.3 326.4L223.4 326.4L221.4 326.4L219.7 326.4L220.6 328L221.4 329.3L221.6 329.6L222.6 331.2L223.4 332.4L223.6 332.8L224.7 334.4L225.3 335.2L225.9 336L227.1 337.6L227.3 337.9L228.3 339.2L229.2 340.3L229.6 340.8L231 342.4L231.2 342.6L232.4 344L233.1 344.7L234 345.6L235 346.7L235.6 347.2L237 348.5L237.3 348.8L238.9 350.2L239.1 350.4L240.9 351.8L241.1 352L242.8 353.3L243.2 353.6L244.8 354.7L245.4 355.1L246.7 356.1L247.7 356.7L248.7 357.4L250.2 358.3L250.6 358.6L252.6 359.9L252.7 359.9L254.5 361.1L255.2 361.5L256.5 362.3L257.8 363.1L258.4 363.5L260.4 364.6L260.6 364.7L262.3 365.7L263.5 366.3L264.2 366.7L266.2 367.7L266.6 367.9L268.1 368.7L270 369.5L270.1 369.6L272 370.5L273.5 371.1L274 371.3L275.9 372.2L277.3 372.7L277.9 372.9L279.8 373.7L281.4 374.3L281.8 374.5L283.7 375.2L285.7 375.8L286 375.9L287.6 376.4L289.5 377L291.1 377.5L291.5 377.6L293.4 378.2L295.4 378.8L296.6 379.1L297.3 379.3L299.3 379.9L301.2 380.4L302.2 380.7L303.2 381L305.1 381.5L307.1 382L308.2 382.3L309 382.5L311 383L312.9 383.4L314.9 383.9L314.9 383.9L316.8 384.3L318.7 384.7L320.7 385.1L322.6 385.4L323 385.5L324.6 385.8L326.5 386.1L328.5 386.4L330.4 386.7L332.4 387Z" fill="#3062fd"/>
<path d="M340.3 375.9L342.1 376.2L342.1 375.9L342.1 374.3L342.1 372.7L342.1 371.1L342.1 369.5L342.1 367.9L342.1 366.3L342.1 364.7L342.1 363.1L342.1 361.5L342.1 359.9L342.1 358.3L342.1 356.7L342.1 355.1L342.1 353.6L342.1 352L342.1 350.4L342.1 348.8L342.1 347.2L342.1 345.6L342.1 344L342.1 342.4L342.1 340.8L342.1 339.2L342.1 337.6L342.1 336L342.1 334.4L342.1 332.8L342.1 331.2L342.1 329.6L342.1 328L342.1 326.4L340.2 326.4L338.2 326.4L336.3 326.4L334.3 326.4L332.4 326.4L330.4 326.4L328.5 326.4L326.5 326.4L324.6 326.4L322.6 326.4L320.7 326.4L318.7 326.4L316.8 326.4L314.9 326.4L312.9 326.4L311 326.4L309 326.4L307.1 326.4L305.1 326.4L303.2 326.4L301.2 326.4L299.3 326.4L297.3 326.4L295.4 326.4L293.4 326.4L291.5 326.4L289.5 326.4L287.6 326.4L285.7 326.4L283.7 326.4L281.8 326.4L279.8 326.4L277.9 326.4L275.9 326.4L274 326.4L272 326.4L270.1 326.4L268.1 326.4L266.2 326.4L264.2 326.4L262.3 326.4L260.4 326.4L258.4 326.4L256.5 326.4L254.5 326.4L252.6 326.4L250.6 326.4L248.7 326.4L246.7 326.4L244.8 326.4L242.8 326.4L240.9 326.4L238.9 326.4L237 326.4L235.8 326.4L237 327.8L237.2 328L238.6 329.6L238.9 329.9L240.2 331.2L240.9 331.9L241.8 332.8L242.8 333.7L243.6 334.4L244.8 335.5L245.4 336L246.7 337.1L247.3 337.6L248.7 338.7L249.2 339.2L250.6 340.3L251.2 340.8L252.6 341.9L253.2 342.4L254.5 343.4L255.2 344L256.5 344.9L257.4 345.6L258.4 346.2L259.8 347.2L260.4 347.5L262.3 348.8L262.3 348.8L264.2 350L264.8 350.4L266.2 351.2L267.5 352L268.1 352.3L270.1 353.5L270.2 353.6L272 354.6L273.1 355.1L274 355.6L275.9 356.6L276.1 356.7L277.9 357.6L279.5 358.3L279.8 358.5L281.8 359.4L283.1 359.9L283.7 360.2L285.7 360.9L287.3 361.5L287.6 361.7L289.5 362.4L291.5 363L291.9 363.1L293.4 363.7L295.4 364.3L296.7 364.7L297.3 365L299.3 365.6L301.2 366.2L301.5 366.3L303.2 366.9L305.1 367.5L306.5 367.9L307.1 368.1L309 368.7L311 369.3L311.7 369.5L312.9 369.9L314.9 370.5L316.8 371L317.2 371.1L318.7 371.5L320.7 372L322.6 372.5L323.5 372.7L324.6 373L326.5 373.4L328.5 373.8L330.4 374.2L331.1 374.3L332.4 374.6L334.3 374.9L336.3 375.2L338.2 375.6L340.2 375.9Z" fill="#0986f3"/>
<path d="M341.2 366.3L342.1 366.5L342.1 366.3L342.1 364.7L342.1 363.1L342.1 361.5L342.1 359.9L342.1 358.3L342.1 356.7L342.1 355.1L342.1 353.6L342.1 352L342.1 350.4L342.1 348.8L342.1 347.2L342.1 345.6L342.1 344L342.1 342.4L342.1 340.8L342.1 339.2L342.1 337.6L342.1 336L342.1 334.4L342.1 332.8L342.1 331.2L342.1 329.6L342.1 328L342.1 326.4L340.2 326.4L338.2 326.4L336.3 326.4L334.3 326.4L332.4 326.4L330.4 326.4L328.5 326.4L326.5 326.4L324.6 326.4L322.6 326.4L320.7 326.4L318.7 326.4L316.8 326.4L314.9 326.4L312.9 326.4L311 326.4L309 326.4L307.1 326.4L305.1 326.4L303.2 326.4L301.2 326.4L299.3 326.4L297.3 326.4L295.4 326.4L293.4 326.4L291.5 326.4L289.5 326.4L287.6 326.4L285.7 326.4L283.7 326.4L281.8 326.4L279.8 326.4L277.9 326.4L275.9 326.4L274 326.4L272 326.4L270.1 326.4L268.1 326.4L266.2 326.4L264.2 326.4L262.3 326.4L260.4 326.4L258.4 326.4L256.5 326.4L254.5 326.4L252.6 326.4L251.8 326.4L252.6 327L253.7 328L254.5 328.7L255.6 329.6L256.5 330.3L257.6 331.2L258.4 331.9L259.6 332.8L260.4 333.4L261.7 334.4L262.3 334.9L263.8 336L264.2 336.3L266 337.6L266.2 337.7L268.1 339.1L268.3 339.2L270.1 340.4L270.7 340.8L272 341.7L273.2 342.4L274 342.9L275.8 344L275.9 344L277.9 345.1L278.7 345.6L279.8 346.2L281.8 347.2L281.8 347.2L283.7 348.1L285.1 348.8L285.7 349L287.6 349.8L289 350.4L289.5 350.6L291.5 351.3L293.4 352L293.4 352L295.4 352.6L297.3 353.3L298 353.6L299.3 354L301.2 354.6L302.8 355.1L303.2 355.3L305.1 355.9L307.1 356.6L307.6 356.7L309 357.2L311 357.9L312.2 358.3L312.9 358.6L314.9 359.2L316.8 359.9L317 359.9L318.7 360.5L320.7 361.1L322 361.5L322.6 361.7L324.6 362.3L326.5 362.9L327.3 363.1L328.5 363.5L330.4 364L332.4 364.5L333.5 364.7L334.3 364.9L336.3 365.4L338.2 365.8L340.2 366.1Z" fill="#00a5df"/>
<path d="M336.3 356.7L338.2 357.2L340.2 357.7L342.1 358.1L342.1 356.7L342.1 355.1L342.1 353.6L342.1 352L342.1 350.4L342.1 348.8L342.1 347.2L342.1 345.6L342.1 344L342.1 342.4L342.1 340.8L342.1 339.2L342.1 337.6L342.1 336L342.1 334.4L342.1 332.8L342.1 331.2L342.1 329.6L342.1 328L342.1 326.4L340.2 326.4L338.2 326.4L336.3 326.4L334.3 326.4L332.4 326.4L330.4 326.4L328.5 326.4L326.5 326.4L324.6 326.4L322.6 326.4L320.7 326.4L318.7 326.4L316.8 326.4L314.9 326.4L312.9 326.4L311 326.4L309 326.4L307.1 326.4L305.1 326.4L303.2 326.4L301.2 326.4L299.3 326.4L297.3 326.4L295.4 326.4L293.4 326.4L291.5 326.4L289.5 326.4L287.6 326.4L285.7 326.4L283.7 326.4L281.8 326.4L279.8 326.4L277.9 326.4L275.9 326.4L274 326.4L272 326.4L270.1 326.4L268.1 326.4L267.5 326.4L268.1 326.9L269.6 328L270.1 328.3L271.8 329.6L272 329.7L274 331.1L274.1 331.2L275.9 332.4L276.5 332.8L277.9 333.7L279 334.4L279.8 334.9L281.7 336L281.8 336L283.7 337.1L284.7 337.6L285.7 338.1L287.6 339L288 339.2L289.5 339.9L291.5 340.8L291.5 340.8L293.4 341.6L295.3 342.4L295.4 342.4L297.3 343.2L299.3 344L299.3 344L301.2 344.7L303.2 345.5L303.5 345.6L305.1 346.2L307.1 346.9L307.7 347.2L309 347.7L311 348.4L312 348.8L312.9 349.1L314.9 349.8L316.4 350.4L316.8 350.5L318.7 351.2L320.7 351.9L320.9 352L322.6 352.5L324.6 353.2L325.6 353.6L326.5 353.8L328.5 354.5L330.4 355.1L330.6 355.1L332.4 355.7L334.3 356.2L336.3 356.7Z" fill="#00beb8"/>
<path d="M336.3 348.8L338.2 349.3L340.2 349.8L342.1 350.3L342.1 348.8L342.1 347.2L342.1 345.6L342.1 344L342.1 342.4L342.1 340.8L342.1 339.2L342.1 337.6L342.1 336L342.1 334.4L342.1 332.8L342.1 331.2L342.1 329.6L342.1 328L342.1 326.4L340.2 326.4L338.2 326.4L336.3 326.4L334.3 326.4L332.4 326.4L330.4 326.4L328.5 326.4L326.5 326.4L324.6 326.4L322.6 326.4L320.7 326.4L318.7 326.4L316.8 326.4L314.9 326.4L312.9 326.4L311 326.4L309 326.4L307.1 326.4L305.1 326.4L303.2 326.4L301.2 326.4L299.3 326.4L297.3 326.4L295.4 326.4L293.4 326.4L291.5 326.4L289.5 326.4L287.6 326.4L285.7 326.4L283.7 326.4L283.1 326.4L283.7 326.8L285.7 327.9L285.8 328L287.6 329L288.6 329.6L289.5 330.1L291.5 331.1L291.7 331.2L293.4 332.1L294.9 332.8L295.4 333L297.3 333.9L298.3 334.4L299.3 334.9L301.2 335.7L301.8 336L303.2 336.6L305.1 337.4L305.4 337.6L307.1 338.3L309 339.1L309.2 339.2L311 339.9L312.9 340.7L313.2 340.8L314.9 341.4L316.8 342.2L317.3 342.4L318.7 342.9L320.7 343.7L321.5 344L322.6 344.4L324.6 345.1L326.1 345.6L326.5 345.7L328.5 346.4L330.4 347L330.9 347.2L332.4 347.6L334.3 348.2L336.3 348.8Z" fill="#1ecd7f"/>
<path d="M339.1 342.4L340.2 342.7L342.1 343.2L342.1 342.4L342.1 340.8L342.1 339.2L342.1 337.6L342.1 336L342.1 334.4L342.1 332.8L342.1 331.2L342.1 329.6L342.1 328L342.1 326.4L340.2 326.4L338.2 326.4L336.3 326.4L334.3 326.4L332.4 326.4L330.4 326.4L328.5 326.4L326.5 326.4L324.6 326.4L322.6 326.4L320.7 326.4L318.7 326.4L316.8 326.4L314.9 326.4L312.9 326.4L311 326.4L309 326.4L307.1 326.4L305.1 326.4L303.2 326.4L301.2 326.4L299.3 326.4L301.2 327.4L302.4 328L303.2 328.4L305.1 329.3L305.7 329.6L307.1 330.2L309 331.1L309.2 331.2L311 332L312.8 332.8L312.9 332.9L314.9 333.7L316.5 334.4L316.8 334.5L318.7 335.3L320.4 336L320.7 336.1L322.6 336.8L324.6 337.6L324.6 337.6L326.5 338.3L328.5 339L329.1 339.2L330.4 339.6L332.4 340.3L333.9 340.8L334.3 340.9L336.3 341.5L338.2 342.1Z" fill="#9ecd17"/>
<path d="M340 336L340.2 336L342.1 336.6L342.1 336L342.1 334.4L342.1 332.8L342.1 331.2L342.1 329.6L342.1 328L342.1 326.4L340.2 326.4L338.2 326.4L336.3 326.4L334.3 326.4L332.4 326.4L330.4 326.4L328.5 326.4L326.5 326.4L324.6 326.4L322.6 326.4L320.7 326.4L318.7 326.4L316.8 326.4L315.2 326.4L316.8 327.1L318.7 328L318.7 328L320.7 328.9L322.3 329.6L322.6 329.7L324.6 330.5L326.2 331.2L326.5 331.3L328.5 332L330.4 332.8L330.5 332.8L332.4 333.5L334.3 334.1L335.1 334.4L336.3 334.8L338.2 335.4Z" fill="#f1ba00"/>
<path d="M339.5 329.6L340.2 329.8L342.1 330.5L342.1 329.6L342.1 328L342.1 326.4L340.2 326.4L338.2 326.4L336.3 326.4L334.3 326.4L332.4 326.4L331 326.4L332.4 326.9L334.3 327.7L335.1 328L336.3 328.4L338.2 329.2Z" fill="#ffd600"/>
<path d="M207.8 338.8L208 339.2L208.6 340.8L209.3 342.4L209.7 343.2L210.1 344L210.9 345.6L211.7 347L211.8 347.2L212.7 348.8L213.6 350.4L213.6 350.4L214.6 352L215.6 353.4L215.7 353.6L216.8 355.1L217.5 356.1L218 356.7L219.3 358.3L219.5 358.6L220.6 359.9L221.4 360.8L222.1 361.5L223.4 362.9L223.6 363.1L225.2 364.7L225.3 364.8L226.5 365.9M230.5 369.3L230.7 369.5L231.2 369.9L232.7 371.1L233.1 371.4L234.9 372.7L235 372.8L237 374.2L237.2 374.3L238.9 375.5L239.6 375.9L240.9 376.8L242.1 377.5L242.8 378L244.7 379.1L244.8 379.1L246.7 380.3L247.5 380.7L248.7 381.3L250.6 382.3L250.6 382.3L252.6 383.3L253.8 383.9L254.5 384.3L256.5 385.2L257.1 385.5L258.4 386.1L260.4 387L260.7 387.1L262.3 387.8L264.2 388.6L264.4 388.7L266.2 389.4L268.1 390.1L268.7 390.3L270.1 390.8L272 391.4L273.4 391.9L274 392.1L275.2 392.5M280.1 394L281.8 394.5L283.6 395.1L283.7 395.1L285.7 395.6L287.6 396.1L289.5 396.6L290 396.7L291.5 397L293.4 397.5L295.4 398L296.3 398.3L297.3 398.5L299.3 399L301.2 399.5L303 399.9L303.2 399.9L305.1 400.3L307.1 400.7L309 401L311 401.3L311.8 401.5L312.9 401.6L314.9 401.9L316.8 402.2L318.7 402.5L320.7 402.7L322.6 402.9L323.8 403.1L324.6 403.2L326.5 403.4L328.5 403.6L329.6 403.7M334.8 404.2L336.3 404.3L338.2 404.5L340.2 404.6L340.3 404.7L342.1 404.8M219.7 326.4L220.6 328L221.4 329.3L221.6 329.6L222.6 331.2L223.4 332.4L223.6 332.8L224.7 334.4L225.3 335.2L225.9 336L227.1 337.6L227.3 337.9L228.3 339.2L228.6 339.5M230 341.2L231 342.4L231.2 342.6L232.4 344L233.1 344.7L234 345.6L235 346.7L235.6 347.2L237 348.5L237.3 348.8L238.9 350.2L239.1 350.4L240.9 351.8L241.1 352L242.8 353.3L243.2 353.6L244.8 354.7L245.4 355.1L246.7 356.1L247.7 356.7L248.7 357.4L250.2 358.3L250.6 358.6L252.6 359.9L252.7 359.9L254.5 361.1L255.2 361.5L256.5 362.3L257.8 363.1L258.4 363.5L260.4 364.6L260.6 364.7L262.3 365.7L263.5 366.3L264.2 366.7L266.2 367.7L266.6 367.9L268.1 368.7L270 369.5L270.1 369.6L272 370.5L273.5 371.1L274 371.3L275.9 372.2L277.3 372.7L277.4 372.8M279.5 373.6L279.8 373.7L281.4 374.3L281.8 374.5L283.7 375.2L285.7 375.8L286 375.9L287.6 376.4L289.5 377L291.1 377.5L291.5 377.6L293.4 378.2L295.4 378.8L296.6 379.1L297.3 379.3L299.3 379.9L301.2 380.4L302.2 380.7L303.2 381L305.1 381.5L307.1 382L308.2 382.3L309 382.5L311 383L312.9 383.4L314.9 383.9L314.9 383.9L316.8 384.3L318.7 384.7L320.7 385.1L322.6 385.4L323 385.5L324.6 385.8L326.5 386.1L328.5 386.4L330.4 386.7L331.9 386.9M334.1 387.2L334.3 387.3L336.3 387.6L338.2 387.8L340.2 388.1L342.1 388.3M235.8 326.4L237 327.8L237.2 328L238.6 329.6L238.9 329.9L240.2 331.2L240.9 331.9L241.8 332.8L242.8 333.7L243.6 334.4L244.8 335.5L245.4 336L246.7 337.1L247.3 337.6L248.7 338.7L249.2 339.2L250.6 340.3L251.2 340.8L252.6 341.9L253.2 342.4L254.5 343.4L255.2 344L256.5 344.9L257.4 345.6L258.4 346.2L259.8 347.2L260.4 347.5L262.3 348.8L262.3 348.8L264.2 350L264.8 350.4L266.2 351.2L267.5 352L268.1 352.3L270.1 353.5L270.2 353.6L272 354.6L273.1 355.1L274 355.6L275.9 356.6L276.1 356.7L276.9 357.1M281.6 359.3L281.8 359.4L283.1 359.9L283.7 360.2L285.7 360.9L287.3 361.5L287.6 361.7L289.5 362.4L291.5 363L291.9 363.1L293.4 363.7L295.4 364.3L296.7 364.7L297.3 365L299.3 365.6L301.2 366.2L301.5 366.3L303.2 366.9L305.1 367.5L306.5 367.9L307.1 368.1L309 368.7L311 369.3L311.7 369.5L312.9 369.9L314.9 370.5L316.8 371L317.2 371.1L318.7 371.5L320.7 372L322.6 372.5L323.5 372.7L324.6 373L326.5 373.4L328.5 373.8L330.4 374.2L331.1 374.3L331.2 374.3M336.3 375.3L338.2 375.6L340.2 375.9L340.3 375.9L342.1 376.2M251.8 326.4L252.6 327L253.7 328L254.5 328.7L255.6 329.6L256.5 330.3L257.6 331.2L258.4 331.9L259.6 332.8L260.4 333.4L261.7 334.4L262.3 334.9L263.8 336L264.2 336.3L266 337.6L266.2 337.7L268.1 339.1L268.3 339.2L270.1 340.4L270.7 340.8L272 341.7L273.2 342.4L274 342.9L275.8 344L275.9 344L277.9 345.1L278.7 345.6L279.1 345.8M281 346.8L281.8 347.2L281.8 347.2L283.7 348.1L285.1 348.8L285.7 349L287.6 349.8L289 350.4L289.5 350.6L291.5 351.3L293.4 352L293.4 352L295.4 352.6L297.3 353.3L298 353.6L299.3 354L301.2 354.6L302.8 355.1L303.2 355.3L305.1 355.9L307.1 356.6L307.6 356.7L309 357.2L311 357.9L312.2 358.3L312.9 358.6L314.9 359.2L316.8 359.9L317 359.9L318.7 360.5L320.7 361.1L322 361.5L322.6 361.7L324.6 362.3L326.5 362.9L327.3 363.1L328.5 363.5L330.4 364L332.4 364.5L333.5 364.7L333.5 364.7M335.6 365.2L336.3 365.4L338.2 365.8L340.2 366.1L341.2 366.3L342.1 366.5M267.5 326.4L268.1 326.9L269.6 328L270.1 328.3L271.8 329.6L272 329.7L274 331.1L274.1 331.2L275.9 332.4L276.5 332.8L277.9 333.7L278.6 334.1M283.1 336.7L283.7 337.1L284.7 337.6L285.7 338.1L287.6 339L288 339.2L289.5 339.9L291.5 340.8L291.5 340.8L293.4 341.6L295.3 342.4L295.4 342.4L297.3 343.2L299.3 344L299.3 344L301.2 344.7L303.2 345.5L303.5 345.6L305.1 346.2L307.1 346.9L307.7 347.2L309 347.7L311 348.4L312 348.8L312.9 349.1L314.9 349.8L316.4 350.4L316.8 350.5L318.7 351.2L320.7 351.9L320.9 352L322.6 352.5L324.6 353.2L325.6 353.6L326.5 353.8L328.5 354.5L330.4 355.1L330.6 355.1L332.4 355.7L332.9 355.8M337.9 357.1L338.2 357.2L340.2 357.7L342.1 358.1M283.1 326.4L283.7 326.8L285.7 327.9L285.8 328L287.6 329L288.6 329.6L289.5 330.1L291.5 331.1L291.7 331.2L293.4 332.1L294.9 332.8L295.4 333L297.3 333.9L298.3 334.4L299.3 334.9L301.2 335.7L301.8 336L303.2 336.6L305.1 337.4L305.4 337.6L307.1 338.3L309 339.1L309.2 339.2L311 339.9L312.9 340.7L313.2 340.8L314.9 341.4L316.8 342.2L317.3 342.4L318.7 342.9L320.7 343.7L321.5 344L322.6 344.4L324.6 345.1L326.1 345.6L326.5 345.7L328.5 346.4L330.3 347M332.4 347.6L334.3 348.2L336.3 348.8L336.3 348.8L338.2 349.3L340.2 349.8L342.1 350.3M299.3 326.4L301.2 327.4L302.4 328L303.2 328.4L305.1 329.3L305.7 329.6L307.1 330.2L309 331.1L309.2 331.2L311 332L312.8 332.8L312.9 332.9L314.9 333.7L316.5 334.4L316.8 334.5L318.7 335.3L320.4 336L320.7 336.1L322.6 336.8L324.6 337.6L324.6 337.6L326.5 338.3L328.5 339L329.1 339.2L329.7 339.4M334.6 341L336.3 341.5L338.2 342.1L339.1 342.4L340.2 342.7L342.1 343.2M315.2 326.4L316.8 327.1L318.7 328L318.7 328L320.7 328.9L322.3 329.6L322.6 329.7L324.6 330.5L326.2 331.2L326.5 331.3L328.5 332L330.4 332.8L330.5 332.8L331.9 333.3M334 334L334.3 334.1L335.1 334.4L336.3 334.8L338.2 335.4L340 336L340.2 336L342.1 336.6M331 326.4L332.4 326.9L334.3 327.7L334.6 327.8M339.5 329.6L340.2 329.8L342.1 330.5" fill="none" stroke="#000" stroke-width="1" stroke-linejoin="round"/>
<g font-family="'Liberation Sans', Arial, sans-serif" font-size="3.4" font-weight="bold" fill="#0a0a28" stroke="#0a0a28" stroke-width="0.25" text-anchor="middle">
<text transform="translate(228.5 367.7) rotate(40.5)" y="1.1">0.5</text>
<text transform="translate(277.6 393.3) rotate(17.7)" y="1.1">0.5</text>
<text transform="translate(332.2 403.9) rotate(5.4)" y="1.1">0.5</text>
<text transform="translate(229.3 340.4) rotate(50.3)" y="1.1">1</text>
<text transform="translate(278.4 373.2) rotate(21.7)" y="1.1">1</text>
<text transform="translate(333 387.1) rotate(8.3)" y="1.1">1</text>
<text transform="translate(279.2 358.2) rotate(24.6)" y="1.1">1.5</text>
<text transform="translate(333.8 374.8) rotate(10.2)" y="1.1">1.5</text>
<text transform="translate(280 346.3) rotate(27.6)" y="1.1">2</text>
<text transform="translate(334.6 365) rotate(12.7)" y="1.1">2</text>
<text transform="translate(280.8 335.5) rotate(30.2)" y="1.1">2.5</text>
<text transform="translate(335.4 356.5) rotate(14.8)" y="1.1">2.5</text>
<text transform="translate(331.4 347.3) rotate(17.4)" y="1.1">3</text>
<text transform="translate(332.2 340.2) rotate(18.2)" y="1.1">3.5</text>
<text transform="translate(333 333.7) rotate(19.3)" y="1.1">4</text>
<text transform="translate(337 328.7) rotate(20.1)" y="1.1">4.5</text>
</g>
<rect x="207.8" y="326.4" width="134.3" height="110.2" fill="none" stroke="#1c1c1c" stroke-width="0.9"/>
<path d="M207.8 436.6v-1.4M207.8 326.4v1.4M207.8 436.6h1.4M342.1 436.6h-1.4M234.7 436.6v-1.4M234.7 326.4v1.4M207.8 414.6h1.4M342.1 414.6h-1.4M261.5 436.6v-1.4M261.5 326.4v1.4M207.8 392.5h1.4M342.1 392.5h-1.4M288.4 436.6v-1.4M288.4 326.4v1.4M207.8 370.5h1.4M342.1 370.5h-1.4M315.2 436.6v-1.4M315.2 326.4v1.4M207.8 348.4h1.4M342.1 348.4h-1.4M342.1 436.6v-1.4M342.1 326.4v1.4M207.8 326.4h1.4M342.1 326.4h-1.4" stroke="#262626" stroke-width="0.6" fill="none"/>
<g font-family="'Liberation Sans', Arial, sans-serif" font-weight="bold" font-size="9.7" fill="#1f1f1f" stroke="#1f1f1f" stroke-width="0.15">
<text x="207.8" y="449.2" text-anchor="middle">1</text>
<text x="204.4" y="440.3" text-anchor="end">1</text>
<text x="234.7" y="449.2" text-anchor="middle">2</text>
<text x="204.4" y="418.3" text-anchor="end">2</text>
<text x="261.5" y="449.2" text-anchor="middle">3</text>
<text x="204.4" y="396.2" text-anchor="end">3</text>
<text x="288.4" y="449.2" text-anchor="middle">4</text>
<text x="204.4" y="374.2" text-anchor="end">4</text>
<text x="315.2" y="449.2" text-anchor="middle">5</text>
<text x="204.4" y="352.1" text-anchor="end">5</text>
<text x="342.1" y="449.2" text-anchor="middle">6</text>
<text x="204.4" y="330.1" text-anchor="end">6</text>
<text x="275" y="461.7" text-anchor="middle">Ka</text>
<text transform="translate(194.9 381.5) rotate(-90)" text-anchor="middle">Kr</text>
<rect x="348.5" y="326.4" width="5.8" height="110.2" fill="url(#pg)" stroke="#1c1c1c" stroke-width="0.85" />
<text x="357.7" y="440.3">0</text>
<text x="357.7" y="418.3">1</text>
<text x="357.7" y="396.2">2</text>
<text x="357.7" y="374.2">3</text>
<text x="357.7" y="352.1">4</text>
<text x="357.7" y="330.1">5</text>
</g>
<path d="M354.3 414.6h-1.2M354.3 392.5h-1.2M354.3 370.5h-1.2M354.3 348.4h-1.2" stroke="#262626" stroke-width="0.6" fill="none"/>
<text x="275.7" y="477.2" text-anchor="middle" font-family="'Liberation Serif', 'Times New Roman', serif" font-size="11.8" letter-spacing="0.25" fill="#000">(<tspan font-weight="bold" stroke="#000" stroke-width="0.2">II.c</tspan>)</text>
</g>
<g>
<rect x="389.5" y="326.8" width="135.2" height="110.5" fill="#3d21a8"/>
<path d="M516.8 390.9L516.9 390.9L518.8 391.2L520.8 391.5L522.7 391.8L524.7 392L524.7 390.9L524.7 389.3L524.7 387.7L524.7 386.1L524.7 384.5L524.7 382.9L524.7 381.2L524.7 379.6L524.7 378L524.7 376.4L524.7 374.8L524.7 373.2L524.7 371.6L524.7 370L524.7 368.4L524.7 366.8L524.7 365.2L524.7 363.6L524.7 362L524.7 360.4L524.7 358.8L524.7 357.2L524.7 355.6L524.7 354L524.7 352.4L524.7 350.8L524.7 349.2L524.7 347.6L524.7 346L524.7 344.4L524.7 342.8L524.7 341.2L524.7 339.6L524.7 338L524.7 336.4L524.7 334.8L524.7 333.2L524.7 331.6L524.7 330L524.7 328.4L524.7 326.8L522.7 326.8L520.8 326.8L518.8 326.8L516.9 326.8L514.9 326.8L512.9 326.8L511 326.8L509 326.8L507.1 326.8L505.1 326.8L503.1 326.8L501.2 326.8L499.2 326.8L497.3 326.8L495.3 326.8L493.3 326.8L491.4 326.8L489.4 326.8L487.5 326.8L485.5 326.8L483.6 326.8L481.6 326.8L479.6 326.8L477.7 326.8L475.7 326.8L473.8 326.8L471.8 326.8L469.8 326.8L467.9 326.8L465.9 326.8L464 326.8L462 326.8L460 326.8L458.1 326.8L456.1 326.8L454.2 326.8L452.2 326.8L450.2 326.8L448.3 326.8L446.3 326.8L444.4 326.8L442.4 326.8L440.4 326.8L438.5 326.8L436.5 326.8L434.6 326.8L432.6 326.8L430.6 326.8L428.7 326.8L426.7 326.8L424.8 326.8L422.8 326.8L420.9 326.8L418.9 326.8L416.9 326.8L415 326.8L413 326.8L411.1 326.8L409.1 326.8L407.1 326.8L405.2 326.8L403.2 326.8L401.3 326.8L400.8 326.8L401.3 327.5L401.8 328.4L402.8 330L403.2 330.6L403.9 331.6L405 333.2L405.2 333.5L406.1 334.8L407.1 336.1L407.4 336.4L408.6 338L409.1 338.6L409.9 339.6L411.1 341L411.3 341.2L412.7 342.8L413 343.2L414.1 344.4L415 345.3L415.6 346L416.9 347.4L417.1 347.6L418.8 349.2L418.9 349.4L420.5 350.8L420.9 351.2L422.3 352.4L422.8 352.9L424.2 354L424.8 354.5L426.1 355.6L426.7 356.1L428.2 357.2L428.7 357.6L430.4 358.8L430.6 359L432.6 360.4L432.6 360.4L434.6 361.8L434.9 362L436.5 363.1L437.3 363.6L438.5 364.4L439.8 365.2L440.4 365.6L442.4 366.8L442.5 366.8L444.4 367.9L445.2 368.4L446.3 369L448.2 370L448.3 370.1L450.2 371.1L451.3 371.6L452.2 372.1L454.2 373L454.8 373.2L456.1 373.9L458.1 374.7L458.4 374.8L460 375.6L462 376.4L462.2 376.4L464 377.2L465.9 377.9L466.2 378L467.9 378.7L469.8 379.4L470.6 379.6L471.8 380.1L473.8 380.7L475.2 381.2L475.7 381.4L477.7 382.1L479.6 382.7L480 382.9L481.6 383.4L483.6 384L485.3 384.5L485.5 384.5L487.5 385.1L489.4 385.6L491.4 386L491.5 386.1L493.3 386.5L495.3 386.9L497.3 387.4L498.7 387.7L499.2 387.8L501.2 388.2L503.1 388.5L505.1 388.9L507 389.3L507.1 389.3L509 389.6L511 389.9L512.9 390.3L514.9 390.6Z" fill="#443be7"/>
<path d="M519.2 366.8L520.8 367.2L522.7 367.6L524.7 368L524.7 366.8L524.7 365.2L524.7 363.6L524.7 362L524.7 360.4L524.7 358.8L524.7 357.2L524.7 355.6L524.7 354L524.7 352.4L524.7 350.8L524.7 349.2L524.7 347.6L524.7 346L524.7 344.4L524.7 342.8L524.7 341.2L524.7 339.6L524.7 338L524.7 336.4L524.7 334.8L524.7 333.2L524.7 331.6L524.7 330L524.7 328.4L524.7 326.8L522.7 326.8L520.8 326.8L518.8 326.8L516.9 326.8L514.9 326.8L512.9 326.8L511 326.8L509 326.8L507.1 326.8L505.1 326.8L503.1 326.8L501.2 326.8L499.2 326.8L497.3 326.8L495.3 326.8L493.3 326.8L491.4 326.8L489.4 326.8L487.5 326.8L485.5 326.8L483.6 326.8L481.6 326.8L479.6 326.8L477.7 326.8L475.7 326.8L473.8 326.8L471.8 326.8L469.8 326.8L467.9 326.8L465.9 326.8L464 326.8L462 326.8L460 326.8L458.1 326.8L456.1 326.8L454.2 326.8L452.2 326.8L450.2 326.8L448.3 326.8L446.3 326.8L444.4 326.8L442.4 326.8L440.4 326.8L438.5 326.8L437.3 326.8L438.5 327.7L439.3 328.4L440.4 329.3L441.4 330L442.4 330.7L443.6 331.6L444.4 332.2L445.8 333.2L446.3 333.6L448 334.8L448.3 335L450.2 336.3L450.4 336.4L452.2 337.6L452.8 338L454.2 338.9L455.4 339.6L456.1 340.1L457.9 341.2L458.1 341.3L460 342.5L460.5 342.8L462 343.7L463.1 344.4L464 344.9L465.8 346L465.9 346.1L467.9 347.2L468.7 347.6L469.8 348.2L471.8 349.2L471.9 349.2L473.8 350.1L475.2 350.8L475.7 351.1L477.7 352L478.6 352.4L479.6 352.9L481.6 353.8L482.2 354L483.6 354.6L485.5 355.5L485.9 355.6L487.5 356.3L489.4 357.1L489.7 357.2L491.4 357.9L493.3 358.7L493.6 358.8L495.3 359.5L497.3 360.3L497.7 360.4L499.2 361L501.2 361.7L502.1 362L503.1 362.4L505.1 363L507.1 363.6L507.1 363.6L509 364.2L511 364.8L512.6 365.2L512.9 365.3L514.9 365.8L516.9 366.3L518.8 366.7Z" fill="#3062fd"/>
<path d="M523 349.2L524.7 349.8L524.7 349.2L524.7 347.6L524.7 346L524.7 344.4L524.7 342.8L524.7 341.2L524.7 339.6L524.7 338L524.7 336.4L524.7 334.8L524.7 333.2L524.7 331.6L524.7 330L524.7 328.4L524.7 326.8L522.7 326.8L520.8 326.8L518.8 326.8L516.9 326.8L514.9 326.8L512.9 326.8L511 326.8L509 326.8L507.1 326.8L505.1 326.8L503.1 326.8L501.2 326.8L499.2 326.8L497.3 326.8L495.3 326.8L493.3 326.8L491.4 326.8L489.4 326.8L487.5 326.8L485.5 326.8L483.6 326.8L481.6 326.8L479.6 326.8L477.7 326.8L475.7 326.8L473.8 326.8L471.8 326.8L471.1 326.8L471.8 327.2L473.8 328.3L474 328.4L475.7 329.3L477 330L477.7 330.3L479.6 331.3L480.3 331.6L481.6 332.3L483.6 333.2L483.6 333.2L485.5 334.1L487.1 334.8L487.5 335L489.4 335.9L490.5 336.4L491.4 336.8L493.3 337.7L494 338L495.3 338.6L497.3 339.5L497.5 339.6L499.2 340.4L501.2 341.2L501.2 341.2L503.1 342L505.1 342.8L505.1 342.8L507.1 343.6L509 344.3L509.2 344.4L511 345.1L512.9 345.8L513.6 346L514.9 346.5L516.9 347.2L518.2 347.6L518.8 347.8L520.8 348.5L522.7 349.1Z" fill="#0986f3"/>
<path d="M520.6 333.2L520.8 333.3L522.7 334L524.7 334.8L524.7 333.2L524.7 331.6L524.7 330L524.7 328.4L524.7 326.8L522.7 326.8L520.8 326.8L518.8 326.8L516.9 326.8L514.9 326.8L512.9 326.8L511 326.8L509 326.8L507.1 326.8L505.1 326.8L505.1 326.8L505.1 326.8L507.1 327.7L508.8 328.4L509 328.5L511 329.3L512.6 330L512.9 330.1L514.9 330.9L516.5 331.6L516.9 331.7L518.8 332.5Z" fill="#00a5df"/>
<path d="M400.8 326.8L401.3 327.5L401.8 328.4L402.8 330L403.2 330.6L403.9 331.6L405 333.2L405.2 333.5L406.1 334.8L407.1 336.1L407.4 336.4L408.6 338L408.7 338.1M412 342L412.7 342.8L413 343.2L414.1 344.4L415 345.3L415.6 346L416.9 347.4L417.1 347.6L418.8 349.2L418.9 349.4L420.5 350.8L420.9 351.2L422.3 352.4L422.8 352.9L424.2 354L424.8 354.5L426.1 355.6L426.7 356.1L428.2 357.2L428.7 357.6L430.4 358.8L430.6 359L432.6 360.4L432.6 360.4L434.6 361.8L434.9 362L436.5 363.1L437.3 363.6L438.5 364.4L439.8 365.2L440.4 365.6L442.4 366.8L442.5 366.8L444.4 367.9L445.2 368.4L446.3 369L448.2 370L448.3 370.1L450.2 371.1L451.3 371.6L452.2 372.1L454.2 373L454.8 373.2L456.1 373.9L457.4 374.4M462.2 376.4L462.2 376.4L464 377.2L465.9 377.9L466.2 378L467.9 378.7L469.8 379.4L470.6 379.6L471.8 380.1L473.8 380.7L475.2 381.2L475.7 381.4L477.7 382.1L479.6 382.7L480 382.9L481.6 383.4L483.6 384L485.3 384.5L485.5 384.5L487.5 385.1L489.4 385.6L491.4 386L491.5 386.1L493.3 386.5L495.3 386.9L497.3 387.4L498.7 387.7L499.2 387.8L501.2 388.2L503.1 388.5L505.1 388.9L507 389.3L507.1 389.3L509 389.6L511 389.9L512.1 390.1M517.3 390.9L518.8 391.2L520.8 391.5L522.7 391.8L524.7 392M437.3 326.8L438.5 327.7L439.3 328.4L440.4 329.3L441.4 330L442.4 330.7L443.6 331.6L444.4 332.2L445.8 333.2L446.3 333.6L448 334.8L448.3 335L450.2 336.3L450.4 336.4L452.2 337.6L452.8 338L454.2 338.9L455.4 339.6L456.1 340.1L457.9 341.2L458.1 341.3L459.7 342.3M461.6 343.5L462 343.7L463.1 344.4L464 344.9L465.8 346L465.9 346.1L467.9 347.2L468.7 347.6L469.8 348.2L471.8 349.2L471.9 349.2L473.8 350.1L475.2 350.8L475.7 351.1L477.7 352L478.6 352.4L479.6 352.9L481.6 353.8L482.2 354L483.6 354.6L485.5 355.5L485.9 355.6L487.5 356.3L489.4 357.1L489.7 357.2L491.4 357.9L493.3 358.7L493.6 358.8L495.3 359.5L497.3 360.3L497.7 360.4L499.2 361L501.2 361.7L502.1 362L503.1 362.4L505.1 363L507.1 363.6L507.1 363.6L509 364.2L511 364.8L512.6 365.2L512.9 365.3L514.4 365.7M516.6 366.2L516.9 366.3L518.8 366.7L519.2 366.8L520.8 367.2L522.7 367.6L524.7 368M471.1 326.8L471.8 327.2L473.8 328.3L474 328.4L475.7 329.3L477 330L477.7 330.3L479.6 331.3L480.3 331.6L481.6 332.3L483.6 333.2L483.6 333.2L485.5 334.1L487.1 334.8L487.5 335L489.4 335.9L490.5 336.4L491.4 336.8L493.3 337.7L494 338L495.3 338.6L497.3 339.5L497.5 339.6L499.2 340.4L501.2 341.2L501.2 341.2L503.1 342L505.1 342.8L505.1 342.8L507.1 343.6L509 344.3L509.2 344.4L511 345.1L512.9 345.8L513.6 346L513.9 346.1M518.8 347.8L518.8 347.8L520.8 348.5L522.7 349.1L523 349.2L524.7 349.8M505.1 326.8L505.1 326.8L507.1 327.7L508.8 328.4L509 328.5L511 329.3L512.6 330L512.9 330.1L514.9 330.9L516.1 331.4M518.1 332.2L518.8 332.5L520.6 333.2L520.8 333.3L522.7 334L524.7 334.8" fill="none" stroke="#000" stroke-width="1" stroke-linejoin="round"/>
<g font-family="'Liberation Sans', Arial, sans-serif" font-size="3.4" font-weight="bold" fill="#0a0a28" stroke="#0a0a28" stroke-width="0.25" text-anchor="middle">
<text transform="translate(410.3 340.1) rotate(49.9)" y="1.1">0.5</text>
<text transform="translate(459.8 375.5) rotate(22.8)" y="1.1">0.5</text>
<text transform="translate(514.7 390.5) rotate(8.9)" y="1.1">0.5</text>
<text transform="translate(460.6 342.9) rotate(31.5)" y="1.1">1</text>
<text transform="translate(515.5 366) rotate(13.9)" y="1.1">1</text>
<text transform="translate(516.3 347) rotate(19.2)" y="1.1">1.5</text>
<text transform="translate(517.1 331.8) rotate(21.9)" y="1.1">2</text>
</g>
<rect x="389.5" y="326.8" width="135.2" height="110.5" fill="none" stroke="#1c1c1c" stroke-width="0.9"/>
<path d="M389.5 437.3v-1.4M389.5 326.8v1.4M389.5 437.3h1.4M524.7 437.3h-1.4M416.5 437.3v-1.4M416.5 326.8v1.4M389.5 415.2h1.4M524.7 415.2h-1.4M443.6 437.3v-1.4M443.6 326.8v1.4M389.5 393.1h1.4M524.7 393.1h-1.4M470.6 437.3v-1.4M470.6 326.8v1.4M389.5 371h1.4M524.7 371h-1.4M497.7 437.3v-1.4M497.7 326.8v1.4M389.5 348.9h1.4M524.7 348.9h-1.4M524.7 437.3v-1.4M524.7 326.8v1.4M389.5 326.8h1.4M524.7 326.8h-1.4" stroke="#262626" stroke-width="0.6" fill="none"/>
<g font-family="'Liberation Sans', Arial, sans-serif" font-weight="bold" font-size="9.7" fill="#1f1f1f" stroke="#1f1f1f" stroke-width="0.15">
<text x="389.5" y="449.9" text-anchor="middle">1</text>
<text x="386.1" y="441" text-anchor="end">1</text>
<text x="416.5" y="449.9" text-anchor="middle">2</text>
<text x="386.1" y="418.9" text-anchor="end">2</text>
<text x="443.6" y="449.9" text-anchor="middle">3</text>
<text x="386.1" y="396.8" text-anchor="end">3</text>
<text x="470.6" y="449.9" text-anchor="middle">4</text>
<text x="386.1" y="374.7" text-anchor="end">4</text>
<text x="497.7" y="449.9" text-anchor="middle">5</text>
<text x="386.1" y="352.6" text-anchor="end">5</text>
<text x="524.7" y="449.9" text-anchor="middle">6</text>
<text x="386.1" y="330.5" text-anchor="end">6</text>
<text x="457.1" y="462.4" text-anchor="middle">Ka</text>
<text transform="translate(376.6 382.1) rotate(-90)" text-anchor="middle">Kr</text>
<rect x="531.1" y="326.8" width="5.8" height="110.5" fill="url(#pg)" stroke="#1c1c1c" stroke-width="0.85" />
<text x="540.3" y="441">0</text>
<text x="540.3" y="418.9">1</text>
<text x="540.3" y="396.8">2</text>
<text x="540.3" y="374.7">3</text>
<text x="540.3" y="352.6">4</text>
<text x="540.3" y="330.5">5</text>
</g>
<path d="M536.9 415.2h-1.2M536.9 393.1h-1.2M536.9 371h-1.2M536.9 348.9h-1.2" stroke="#262626" stroke-width="0.6" fill="none"/>
<text x="458.6" y="477.9" text-anchor="middle" font-family="'Liberation Serif', 'Times New Roman', serif" font-size="11.8" letter-spacing="0.25" fill="#000">(<tspan font-weight="bold" stroke="#000" stroke-width="0.2">III.c</tspan>)</text>
</g>
</svg>
</body></html>
